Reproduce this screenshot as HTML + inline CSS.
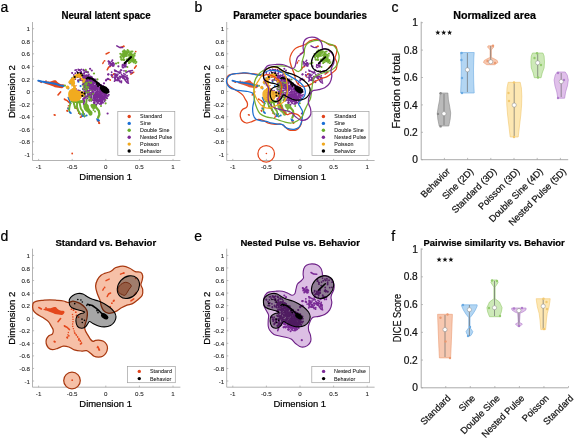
<!DOCTYPE html>
<html><head><meta charset="utf-8"><style>
html,body{margin:0;padding:0;background:#fff;}
body{width:575px;height:438px;overflow:hidden;font-family:"Liberation Sans", sans-serif;}
svg{display:block;will-change:transform;}
</style></head><body>
<svg width="575" height="438" viewBox="0 0 575 438" font-family='"Liberation Sans", sans-serif'>
<rect width="575" height="438" fill="#fff"/>
<text x="0.6" y="11.9" font-size="14" text-anchor="start" fill="#000" stroke="#000" stroke-width="0.22">a</text>
<text x="194.4" y="11.7" font-size="14" text-anchor="start" fill="#000" stroke="#000" stroke-width="0.22">b</text>
<text x="391.4" y="11.6" font-size="14" text-anchor="start" fill="#000" stroke="#000" stroke-width="0.22">c</text>
<text x="0.6" y="241.3" font-size="14" text-anchor="start" fill="#000" stroke="#000" stroke-width="0.22">d</text>
<text x="194.2" y="241.4" font-size="14" text-anchor="start" fill="#000" stroke="#000" stroke-width="0.22">e</text>
<text x="391.3" y="241.3" font-size="14" text-anchor="start" fill="#000" stroke="#000" stroke-width="0.22">f</text>
<path d="M32.5 22V160.5H180.4" fill="none" stroke="#a0a0a0" stroke-width="0.8"/>
<path d="M32.5 154.30h1.6" stroke="#a0a0a0" stroke-width="0.7"/>
<text x="30.0" y="156.9" font-size="6.2" text-anchor="end" fill="#1a1a1a" stroke="#1a1a1a" stroke-width="0.08">-1</text>
<path d="M32.5 141.74h1.6" stroke="#a0a0a0" stroke-width="0.7"/>
<text x="30.0" y="144.34" font-size="6.2" text-anchor="end" fill="#1a1a1a" stroke="#1a1a1a" stroke-width="0.08">-0.8</text>
<path d="M32.5 129.18h1.6" stroke="#a0a0a0" stroke-width="0.7"/>
<text x="30.0" y="131.78" font-size="6.2" text-anchor="end" fill="#1a1a1a" stroke="#1a1a1a" stroke-width="0.08">-0.6</text>
<path d="M32.5 116.62h1.6" stroke="#a0a0a0" stroke-width="0.7"/>
<text x="30.0" y="119.22" font-size="6.2" text-anchor="end" fill="#1a1a1a" stroke="#1a1a1a" stroke-width="0.08">-0.4</text>
<path d="M32.5 104.06h1.6" stroke="#a0a0a0" stroke-width="0.7"/>
<text x="30.0" y="106.66" font-size="6.2" text-anchor="end" fill="#1a1a1a" stroke="#1a1a1a" stroke-width="0.08">-0.2</text>
<path d="M32.5 91.50h1.6" stroke="#a0a0a0" stroke-width="0.7"/>
<text x="30.0" y="94.1" font-size="6.2" text-anchor="end" fill="#1a1a1a" stroke="#1a1a1a" stroke-width="0.08">0</text>
<path d="M32.5 78.94h1.6" stroke="#a0a0a0" stroke-width="0.7"/>
<text x="30.0" y="81.53999999999999" font-size="6.2" text-anchor="end" fill="#1a1a1a" stroke="#1a1a1a" stroke-width="0.08">0.2</text>
<path d="M32.5 66.38h1.6" stroke="#a0a0a0" stroke-width="0.7"/>
<text x="30.0" y="68.97999999999999" font-size="6.2" text-anchor="end" fill="#1a1a1a" stroke="#1a1a1a" stroke-width="0.08">0.4</text>
<path d="M32.5 53.82h1.6" stroke="#a0a0a0" stroke-width="0.7"/>
<text x="30.0" y="56.419999999999995" font-size="6.2" text-anchor="end" fill="#1a1a1a" stroke="#1a1a1a" stroke-width="0.08">0.6</text>
<path d="M32.5 41.26h1.6" stroke="#a0a0a0" stroke-width="0.7"/>
<text x="30.0" y="43.86" font-size="6.2" text-anchor="end" fill="#1a1a1a" stroke="#1a1a1a" stroke-width="0.08">0.8</text>
<path d="M32.5 28.70h1.6" stroke="#a0a0a0" stroke-width="0.7"/>
<text x="30.0" y="31.300000000000004" font-size="6.2" text-anchor="end" fill="#1a1a1a" stroke="#1a1a1a" stroke-width="0.08">1</text>
<path d="M38.60 160.5v-1.6" stroke="#a0a0a0" stroke-width="0.7"/>
<text x="38.599999999999994" y="169.1" font-size="6.2" text-anchor="middle" fill="#1a1a1a" stroke="#1a1a1a" stroke-width="0.08">-1</text>
<path d="M72.20 160.5v-1.6" stroke="#a0a0a0" stroke-width="0.7"/>
<text x="72.19999999999999" y="169.1" font-size="6.2" text-anchor="middle" fill="#1a1a1a" stroke="#1a1a1a" stroke-width="0.08">-0.5</text>
<path d="M105.80 160.5v-1.6" stroke="#a0a0a0" stroke-width="0.7"/>
<text x="105.8" y="169.1" font-size="6.2" text-anchor="middle" fill="#1a1a1a" stroke="#1a1a1a" stroke-width="0.08">0</text>
<path d="M139.40 160.5v-1.6" stroke="#a0a0a0" stroke-width="0.7"/>
<text x="139.4" y="169.1" font-size="6.2" text-anchor="middle" fill="#1a1a1a" stroke="#1a1a1a" stroke-width="0.08">0.5</text>
<path d="M173.00 160.5v-1.6" stroke="#a0a0a0" stroke-width="0.7"/>
<text x="173.0" y="169.1" font-size="6.2" text-anchor="middle" fill="#1a1a1a" stroke="#1a1a1a" stroke-width="0.08">1</text>
<text x="79.3" y="180.2" font-size="9.9" text-anchor="start" fill="#000" stroke="#000" stroke-width="0.22" textLength="52.6" lengthAdjust="spacingAndGlyphs">Dimension 1</text>
<text x="15.4" y="118.0" font-size="9.9" text-anchor="start" fill="#000" stroke="#000" stroke-width="0.22" transform="rotate(-90 15.4 118.0)" textLength="52.9" lengthAdjust="spacingAndGlyphs">Dimension 2</text>
<text x="61.4" y="19.2" font-size="10.0" text-anchor="start" font-weight="bold" fill="#000" stroke="#000" stroke-width="0.22" textLength="89.3" lengthAdjust="spacingAndGlyphs">Neural latent space</text>
<path d="M43.80 82.20 C44.35 81.92 45.98 81.70 47.10 81.60 C48.22 81.50 49.47 81.78 50.50 81.60 C51.53 81.42 52.47 80.72 53.30 80.50 C54.13 80.28 54.77 80.02 55.50 80.30 C56.23 80.58 56.87 81.60 57.70 82.20 C58.53 82.80 59.48 83.53 60.50 83.90 C61.52 84.27 63.15 84.03 63.80 84.40 C64.45 84.77 64.67 85.45 64.40 86.10 C64.13 86.75 63.22 88.02 62.20 88.30 C61.18 88.58 59.52 87.98 58.30 87.80 C57.08 87.62 55.93 87.48 54.90 87.20 C53.87 86.92 53.02 86.47 52.10 86.10 C51.18 85.73 50.42 85.37 49.40 85.00 C48.38 84.63 46.93 84.18 46.00 83.90 C45.07 83.62 44.17 83.58 43.80 83.30 C43.43 83.02 43.25 82.48 43.80 82.20Z" fill="#e4471c" fill-opacity="1.0"/>
<path d="M38.80 80.80 L41.40 82.30" fill="none" stroke="#e4471c" stroke-width="1.60" stroke-linecap="round" stroke-linejoin="round"/>
<path d="M72.40 87.20 L73.00 91.00 L73.00 94.90 L72.40 98.70 L73.60 102.50 L74.90 106.40 L77.50 110.20 L80.00 114.10 L82.00 117.30" fill="none" stroke="#e4471c" stroke-width="1.30" stroke-dasharray="1.3 1.1"/>
<path d="M68.50 105.10 L67.20 111.50" fill="none" stroke="#e4471c" stroke-width="1.20" stroke-dasharray="1.3 1.1"/>
<path d="M74.20 105.60 L78.00 110.50 L81.80 115.90" fill="none" stroke="#e4471c" stroke-width="1.20" stroke-dasharray="1.3 1.1"/>
<path d="M64.70 99.50 L67.00 100.50 L69.50 102.90" fill="none" stroke="#e4471c" stroke-width="1.50" stroke-linecap="round" stroke-linejoin="round"/>
<path d="M97.80 119.80 L99.60 123.40" fill="none" stroke="#e4471c" stroke-width="1.40" stroke-linecap="round" stroke-linejoin="round"/>
<circle cx="71.50" cy="82.50" r="0.90" fill="#e4471c"/>
<circle cx="73.50" cy="83.50" r="0.90" fill="#e4471c"/>
<circle cx="75.80" cy="85.50" r="0.90" fill="#e4471c"/>
<circle cx="76.50" cy="88.80" r="0.90" fill="#e4471c"/>
<circle cx="78.50" cy="90.50" r="0.90" fill="#e4471c"/>
<circle cx="54.30" cy="114.80" r="0.90" fill="#e4471c"/>
<circle cx="97.50" cy="120.70" r="0.90" fill="#e4471c"/>
<circle cx="67.40" cy="111.10" r="0.90" fill="#e4471c"/>
<circle cx="68.80" cy="109.10" r="0.90" fill="#e4471c"/>
<circle cx="46.00" cy="81.20" r="0.90" fill="#e4471c"/>
<circle cx="64.50" cy="99.10" r="0.90" fill="#e4471c"/>
<circle cx="55.00" cy="115.10" r="0.90" fill="#e4471c"/>
<circle cx="80.60" cy="117.20" r="0.90" fill="#e4471c"/>
<circle cx="98.90" cy="123.00" r="0.90" fill="#e4471c"/>
<circle cx="78.80" cy="113.20" r="0.90" fill="#e4471c"/>
<circle cx="67.10" cy="110.60" r="0.90" fill="#e4471c"/>
<circle cx="72.20" cy="153.50" r="0.90" fill="#e4471c"/>
<circle cx="123.70" cy="46.40" r="0.90" fill="#e4471c"/>
<circle cx="135.70" cy="51.60" r="0.90" fill="#e4471c"/>
<circle cx="113.40" cy="74.40" r="0.90" fill="#e4471c"/>
<circle cx="114.00" cy="73.80" r="0.90" fill="#e4471c"/>
<circle cx="111.90" cy="76.50" r="0.90" fill="#e4471c"/>
<circle cx="110.20" cy="80.00" r="0.90" fill="#e4471c"/>
<circle cx="104.60" cy="60.80" r="0.90" fill="#e4471c"/>
<path d="M58.00 95.00 L60.60 91.90" fill="none" stroke="#e4471c" stroke-width="1.60" stroke-linecap="round" stroke-linejoin="round"/>
<path d="M102.80 63.50 L103.50 62.00" fill="none" stroke="#e4471c" stroke-width="1.40" stroke-linecap="round" stroke-linejoin="round"/>
<path d="M106.00 54.00 L109.20 52.40" fill="none" stroke="#e4471c" stroke-width="1.40" stroke-linecap="round" stroke-linejoin="round"/>
<path d="M107.20 69.80 L108.50 67.30 L110.60 66.30" fill="none" stroke="#e4471c" stroke-width="1.50" stroke-linecap="round" stroke-linejoin="round"/>
<path d="M134.50 68.20 L136.30 65.80" fill="none" stroke="#e4471c" stroke-width="1.50" stroke-linecap="round" stroke-linejoin="round"/>
<path d="M130.90 74.20 L133.80 72.20" fill="none" stroke="#e4471c" stroke-width="1.50" stroke-linecap="round" stroke-linejoin="round"/>
<path d="M120.50 47.50 L124.00 46.20" fill="none" stroke="#e4471c" stroke-width="1.40" stroke-linecap="round" stroke-linejoin="round"/>
<path d="M38.20 80.70 L41.60 81.50 L46.00 82.30 L49.90 82.90 L53.80 83.50 L57.10 84.30 L59.90 85.40 L63.30 86.00" fill="none" stroke="#1b70d2" stroke-width="1.90" stroke-linecap="round" stroke-linejoin="round"/>
<circle cx="72.00" cy="78.30" r="1.10" fill="#1b70d2"/>
<circle cx="70.30" cy="83.40" r="1.10" fill="#1b70d2"/>
<circle cx="78.40" cy="81.70" r="1.10" fill="#1b70d2"/>
<circle cx="80.60" cy="86.10" r="1.10" fill="#1b70d2"/>
<circle cx="68.30" cy="88.40" r="1.10" fill="#1b70d2"/>
<circle cx="83.40" cy="89.50" r="1.10" fill="#1b70d2"/>
<circle cx="68.30" cy="108.60" r="1.10" fill="#1b70d2"/>
<circle cx="82.60" cy="116.00" r="1.10" fill="#1b70d2"/>
<circle cx="98.00" cy="120.50" r="1.10" fill="#1b70d2"/>
<circle cx="86.50" cy="115.50" r="1.10" fill="#1b70d2"/>
<circle cx="70.20" cy="112.50" r="1.10" fill="#1b70d2"/>
<circle cx="69.50" cy="99.00" r="1.10" fill="#1b70d2"/>
<circle cx="84.00" cy="114.00" r="1.10" fill="#1b70d2"/>
<path d="M68.20 97.50 L69.50 100.50 L70.80 103.60" fill="none" stroke="#1b70d2" stroke-width="1.50" stroke-linecap="round" stroke-linejoin="round"/>
<path d="M96.80 119.00 L99.20 120.50" fill="none" stroke="#1b70d2" stroke-width="1.50" stroke-linecap="round" stroke-linejoin="round"/>
<path d="M69.20 111.50 L71.00 113.20" fill="none" stroke="#1b70d2" stroke-width="1.50" stroke-linecap="round" stroke-linejoin="round"/>
<path d="M81.80 114.00 L84.50 116.80" fill="none" stroke="#1b70d2" stroke-width="1.50" stroke-linecap="round" stroke-linejoin="round"/>
<path d="M123.50 51.50 C124.25 50.50 125.67 50.33 126.50 50.50 C127.33 50.67 128.42 51.67 128.50 52.50 C128.58 53.33 127.67 54.67 127.00 55.50 C126.33 56.33 125.33 57.33 124.50 57.50 C123.67 57.67 122.17 57.50 122.00 56.50 C121.83 55.50 122.75 52.50 123.50 51.50Z" fill="#70ad2e" fill-opacity="1.0"/>
<path d="M131.00 54.00 C131.58 53.58 132.92 54.25 133.50 55.00 C134.08 55.75 134.58 57.42 134.50 58.50 C134.42 59.58 133.67 61.08 133.00 61.50 C132.33 61.92 131.00 61.67 130.50 61.00 C130.00 60.33 129.92 58.67 130.00 57.50 C130.08 56.33 130.42 54.42 131.00 54.00Z" fill="#70ad2e" fill-opacity="1.0"/>
<circle cx="126.23" cy="52.44" r="1.00" fill="#70ad2e"/>
<circle cx="129.82" cy="59.88" r="1.00" fill="#70ad2e"/>
<circle cx="129.37" cy="54.91" r="1.00" fill="#70ad2e"/>
<circle cx="132.62" cy="58.04" r="1.00" fill="#70ad2e"/>
<circle cx="133.52" cy="59.42" r="1.00" fill="#70ad2e"/>
<circle cx="134.58" cy="55.82" r="1.00" fill="#70ad2e"/>
<circle cx="132.46" cy="51.41" r="1.00" fill="#70ad2e"/>
<circle cx="131.21" cy="58.76" r="1.00" fill="#70ad2e"/>
<circle cx="132.52" cy="60.56" r="1.00" fill="#70ad2e"/>
<circle cx="121.58" cy="59.55" r="1.00" fill="#70ad2e"/>
<circle cx="120.27" cy="53.85" r="1.00" fill="#70ad2e"/>
<circle cx="130.58" cy="58.55" r="1.00" fill="#70ad2e"/>
<circle cx="134.71" cy="53.58" r="1.00" fill="#70ad2e"/>
<circle cx="121.96" cy="59.52" r="1.00" fill="#70ad2e"/>
<circle cx="126.71" cy="59.45" r="1.00" fill="#70ad2e"/>
<circle cx="128.28" cy="55.10" r="1.00" fill="#70ad2e"/>
<circle cx="127.64" cy="60.50" r="1.00" fill="#70ad2e"/>
<circle cx="127.05" cy="60.76" r="1.00" fill="#70ad2e"/>
<circle cx="129.12" cy="62.96" r="1.00" fill="#70ad2e"/>
<circle cx="131.22" cy="53.91" r="1.00" fill="#70ad2e"/>
<circle cx="135.22" cy="60.87" r="1.00" fill="#70ad2e"/>
<circle cx="121.29" cy="59.40" r="1.00" fill="#70ad2e"/>
<circle cx="131.23" cy="60.84" r="1.00" fill="#70ad2e"/>
<circle cx="130.38" cy="55.48" r="1.00" fill="#70ad2e"/>
<circle cx="123.70" cy="55.79" r="1.00" fill="#70ad2e"/>
<circle cx="132.65" cy="59.72" r="1.00" fill="#70ad2e"/>
<circle cx="126.77" cy="55.99" r="1.00" fill="#70ad2e"/>
<circle cx="123.15" cy="59.82" r="1.00" fill="#70ad2e"/>
<circle cx="132.97" cy="60.56" r="1.00" fill="#70ad2e"/>
<circle cx="123.20" cy="51.36" r="1.00" fill="#70ad2e"/>
<circle cx="123.62" cy="57.89" r="1.00" fill="#70ad2e"/>
<circle cx="122.12" cy="54.03" r="1.00" fill="#70ad2e"/>
<circle cx="123.46" cy="59.65" r="1.00" fill="#70ad2e"/>
<circle cx="130.20" cy="60.25" r="1.00" fill="#70ad2e"/>
<circle cx="129.36" cy="56.76" r="1.00" fill="#70ad2e"/>
<circle cx="130.92" cy="57.01" r="1.00" fill="#70ad2e"/>
<circle cx="131.12" cy="51.57" r="1.00" fill="#70ad2e"/>
<circle cx="132.54" cy="61.40" r="1.00" fill="#70ad2e"/>
<circle cx="120.61" cy="56.96" r="1.00" fill="#70ad2e"/>
<circle cx="130.13" cy="54.40" r="1.00" fill="#70ad2e"/>
<circle cx="130.44" cy="62.14" r="1.00" fill="#70ad2e"/>
<circle cx="129.99" cy="53.61" r="1.00" fill="#70ad2e"/>
<circle cx="133.81" cy="59.90" r="1.00" fill="#70ad2e"/>
<circle cx="123.65" cy="56.80" r="1.00" fill="#70ad2e"/>
<circle cx="130.11" cy="52.48" r="1.00" fill="#70ad2e"/>
<circle cx="122.62" cy="56.38" r="1.00" fill="#70ad2e"/>
<circle cx="120.61" cy="56.72" r="1.00" fill="#70ad2e"/>
<circle cx="136.41" cy="62.08" r="1.00" fill="#70ad2e"/>
<circle cx="132.34" cy="60.17" r="1.00" fill="#70ad2e"/>
<circle cx="125.17" cy="54.64" r="1.00" fill="#70ad2e"/>
<circle cx="128.65" cy="51.11" r="1.00" fill="#70ad2e"/>
<circle cx="131.22" cy="57.30" r="1.00" fill="#70ad2e"/>
<circle cx="133.25" cy="60.48" r="1.00" fill="#70ad2e"/>
<circle cx="126.32" cy="51.72" r="1.00" fill="#70ad2e"/>
<circle cx="128.89" cy="58.20" r="1.00" fill="#70ad2e"/>
<circle cx="131.85" cy="56.63" r="1.00" fill="#70ad2e"/>
<circle cx="129.63" cy="60.38" r="1.00" fill="#70ad2e"/>
<circle cx="122.75" cy="51.63" r="1.00" fill="#70ad2e"/>
<circle cx="128.12" cy="60.92" r="1.00" fill="#70ad2e"/>
<circle cx="133.91" cy="62.52" r="1.00" fill="#70ad2e"/>
<circle cx="127.29" cy="60.26" r="1.00" fill="#70ad2e"/>
<circle cx="121.23" cy="55.00" r="1.00" fill="#70ad2e"/>
<circle cx="132.99" cy="54.73" r="1.00" fill="#70ad2e"/>
<circle cx="126.05" cy="54.38" r="1.00" fill="#70ad2e"/>
<circle cx="134.64" cy="53.81" r="1.00" fill="#70ad2e"/>
<circle cx="135.29" cy="59.91" r="1.00" fill="#70ad2e"/>
<circle cx="134.77" cy="61.33" r="1.00" fill="#70ad2e"/>
<circle cx="125.59" cy="51.42" r="1.00" fill="#70ad2e"/>
<circle cx="128.95" cy="63.06" r="1.00" fill="#70ad2e"/>
<circle cx="128.11" cy="52.79" r="1.00" fill="#70ad2e"/>
<circle cx="131.78" cy="57.32" r="1.00" fill="#70ad2e"/>
<circle cx="124.26" cy="59.91" r="1.00" fill="#70ad2e"/>
<circle cx="134.09" cy="60.91" r="1.00" fill="#70ad2e"/>
<circle cx="128.81" cy="51.83" r="1.00" fill="#70ad2e"/>
<circle cx="131.40" cy="53.26" r="1.00" fill="#70ad2e"/>
<circle cx="124.22" cy="50.20" r="1.00" fill="#70ad2e"/>
<circle cx="124.86" cy="55.26" r="1.00" fill="#70ad2e"/>
<circle cx="129.21" cy="60.90" r="1.00" fill="#70ad2e"/>
<circle cx="127.49" cy="59.31" r="1.00" fill="#70ad2e"/>
<circle cx="124.69" cy="54.68" r="1.00" fill="#70ad2e"/>
<circle cx="122.45" cy="55.52" r="1.00" fill="#70ad2e"/>
<circle cx="120.90" cy="57.87" r="1.00" fill="#70ad2e"/>
<circle cx="132.56" cy="58.97" r="1.00" fill="#70ad2e"/>
<circle cx="127.62" cy="50.03" r="1.00" fill="#70ad2e"/>
<circle cx="135.56" cy="63.22" r="1.00" fill="#70ad2e"/>
<circle cx="85.70" cy="69.90" r="1.10" fill="#70ad2e"/>
<circle cx="87.90" cy="72.10" r="1.10" fill="#70ad2e"/>
<circle cx="94.00" cy="73.50" r="1.10" fill="#70ad2e"/>
<circle cx="97.40" cy="79.40" r="1.10" fill="#70ad2e"/>
<circle cx="92.30" cy="85.50" r="1.10" fill="#70ad2e"/>
<circle cx="116.00" cy="63.50" r="1.10" fill="#70ad2e"/>
<circle cx="118.20" cy="62.80" r="1.10" fill="#70ad2e"/>
<circle cx="125.90" cy="71.10" r="1.10" fill="#70ad2e"/>
<circle cx="127.30" cy="67.00" r="1.10" fill="#70ad2e"/>
<circle cx="64.90" cy="85.70" r="1.10" fill="#70ad2e"/>
<circle cx="102.00" cy="99.00" r="1.10" fill="#70ad2e"/>
<circle cx="105.40" cy="100.00" r="1.10" fill="#70ad2e"/>
<circle cx="105.60" cy="103.30" r="1.10" fill="#70ad2e"/>
<circle cx="78.00" cy="77.00" r="1.10" fill="#70ad2e"/>
<circle cx="79.50" cy="80.00" r="1.10" fill="#70ad2e"/>
<path d="M72.00 101.00 L78.00 101.80 L83.00 101.50" fill="none" stroke="#70ad2e" stroke-width="3.00" stroke-linecap="round" stroke-linejoin="round"/>
<path d="M70.40 103.30 L69.60 106.50 L69.30 108.40 L69.20 110.60" fill="none" stroke="#70ad2e" stroke-width="1.80" stroke-linecap="round" stroke-linejoin="round"/>
<path d="M73.80 103.00 L74.50 105.50 L75.10 108.10" fill="none" stroke="#70ad2e" stroke-width="1.90" stroke-linecap="round" stroke-linejoin="round"/>
<path d="M77.00 103.00 L77.00 106.90 L78.30 110.70 L80.20 113.90" fill="none" stroke="#70ad2e" stroke-width="1.90" stroke-linecap="round" stroke-linejoin="round"/>
<path d="M79.60 103.00 L80.90 108.80 L82.80 111.30 L83.40 114.50" fill="none" stroke="#70ad2e" stroke-width="1.90" stroke-linecap="round" stroke-linejoin="round"/>
<path d="M83.40 104.00 C83.80 103.22 85.15 103.13 86.00 103.30 C86.85 103.47 87.97 104.22 88.50 105.00 C89.03 105.78 88.87 107.17 89.20 108.00 C89.53 108.83 89.97 109.33 90.50 110.00 C91.03 110.67 92.15 111.17 92.40 112.00 C92.65 112.83 92.48 114.42 92.00 115.00 C91.52 115.58 90.17 115.83 89.50 115.50 C88.83 115.17 88.67 113.75 88.00 113.00 C87.33 112.25 86.23 111.83 85.50 111.00 C84.77 110.17 83.95 109.17 83.60 108.00 C83.25 106.83 83.00 104.78 83.40 104.00Z" fill="#70ad2e" fill-opacity="1.0"/>
<path d="M86.60 99.80 L86.00 104.30" fill="none" stroke="#70ad2e" stroke-width="2.00" stroke-linecap="round" stroke-linejoin="round"/>
<path d="M90.40 105.00 C90.57 104.22 92.07 103.92 93.00 103.80 C93.93 103.68 95.33 103.85 96.00 104.30 C96.67 104.75 97.17 105.75 97.00 106.50 C96.83 107.25 95.83 108.47 95.00 108.80 C94.17 109.13 92.77 109.13 92.00 108.50 C91.23 107.87 90.23 105.78 90.40 105.00Z" fill="#70ad2e" fill-opacity="1.0"/>
<path d="M96.20 107.50 L98.80 110.70 L99.40 114.50 L98.10 117.70" fill="none" stroke="#70ad2e" stroke-width="2.30" stroke-linecap="round" stroke-linejoin="round"/>
<circle cx="93.50" cy="110.00" r="1.00" fill="#70ad2e"/>
<circle cx="95.00" cy="111.50" r="1.00" fill="#70ad2e"/>
<circle cx="85.00" cy="116.00" r="1.00" fill="#70ad2e"/>
<circle cx="101.00" cy="106.00" r="1.00" fill="#70ad2e"/>
<path d="M84.00 81.50 C84.67 80.75 87.00 81.08 88.00 81.50 C89.00 81.92 89.75 82.92 90.00 84.00 C90.25 85.08 90.17 87.25 89.50 88.00 C88.83 88.75 86.92 88.83 86.00 88.50 C85.08 88.17 84.33 87.17 84.00 86.00 C83.67 84.83 83.33 82.25 84.00 81.50Z" fill="#70ad2e" fill-opacity="1.0"/>
<circle cx="90.22" cy="80.70" r="1.05" fill="#7a2b95"/>
<circle cx="96.99" cy="94.41" r="1.05" fill="#7a2b95"/>
<circle cx="92.47" cy="80.70" r="1.05" fill="#7a2b95"/>
<circle cx="94.13" cy="96.18" r="1.05" fill="#7a2b95"/>
<circle cx="99.53" cy="88.75" r="1.05" fill="#7a2b95"/>
<circle cx="93.53" cy="85.93" r="1.05" fill="#7a2b95"/>
<circle cx="96.50" cy="100.92" r="1.05" fill="#7a2b95"/>
<circle cx="93.74" cy="83.21" r="1.05" fill="#7a2b95"/>
<circle cx="100.41" cy="91.14" r="1.05" fill="#7a2b95"/>
<circle cx="96.33" cy="82.89" r="1.05" fill="#7a2b95"/>
<circle cx="105.46" cy="93.63" r="1.05" fill="#7a2b95"/>
<circle cx="93.89" cy="97.12" r="1.05" fill="#7a2b95"/>
<circle cx="95.95" cy="87.51" r="1.05" fill="#7a2b95"/>
<circle cx="101.51" cy="98.07" r="1.05" fill="#7a2b95"/>
<circle cx="95.45" cy="82.23" r="1.05" fill="#7a2b95"/>
<circle cx="101.10" cy="91.10" r="1.05" fill="#7a2b95"/>
<circle cx="100.70" cy="94.69" r="1.05" fill="#7a2b95"/>
<circle cx="91.70" cy="87.58" r="1.05" fill="#7a2b95"/>
<circle cx="106.20" cy="93.58" r="1.05" fill="#7a2b95"/>
<circle cx="98.10" cy="97.21" r="1.05" fill="#7a2b95"/>
<circle cx="97.92" cy="96.93" r="1.05" fill="#7a2b95"/>
<circle cx="92.12" cy="82.66" r="1.05" fill="#7a2b95"/>
<circle cx="95.97" cy="95.12" r="1.05" fill="#7a2b95"/>
<circle cx="98.87" cy="96.92" r="1.05" fill="#7a2b95"/>
<circle cx="94.95" cy="86.94" r="1.05" fill="#7a2b95"/>
<circle cx="100.91" cy="93.27" r="1.05" fill="#7a2b95"/>
<circle cx="90.68" cy="80.69" r="1.05" fill="#7a2b95"/>
<circle cx="96.68" cy="84.78" r="1.05" fill="#7a2b95"/>
<circle cx="93.68" cy="82.64" r="1.05" fill="#7a2b95"/>
<circle cx="93.27" cy="88.92" r="1.05" fill="#7a2b95"/>
<circle cx="102.37" cy="90.59" r="1.05" fill="#7a2b95"/>
<circle cx="99.33" cy="95.21" r="1.05" fill="#7a2b95"/>
<circle cx="98.22" cy="95.21" r="1.05" fill="#7a2b95"/>
<circle cx="102.28" cy="91.91" r="1.05" fill="#7a2b95"/>
<circle cx="92.11" cy="88.20" r="1.05" fill="#7a2b95"/>
<circle cx="92.50" cy="87.14" r="1.05" fill="#7a2b95"/>
<circle cx="95.47" cy="88.21" r="1.05" fill="#7a2b95"/>
<circle cx="102.66" cy="91.00" r="1.05" fill="#7a2b95"/>
<circle cx="94.32" cy="96.69" r="1.05" fill="#7a2b95"/>
<circle cx="103.08" cy="97.85" r="1.05" fill="#7a2b95"/>
<circle cx="93.60" cy="97.53" r="1.05" fill="#7a2b95"/>
<circle cx="96.48" cy="87.63" r="1.05" fill="#7a2b95"/>
<circle cx="93.53" cy="83.15" r="1.05" fill="#7a2b95"/>
<circle cx="96.15" cy="94.75" r="1.05" fill="#7a2b95"/>
<circle cx="96.55" cy="96.51" r="1.05" fill="#7a2b95"/>
<circle cx="91.17" cy="83.98" r="1.05" fill="#7a2b95"/>
<circle cx="101.12" cy="89.51" r="1.05" fill="#7a2b95"/>
<circle cx="98.90" cy="100.45" r="1.05" fill="#7a2b95"/>
<circle cx="94.94" cy="82.36" r="1.05" fill="#7a2b95"/>
<circle cx="95.29" cy="89.37" r="1.05" fill="#7a2b95"/>
<circle cx="96.76" cy="96.18" r="1.05" fill="#7a2b95"/>
<circle cx="95.35" cy="99.90" r="1.05" fill="#7a2b95"/>
<circle cx="100.31" cy="87.68" r="1.05" fill="#7a2b95"/>
<circle cx="100.77" cy="98.32" r="1.05" fill="#7a2b95"/>
<circle cx="93.34" cy="86.96" r="1.05" fill="#7a2b95"/>
<circle cx="99.66" cy="100.59" r="1.05" fill="#7a2b95"/>
<circle cx="101.99" cy="90.46" r="1.05" fill="#7a2b95"/>
<circle cx="96.90" cy="94.25" r="1.05" fill="#7a2b95"/>
<circle cx="97.31" cy="97.76" r="1.05" fill="#7a2b95"/>
<circle cx="94.31" cy="94.94" r="1.05" fill="#7a2b95"/>
<circle cx="91.10" cy="83.96" r="1.05" fill="#7a2b95"/>
<circle cx="92.50" cy="79.14" r="1.05" fill="#7a2b95"/>
<circle cx="97.28" cy="90.92" r="1.05" fill="#7a2b95"/>
<circle cx="97.83" cy="89.52" r="1.05" fill="#7a2b95"/>
<circle cx="98.51" cy="94.46" r="1.05" fill="#7a2b95"/>
<circle cx="106.03" cy="97.85" r="1.05" fill="#7a2b95"/>
<circle cx="93.00" cy="80.15" r="1.05" fill="#7a2b95"/>
<circle cx="100.13" cy="99.83" r="1.05" fill="#7a2b95"/>
<circle cx="95.74" cy="87.34" r="1.05" fill="#7a2b95"/>
<circle cx="97.44" cy="100.67" r="1.05" fill="#7a2b95"/>
<circle cx="102.18" cy="98.13" r="1.05" fill="#7a2b95"/>
<circle cx="98.03" cy="87.64" r="1.05" fill="#7a2b95"/>
<circle cx="104.54" cy="95.65" r="1.05" fill="#7a2b95"/>
<circle cx="106.21" cy="95.72" r="1.05" fill="#7a2b95"/>
<circle cx="99.90" cy="96.83" r="1.05" fill="#7a2b95"/>
<circle cx="100.42" cy="98.91" r="1.05" fill="#7a2b95"/>
<circle cx="96.78" cy="83.49" r="1.05" fill="#7a2b95"/>
<circle cx="97.50" cy="85.52" r="1.05" fill="#7a2b95"/>
<circle cx="94.85" cy="88.57" r="1.05" fill="#7a2b95"/>
<circle cx="93.32" cy="83.43" r="1.05" fill="#7a2b95"/>
<circle cx="94.73" cy="96.71" r="1.05" fill="#7a2b95"/>
<circle cx="99.65" cy="89.66" r="1.05" fill="#7a2b95"/>
<circle cx="96.27" cy="94.59" r="1.05" fill="#7a2b95"/>
<circle cx="105.07" cy="91.18" r="1.05" fill="#7a2b95"/>
<circle cx="102.59" cy="92.65" r="1.05" fill="#7a2b95"/>
<circle cx="99.82" cy="92.21" r="1.05" fill="#7a2b95"/>
<circle cx="99.70" cy="96.88" r="1.05" fill="#7a2b95"/>
<circle cx="100.58" cy="91.02" r="1.05" fill="#7a2b95"/>
<circle cx="99.51" cy="97.62" r="1.05" fill="#7a2b95"/>
<circle cx="96.93" cy="99.54" r="1.05" fill="#7a2b95"/>
<circle cx="98.90" cy="93.92" r="1.05" fill="#7a2b95"/>
<circle cx="93.34" cy="81.27" r="1.05" fill="#7a2b95"/>
<circle cx="102.60" cy="95.71" r="1.05" fill="#7a2b95"/>
<circle cx="105.27" cy="96.88" r="1.05" fill="#7a2b95"/>
<circle cx="93.00" cy="80.35" r="1.05" fill="#7a2b95"/>
<circle cx="104.44" cy="98.35" r="1.05" fill="#7a2b95"/>
<circle cx="96.19" cy="82.32" r="1.05" fill="#7a2b95"/>
<circle cx="95.30" cy="97.71" r="1.05" fill="#7a2b95"/>
<circle cx="90.65" cy="79.78" r="1.05" fill="#7a2b95"/>
<circle cx="105.34" cy="94.92" r="1.05" fill="#7a2b95"/>
<circle cx="94.44" cy="98.88" r="1.05" fill="#7a2b95"/>
<circle cx="100.79" cy="100.16" r="1.05" fill="#7a2b95"/>
<circle cx="96.39" cy="87.91" r="1.05" fill="#7a2b95"/>
<circle cx="102.78" cy="99.18" r="1.05" fill="#7a2b95"/>
<circle cx="92.95" cy="84.32" r="1.05" fill="#7a2b95"/>
<circle cx="106.44" cy="91.63" r="1.05" fill="#7a2b95"/>
<circle cx="106.27" cy="93.84" r="1.05" fill="#7a2b95"/>
<circle cx="98.73" cy="86.26" r="1.05" fill="#7a2b95"/>
<circle cx="92.86" cy="89.23" r="1.05" fill="#7a2b95"/>
<circle cx="96.51" cy="83.59" r="1.05" fill="#7a2b95"/>
<circle cx="101.51" cy="93.88" r="1.05" fill="#7a2b95"/>
<circle cx="98.29" cy="95.19" r="1.05" fill="#7a2b95"/>
<circle cx="96.68" cy="88.40" r="1.05" fill="#7a2b95"/>
<circle cx="100.09" cy="101.55" r="1.05" fill="#7a2b95"/>
<circle cx="95.99" cy="97.32" r="1.05" fill="#7a2b95"/>
<circle cx="100.46" cy="94.34" r="1.05" fill="#7a2b95"/>
<circle cx="99.78" cy="96.42" r="1.05" fill="#7a2b95"/>
<circle cx="100.73" cy="87.40" r="1.05" fill="#7a2b95"/>
<circle cx="102.19" cy="100.97" r="1.05" fill="#7a2b95"/>
<circle cx="102.37" cy="93.00" r="1.05" fill="#7a2b95"/>
<circle cx="97.10" cy="89.16" r="1.05" fill="#7a2b95"/>
<circle cx="99.90" cy="88.70" r="1.05" fill="#7a2b95"/>
<circle cx="102.06" cy="96.55" r="1.05" fill="#7a2b95"/>
<circle cx="96.05" cy="100.80" r="1.05" fill="#7a2b95"/>
<circle cx="101.94" cy="89.68" r="1.05" fill="#7a2b95"/>
<circle cx="95.42" cy="88.55" r="1.05" fill="#7a2b95"/>
<circle cx="94.51" cy="95.02" r="1.05" fill="#7a2b95"/>
<circle cx="91.55" cy="79.78" r="1.05" fill="#7a2b95"/>
<circle cx="92.39" cy="87.04" r="1.05" fill="#7a2b95"/>
<circle cx="90.87" cy="81.96" r="1.05" fill="#7a2b95"/>
<circle cx="99.61" cy="99.21" r="1.05" fill="#7a2b95"/>
<circle cx="93.99" cy="89.30" r="1.05" fill="#7a2b95"/>
<circle cx="99.30" cy="97.80" r="1.05" fill="#7a2b95"/>
<circle cx="104.52" cy="94.72" r="1.05" fill="#7a2b95"/>
<circle cx="106.35" cy="91.71" r="1.05" fill="#7a2b95"/>
<circle cx="100.73" cy="98.95" r="1.05" fill="#7a2b95"/>
<circle cx="94.51" cy="86.24" r="1.05" fill="#7a2b95"/>
<circle cx="104.14" cy="93.87" r="1.05" fill="#7a2b95"/>
<circle cx="100.75" cy="87.48" r="1.05" fill="#7a2b95"/>
<circle cx="96.26" cy="87.23" r="1.05" fill="#7a2b95"/>
<circle cx="106.19" cy="97.56" r="1.05" fill="#7a2b95"/>
<circle cx="94.43" cy="89.97" r="1.05" fill="#7a2b95"/>
<circle cx="96.34" cy="92.08" r="1.05" fill="#7a2b95"/>
<circle cx="95.13" cy="98.84" r="1.05" fill="#7a2b95"/>
<circle cx="101.19" cy="88.17" r="1.05" fill="#7a2b95"/>
<circle cx="95.66" cy="94.89" r="1.05" fill="#7a2b95"/>
<circle cx="94.52" cy="81.40" r="1.05" fill="#7a2b95"/>
<circle cx="104.17" cy="99.28" r="1.05" fill="#7a2b95"/>
<circle cx="104.37" cy="91.41" r="1.05" fill="#7a2b95"/>
<circle cx="102.77" cy="98.71" r="1.05" fill="#7a2b95"/>
<circle cx="96.33" cy="95.60" r="1.05" fill="#7a2b95"/>
<circle cx="95.98" cy="96.33" r="1.05" fill="#7a2b95"/>
<circle cx="97.75" cy="92.17" r="1.05" fill="#7a2b95"/>
<circle cx="101.19" cy="97.72" r="1.05" fill="#7a2b95"/>
<circle cx="97.84" cy="91.50" r="1.05" fill="#7a2b95"/>
<circle cx="95.47" cy="100.09" r="1.05" fill="#7a2b95"/>
<circle cx="96.62" cy="100.83" r="1.05" fill="#7a2b95"/>
<circle cx="95.48" cy="87.76" r="1.05" fill="#7a2b95"/>
<circle cx="102.55" cy="89.36" r="1.05" fill="#7a2b95"/>
<circle cx="100.90" cy="95.81" r="1.05" fill="#7a2b95"/>
<circle cx="104.75" cy="95.84" r="1.05" fill="#7a2b95"/>
<circle cx="94.04" cy="80.02" r="1.05" fill="#7a2b95"/>
<circle cx="93.44" cy="80.15" r="1.05" fill="#7a2b95"/>
<circle cx="94.52" cy="82.48" r="1.05" fill="#7a2b95"/>
<circle cx="95.83" cy="95.48" r="1.05" fill="#7a2b95"/>
<circle cx="99.09" cy="95.32" r="1.05" fill="#7a2b95"/>
<circle cx="93.53" cy="84.84" r="1.05" fill="#7a2b95"/>
<circle cx="101.41" cy="96.57" r="1.05" fill="#7a2b95"/>
<circle cx="97.82" cy="95.56" r="1.05" fill="#7a2b95"/>
<circle cx="99.95" cy="98.45" r="1.05" fill="#7a2b95"/>
<circle cx="89.02" cy="90.88" r="1.00" fill="#7a2b95"/>
<circle cx="92.64" cy="92.68" r="1.00" fill="#7a2b95"/>
<circle cx="89.61" cy="81.55" r="1.00" fill="#7a2b95"/>
<circle cx="105.42" cy="88.84" r="1.00" fill="#7a2b95"/>
<circle cx="99.90" cy="100.63" r="1.00" fill="#7a2b95"/>
<circle cx="96.84" cy="96.81" r="1.00" fill="#7a2b95"/>
<circle cx="103.28" cy="92.29" r="1.00" fill="#7a2b95"/>
<circle cx="106.22" cy="88.73" r="1.00" fill="#7a2b95"/>
<circle cx="102.20" cy="100.95" r="1.00" fill="#7a2b95"/>
<circle cx="102.07" cy="102.23" r="1.00" fill="#7a2b95"/>
<circle cx="93.32" cy="98.61" r="1.00" fill="#7a2b95"/>
<circle cx="94.68" cy="102.66" r="1.00" fill="#7a2b95"/>
<circle cx="86.23" cy="81.03" r="1.00" fill="#7a2b95"/>
<circle cx="96.40" cy="86.11" r="1.00" fill="#7a2b95"/>
<circle cx="92.11" cy="92.11" r="1.00" fill="#7a2b95"/>
<circle cx="98.51" cy="101.72" r="1.00" fill="#7a2b95"/>
<circle cx="101.19" cy="102.46" r="1.00" fill="#7a2b95"/>
<circle cx="107.29" cy="91.63" r="1.00" fill="#7a2b95"/>
<circle cx="105.29" cy="91.76" r="1.00" fill="#7a2b95"/>
<circle cx="90.31" cy="76.41" r="1.00" fill="#7a2b95"/>
<circle cx="93.75" cy="79.04" r="1.00" fill="#7a2b95"/>
<circle cx="90.55" cy="97.64" r="1.00" fill="#7a2b95"/>
<circle cx="96.35" cy="104.56" r="1.00" fill="#7a2b95"/>
<circle cx="90.98" cy="76.82" r="1.00" fill="#7a2b95"/>
<circle cx="87.91" cy="86.78" r="1.00" fill="#7a2b95"/>
<circle cx="95.12" cy="90.15" r="1.00" fill="#7a2b95"/>
<circle cx="100.14" cy="92.43" r="1.00" fill="#7a2b95"/>
<circle cx="97.82" cy="93.17" r="1.00" fill="#7a2b95"/>
<circle cx="108.27" cy="89.76" r="1.00" fill="#7a2b95"/>
<circle cx="94.31" cy="96.18" r="1.00" fill="#7a2b95"/>
<circle cx="89.01" cy="83.56" r="1.00" fill="#7a2b95"/>
<circle cx="93.88" cy="91.96" r="1.00" fill="#7a2b95"/>
<circle cx="99.69" cy="88.53" r="1.00" fill="#7a2b95"/>
<circle cx="101.11" cy="85.11" r="1.00" fill="#7a2b95"/>
<circle cx="101.87" cy="96.71" r="1.00" fill="#7a2b95"/>
<circle cx="83.11" cy="76.32" r="1.00" fill="#7a2b95"/>
<circle cx="101.02" cy="103.50" r="1.00" fill="#7a2b95"/>
<circle cx="89.38" cy="88.23" r="1.00" fill="#7a2b95"/>
<circle cx="98.74" cy="84.13" r="1.00" fill="#7a2b95"/>
<circle cx="92.47" cy="83.91" r="1.00" fill="#7a2b95"/>
<circle cx="92.61" cy="92.43" r="1.00" fill="#7a2b95"/>
<circle cx="90.73" cy="85.85" r="1.00" fill="#7a2b95"/>
<circle cx="98.10" cy="96.63" r="1.00" fill="#7a2b95"/>
<circle cx="90.99" cy="81.20" r="1.00" fill="#7a2b95"/>
<circle cx="87.63" cy="87.60" r="1.00" fill="#7a2b95"/>
<circle cx="91.32" cy="84.55" r="1.00" fill="#7a2b95"/>
<circle cx="105.34" cy="87.70" r="1.00" fill="#7a2b95"/>
<circle cx="91.73" cy="94.07" r="1.00" fill="#7a2b95"/>
<circle cx="88.67" cy="78.14" r="1.00" fill="#7a2b95"/>
<circle cx="104.61" cy="99.74" r="1.00" fill="#7a2b95"/>
<circle cx="87.53" cy="82.89" r="1.00" fill="#7a2b95"/>
<circle cx="104.62" cy="93.82" r="1.00" fill="#7a2b95"/>
<circle cx="86.05" cy="83.29" r="1.00" fill="#7a2b95"/>
<circle cx="91.99" cy="87.05" r="1.00" fill="#7a2b95"/>
<circle cx="94.00" cy="86.83" r="1.00" fill="#7a2b95"/>
<circle cx="94.40" cy="103.10" r="1.00" fill="#7a2b95"/>
<circle cx="102.93" cy="99.68" r="1.00" fill="#7a2b95"/>
<circle cx="100.67" cy="90.12" r="1.00" fill="#7a2b95"/>
<circle cx="90.42" cy="84.77" r="1.00" fill="#7a2b95"/>
<circle cx="88.73" cy="76.55" r="1.00" fill="#7a2b95"/>
<circle cx="98.63" cy="83.14" r="1.00" fill="#7a2b95"/>
<circle cx="107.26" cy="95.38" r="1.00" fill="#7a2b95"/>
<circle cx="107.15" cy="91.87" r="1.00" fill="#7a2b95"/>
<circle cx="87.21" cy="83.53" r="1.00" fill="#7a2b95"/>
<circle cx="100.66" cy="90.30" r="1.00" fill="#7a2b95"/>
<circle cx="93.84" cy="102.77" r="1.00" fill="#7a2b95"/>
<circle cx="99.27" cy="84.77" r="1.00" fill="#7a2b95"/>
<circle cx="89.42" cy="100.44" r="1.00" fill="#7a2b95"/>
<circle cx="95.58" cy="98.05" r="1.00" fill="#7a2b95"/>
<circle cx="92.14" cy="80.44" r="1.00" fill="#7a2b95"/>
<circle cx="97.15" cy="99.09" r="1.00" fill="#7a2b95"/>
<circle cx="87.19" cy="98.33" r="1.00" fill="#7a2b95"/>
<circle cx="99.72" cy="100.46" r="1.00" fill="#7a2b95"/>
<circle cx="83.87" cy="82.67" r="1.00" fill="#7a2b95"/>
<circle cx="89.86" cy="90.37" r="1.00" fill="#7a2b95"/>
<circle cx="94.09" cy="88.73" r="1.00" fill="#7a2b95"/>
<circle cx="84.00" cy="78.32" r="1.00" fill="#7a2b95"/>
<circle cx="85.91" cy="76.56" r="1.00" fill="#7a2b95"/>
<circle cx="84.86" cy="89.61" r="1.00" fill="#7a2b95"/>
<circle cx="91.16" cy="83.97" r="1.00" fill="#7a2b95"/>
<circle cx="92.13" cy="93.97" r="1.00" fill="#7a2b95"/>
<circle cx="98.57" cy="85.36" r="1.00" fill="#7a2b95"/>
<circle cx="87.74" cy="84.40" r="1.00" fill="#7a2b95"/>
<circle cx="85.89" cy="91.22" r="1.00" fill="#7a2b95"/>
<circle cx="102.12" cy="85.95" r="1.00" fill="#7a2b95"/>
<circle cx="84.69" cy="79.87" r="1.00" fill="#7a2b95"/>
<circle cx="92.73" cy="92.69" r="1.00" fill="#7a2b95"/>
<circle cx="104.45" cy="93.25" r="1.00" fill="#7a2b95"/>
<circle cx="94.33" cy="85.71" r="1.00" fill="#7a2b95"/>
<circle cx="96.09" cy="95.66" r="1.00" fill="#7a2b95"/>
<circle cx="94.02" cy="95.39" r="1.00" fill="#7a2b95"/>
<circle cx="95.13" cy="81.88" r="1.00" fill="#7a2b95"/>
<circle cx="97.18" cy="95.42" r="1.00" fill="#7a2b95"/>
<circle cx="84.46" cy="87.29" r="1.00" fill="#7a2b95"/>
<circle cx="94.17" cy="100.98" r="1.00" fill="#7a2b95"/>
<circle cx="107.10" cy="98.31" r="1.00" fill="#7a2b95"/>
<circle cx="89.68" cy="88.47" r="1.00" fill="#7a2b95"/>
<circle cx="100.65" cy="101.21" r="1.00" fill="#7a2b95"/>
<circle cx="104.21" cy="94.59" r="1.00" fill="#7a2b95"/>
<circle cx="102.60" cy="91.47" r="1.00" fill="#7a2b95"/>
<circle cx="85.33" cy="92.19" r="1.00" fill="#7a2b95"/>
<circle cx="82.63" cy="78.82" r="1.00" fill="#7a2b95"/>
<circle cx="85.02" cy="77.49" r="1.00" fill="#7a2b95"/>
<circle cx="100.95" cy="99.67" r="1.00" fill="#7a2b95"/>
<circle cx="108.60" cy="91.93" r="1.00" fill="#7a2b95"/>
<circle cx="103.53" cy="89.89" r="1.00" fill="#7a2b95"/>
<circle cx="103.02" cy="102.63" r="1.00" fill="#7a2b95"/>
<circle cx="84.18" cy="84.26" r="1.00" fill="#7a2b95"/>
<circle cx="97.95" cy="99.42" r="1.00" fill="#7a2b95"/>
<circle cx="89.13" cy="79.91" r="1.00" fill="#7a2b95"/>
<circle cx="89.35" cy="93.04" r="1.00" fill="#7a2b95"/>
<circle cx="103.15" cy="86.35" r="1.00" fill="#7a2b95"/>
<circle cx="92.57" cy="86.44" r="1.00" fill="#7a2b95"/>
<circle cx="92.10" cy="87.09" r="1.00" fill="#7a2b95"/>
<circle cx="84.78" cy="89.56" r="1.00" fill="#7a2b95"/>
<circle cx="101.43" cy="97.26" r="1.00" fill="#7a2b95"/>
<circle cx="100.96" cy="90.06" r="1.00" fill="#7a2b95"/>
<circle cx="95.75" cy="93.85" r="1.00" fill="#7a2b95"/>
<circle cx="85.13" cy="97.02" r="1.00" fill="#7a2b95"/>
<circle cx="107.62" cy="90.07" r="1.00" fill="#7a2b95"/>
<circle cx="94.64" cy="96.14" r="1.00" fill="#7a2b95"/>
<circle cx="87.60" cy="82.55" r="1.00" fill="#7a2b95"/>
<circle cx="87.96" cy="92.13" r="1.00" fill="#7a2b95"/>
<circle cx="91.13" cy="81.49" r="1.00" fill="#7a2b95"/>
<circle cx="101.44" cy="103.20" r="1.00" fill="#7a2b95"/>
<circle cx="90.61" cy="95.73" r="1.00" fill="#7a2b95"/>
<circle cx="93.82" cy="100.19" r="1.00" fill="#7a2b95"/>
<circle cx="88.46" cy="75.20" r="1.00" fill="#7a2b95"/>
<circle cx="95.64" cy="86.02" r="1.00" fill="#7a2b95"/>
<circle cx="87.22" cy="85.35" r="1.00" fill="#7a2b95"/>
<circle cx="91.32" cy="97.80" r="1.00" fill="#7a2b95"/>
<circle cx="95.64" cy="92.53" r="1.00" fill="#7a2b95"/>
<circle cx="95.32" cy="99.62" r="1.00" fill="#7a2b95"/>
<circle cx="105.01" cy="91.27" r="1.00" fill="#7a2b95"/>
<circle cx="95.69" cy="96.19" r="1.00" fill="#7a2b95"/>
<circle cx="95.31" cy="81.41" r="1.00" fill="#7a2b95"/>
<circle cx="88.93" cy="96.10" r="1.00" fill="#7a2b95"/>
<circle cx="101.00" cy="103.36" r="1.00" fill="#7a2b95"/>
<circle cx="87.70" cy="82.28" r="1.00" fill="#7a2b95"/>
<circle cx="87.63" cy="95.71" r="1.00" fill="#7a2b95"/>
<circle cx="89.49" cy="100.54" r="1.00" fill="#7a2b95"/>
<circle cx="91.09" cy="87.24" r="1.00" fill="#7a2b95"/>
<circle cx="90.49" cy="85.24" r="1.00" fill="#7a2b95"/>
<circle cx="98.40" cy="94.83" r="1.00" fill="#7a2b95"/>
<circle cx="82.69" cy="84.58" r="1.00" fill="#7a2b95"/>
<circle cx="94.45" cy="89.13" r="1.00" fill="#7a2b95"/>
<circle cx="88.26" cy="92.11" r="1.00" fill="#7a2b95"/>
<circle cx="90.03" cy="94.53" r="1.00" fill="#7a2b95"/>
<circle cx="103.66" cy="97.30" r="1.00" fill="#7a2b95"/>
<circle cx="90.60" cy="94.84" r="1.00" fill="#7a2b95"/>
<circle cx="100.42" cy="98.76" r="1.00" fill="#7a2b95"/>
<circle cx="89.78" cy="97.20" r="1.00" fill="#7a2b95"/>
<circle cx="108.84" cy="94.75" r="1.00" fill="#7a2b95"/>
<circle cx="96.03" cy="85.10" r="1.00" fill="#7a2b95"/>
<circle cx="102.18" cy="94.92" r="1.00" fill="#7a2b95"/>
<circle cx="100.19" cy="93.49" r="1.00" fill="#7a2b95"/>
<circle cx="91.58" cy="96.19" r="1.00" fill="#7a2b95"/>
<circle cx="98.87" cy="91.20" r="1.00" fill="#7a2b95"/>
<circle cx="100.24" cy="88.28" r="1.00" fill="#7a2b95"/>
<circle cx="91.06" cy="79.81" r="1.00" fill="#7a2b95"/>
<circle cx="103.17" cy="90.85" r="1.00" fill="#7a2b95"/>
<circle cx="89.78" cy="86.04" r="1.00" fill="#7a2b95"/>
<circle cx="96.33" cy="81.94" r="1.00" fill="#7a2b95"/>
<circle cx="91.62" cy="86.64" r="1.00" fill="#7a2b95"/>
<circle cx="97.34" cy="97.73" r="1.00" fill="#7a2b95"/>
<circle cx="92.17" cy="99.99" r="1.00" fill="#7a2b95"/>
<circle cx="85.57" cy="82.64" r="1.00" fill="#7a2b95"/>
<circle cx="85.23" cy="77.89" r="1.00" fill="#7a2b95"/>
<circle cx="103.84" cy="96.39" r="1.00" fill="#7a2b95"/>
<circle cx="87.56" cy="80.19" r="1.00" fill="#7a2b95"/>
<circle cx="93.92" cy="96.87" r="1.00" fill="#7a2b95"/>
<circle cx="104.85" cy="97.04" r="1.00" fill="#7a2b95"/>
<circle cx="93.42" cy="80.33" r="1.00" fill="#7a2b95"/>
<circle cx="96.96" cy="91.61" r="1.00" fill="#7a2b95"/>
<circle cx="88.04" cy="82.03" r="1.00" fill="#7a2b95"/>
<circle cx="104.51" cy="101.33" r="1.00" fill="#7a2b95"/>
<circle cx="97.64" cy="92.05" r="1.00" fill="#7a2b95"/>
<circle cx="99.86" cy="103.91" r="1.00" fill="#7a2b95"/>
<circle cx="106.06" cy="89.07" r="1.00" fill="#7a2b95"/>
<circle cx="98.98" cy="96.38" r="1.00" fill="#7a2b95"/>
<circle cx="100.64" cy="89.31" r="1.00" fill="#7a2b95"/>
<circle cx="96.85" cy="88.36" r="1.00" fill="#7a2b95"/>
<circle cx="87.80" cy="90.44" r="1.00" fill="#7a2b95"/>
<circle cx="83.52" cy="89.56" r="1.00" fill="#7a2b95"/>
<circle cx="100.20" cy="87.87" r="1.00" fill="#7a2b95"/>
<circle cx="98.01" cy="103.37" r="1.00" fill="#7a2b95"/>
<circle cx="104.21" cy="93.26" r="1.00" fill="#7a2b95"/>
<circle cx="83.89" cy="85.33" r="1.00" fill="#7a2b95"/>
<circle cx="88.90" cy="76.84" r="1.00" fill="#7a2b95"/>
<circle cx="97.27" cy="102.49" r="1.00" fill="#7a2b95"/>
<circle cx="91.35" cy="100.70" r="1.00" fill="#7a2b95"/>
<circle cx="106.02" cy="92.59" r="1.00" fill="#7a2b95"/>
<circle cx="107.90" cy="96.05" r="1.00" fill="#7a2b95"/>
<circle cx="106.10" cy="87.65" r="1.00" fill="#7a2b95"/>
<circle cx="103.24" cy="89.10" r="1.00" fill="#7a2b95"/>
<circle cx="85.49" cy="75.79" r="1.00" fill="#7a2b95"/>
<circle cx="84.64" cy="80.53" r="1.00" fill="#7a2b95"/>
<circle cx="86.91" cy="89.46" r="1.00" fill="#7a2b95"/>
<circle cx="101.66" cy="90.68" r="1.00" fill="#7a2b95"/>
<circle cx="94.07" cy="94.04" r="1.00" fill="#7a2b95"/>
<circle cx="90.85" cy="88.48" r="1.00" fill="#7a2b95"/>
<circle cx="103.24" cy="86.58" r="1.00" fill="#7a2b95"/>
<circle cx="92.66" cy="90.43" r="1.00" fill="#7a2b95"/>
<circle cx="82.57" cy="80.79" r="1.00" fill="#7a2b95"/>
<circle cx="95.10" cy="80.38" r="1.00" fill="#7a2b95"/>
<circle cx="88.23" cy="79.64" r="1.00" fill="#7a2b95"/>
<circle cx="93.56" cy="79.57" r="1.00" fill="#7a2b95"/>
<circle cx="83.25" cy="77.81" r="1.00" fill="#7a2b95"/>
<circle cx="87.11" cy="89.26" r="1.00" fill="#7a2b95"/>
<circle cx="84.14" cy="75.18" r="1.00" fill="#7a2b95"/>
<circle cx="94.78" cy="86.77" r="1.00" fill="#7a2b95"/>
<circle cx="93.55" cy="86.44" r="1.00" fill="#7a2b95"/>
<circle cx="88.50" cy="77.34" r="1.00" fill="#7a2b95"/>
<circle cx="95.50" cy="79.46" r="1.00" fill="#7a2b95"/>
<circle cx="99.56" cy="84.93" r="1.00" fill="#7a2b95"/>
<circle cx="85.90" cy="76.06" r="1.00" fill="#7a2b95"/>
<circle cx="104.09" cy="88.51" r="1.00" fill="#7a2b95"/>
<circle cx="89.35" cy="82.50" r="1.00" fill="#7a2b95"/>
<circle cx="104.82" cy="93.44" r="1.00" fill="#7a2b95"/>
<circle cx="91.95" cy="77.32" r="1.00" fill="#7a2b95"/>
<circle cx="101.20" cy="103.67" r="1.00" fill="#7a2b95"/>
<circle cx="83.33" cy="77.23" r="1.00" fill="#7a2b95"/>
<circle cx="87.17" cy="75.60" r="1.00" fill="#7a2b95"/>
<circle cx="90.85" cy="92.77" r="1.00" fill="#7a2b95"/>
<circle cx="90.54" cy="100.08" r="1.00" fill="#7a2b95"/>
<circle cx="85.64" cy="86.23" r="1.00" fill="#7a2b95"/>
<circle cx="91.66" cy="94.97" r="1.00" fill="#7a2b95"/>
<circle cx="102.77" cy="96.59" r="1.00" fill="#7a2b95"/>
<circle cx="105.40" cy="91.16" r="1.00" fill="#7a2b95"/>
<circle cx="93.86" cy="81.41" r="1.00" fill="#7a2b95"/>
<circle cx="81.38" cy="75.46" r="0.90" fill="#7a2b95"/>
<circle cx="88.00" cy="72.51" r="0.90" fill="#7a2b95"/>
<circle cx="77.74" cy="77.16" r="0.90" fill="#7a2b95"/>
<circle cx="81.21" cy="72.99" r="0.90" fill="#7a2b95"/>
<circle cx="79.52" cy="72.62" r="0.90" fill="#7a2b95"/>
<circle cx="74.52" cy="76.40" r="0.90" fill="#7a2b95"/>
<circle cx="89.77" cy="77.11" r="0.90" fill="#7a2b95"/>
<circle cx="84.33" cy="72.72" r="0.90" fill="#7a2b95"/>
<circle cx="80.10" cy="70.30" r="0.90" fill="#7a2b95"/>
<circle cx="86.30" cy="72.21" r="0.90" fill="#7a2b95"/>
<circle cx="78.15" cy="80.73" r="0.90" fill="#7a2b95"/>
<circle cx="83.98" cy="78.01" r="0.90" fill="#7a2b95"/>
<circle cx="84.19" cy="70.73" r="0.90" fill="#7a2b95"/>
<circle cx="85.97" cy="71.73" r="0.90" fill="#7a2b95"/>
<circle cx="79.56" cy="70.13" r="0.90" fill="#7a2b95"/>
<circle cx="72.23" cy="73.09" r="0.90" fill="#7a2b95"/>
<circle cx="79.88" cy="69.85" r="0.90" fill="#7a2b95"/>
<circle cx="78.27" cy="69.30" r="0.90" fill="#7a2b95"/>
<circle cx="75.57" cy="76.27" r="0.90" fill="#7a2b95"/>
<circle cx="81.24" cy="73.78" r="0.90" fill="#7a2b95"/>
<circle cx="79.36" cy="70.19" r="0.90" fill="#7a2b95"/>
<circle cx="79.26" cy="69.78" r="0.90" fill="#7a2b95"/>
<circle cx="85.41" cy="76.62" r="0.90" fill="#7a2b95"/>
<circle cx="84.20" cy="73.59" r="0.90" fill="#7a2b95"/>
<circle cx="75.28" cy="73.17" r="0.90" fill="#7a2b95"/>
<circle cx="87.04" cy="80.23" r="0.90" fill="#7a2b95"/>
<circle cx="88.89" cy="74.32" r="0.90" fill="#7a2b95"/>
<circle cx="80.45" cy="79.39" r="0.90" fill="#7a2b95"/>
<circle cx="85.92" cy="78.59" r="0.90" fill="#7a2b95"/>
<circle cx="74.74" cy="76.10" r="0.90" fill="#7a2b95"/>
<circle cx="86.50" cy="71.48" r="0.90" fill="#7a2b95"/>
<circle cx="75.35" cy="79.02" r="0.90" fill="#7a2b95"/>
<circle cx="82.93" cy="73.62" r="0.90" fill="#7a2b95"/>
<circle cx="81.20" cy="71.72" r="0.90" fill="#7a2b95"/>
<circle cx="76.21" cy="69.83" r="0.90" fill="#7a2b95"/>
<circle cx="79.44" cy="70.33" r="0.90" fill="#7a2b95"/>
<circle cx="83.42" cy="69.63" r="0.90" fill="#7a2b95"/>
<circle cx="83.57" cy="70.44" r="0.90" fill="#7a2b95"/>
<circle cx="78.80" cy="70.10" r="0.90" fill="#7a2b95"/>
<circle cx="81.45" cy="69.44" r="0.90" fill="#7a2b95"/>
<circle cx="76.88" cy="71.42" r="0.90" fill="#7a2b95"/>
<circle cx="80.79" cy="80.13" r="0.90" fill="#7a2b95"/>
<circle cx="83.15" cy="78.28" r="0.90" fill="#7a2b95"/>
<circle cx="86.23" cy="75.14" r="0.90" fill="#7a2b95"/>
<circle cx="73.82" cy="74.95" r="0.90" fill="#7a2b95"/>
<circle cx="78.13" cy="80.13" r="0.90" fill="#7a2b95"/>
<circle cx="75.19" cy="70.14" r="0.90" fill="#7a2b95"/>
<circle cx="84.46" cy="76.08" r="0.90" fill="#7a2b95"/>
<circle cx="72.11" cy="72.80" r="0.90" fill="#7a2b95"/>
<circle cx="80.33" cy="78.78" r="0.90" fill="#7a2b95"/>
<circle cx="87.36" cy="79.42" r="0.90" fill="#7a2b95"/>
<circle cx="82.25" cy="80.22" r="0.90" fill="#7a2b95"/>
<circle cx="80.88" cy="72.11" r="0.90" fill="#7a2b95"/>
<circle cx="73.94" cy="78.90" r="0.90" fill="#7a2b95"/>
<circle cx="84.66" cy="76.21" r="0.90" fill="#7a2b95"/>
<circle cx="83.58" cy="98.77" r="0.90" fill="#7a2b95"/>
<circle cx="82.27" cy="94.10" r="0.90" fill="#7a2b95"/>
<circle cx="79.47" cy="93.67" r="0.90" fill="#7a2b95"/>
<circle cx="84.22" cy="97.30" r="0.90" fill="#7a2b95"/>
<circle cx="82.11" cy="95.08" r="0.90" fill="#7a2b95"/>
<circle cx="79.92" cy="90.55" r="0.90" fill="#7a2b95"/>
<circle cx="78.95" cy="94.55" r="0.90" fill="#7a2b95"/>
<circle cx="84.75" cy="95.40" r="0.90" fill="#7a2b95"/>
<circle cx="82.11" cy="93.56" r="0.90" fill="#7a2b95"/>
<circle cx="81.49" cy="93.12" r="0.90" fill="#7a2b95"/>
<circle cx="86.28" cy="91.36" r="0.90" fill="#7a2b95"/>
<circle cx="80.08" cy="96.78" r="0.90" fill="#7a2b95"/>
<circle cx="84.90" cy="94.95" r="0.90" fill="#7a2b95"/>
<circle cx="78.16" cy="90.99" r="0.90" fill="#7a2b95"/>
<circle cx="79.22" cy="92.38" r="0.90" fill="#7a2b95"/>
<circle cx="88.16" cy="92.43" r="0.90" fill="#7a2b95"/>
<circle cx="84.79" cy="98.76" r="0.90" fill="#7a2b95"/>
<circle cx="82.12" cy="92.79" r="0.90" fill="#7a2b95"/>
<circle cx="86.57" cy="92.11" r="0.90" fill="#7a2b95"/>
<circle cx="83.69" cy="92.35" r="0.90" fill="#7a2b95"/>
<circle cx="87.88" cy="94.22" r="0.90" fill="#7a2b95"/>
<circle cx="85.71" cy="89.40" r="0.90" fill="#7a2b95"/>
<circle cx="86.03" cy="90.67" r="0.90" fill="#7a2b95"/>
<circle cx="84.37" cy="92.12" r="0.90" fill="#7a2b95"/>
<circle cx="85.86" cy="89.59" r="0.90" fill="#7a2b95"/>
<circle cx="82.91" cy="95.88" r="0.90" fill="#7a2b95"/>
<circle cx="84.85" cy="98.05" r="0.90" fill="#7a2b95"/>
<circle cx="82.87" cy="88.79" r="0.90" fill="#7a2b95"/>
<circle cx="81.09" cy="92.50" r="0.90" fill="#7a2b95"/>
<circle cx="80.81" cy="96.56" r="0.90" fill="#7a2b95"/>
<circle cx="80.03" cy="97.76" r="0.90" fill="#7a2b95"/>
<circle cx="78.45" cy="92.84" r="0.90" fill="#7a2b95"/>
<circle cx="87.39" cy="93.83" r="0.90" fill="#7a2b95"/>
<circle cx="86.17" cy="88.91" r="0.90" fill="#7a2b95"/>
<circle cx="81.38" cy="95.23" r="0.90" fill="#7a2b95"/>
<circle cx="89.35" cy="95.82" r="0.95" fill="#70ad2e"/>
<circle cx="91.25" cy="100.23" r="0.95" fill="#70ad2e"/>
<circle cx="90.64" cy="99.79" r="0.95" fill="#70ad2e"/>
<circle cx="92.88" cy="93.78" r="0.95" fill="#70ad2e"/>
<circle cx="87.66" cy="84.92" r="0.95" fill="#70ad2e"/>
<circle cx="88.48" cy="92.13" r="0.95" fill="#70ad2e"/>
<circle cx="90.92" cy="83.01" r="0.95" fill="#70ad2e"/>
<circle cx="91.27" cy="82.55" r="0.95" fill="#70ad2e"/>
<circle cx="89.29" cy="82.29" r="0.95" fill="#70ad2e"/>
<circle cx="84.80" cy="84.24" r="0.95" fill="#70ad2e"/>
<circle cx="88.43" cy="94.41" r="0.95" fill="#70ad2e"/>
<circle cx="86.47" cy="83.15" r="0.95" fill="#70ad2e"/>
<circle cx="84.10" cy="80.93" r="0.95" fill="#70ad2e"/>
<circle cx="85.81" cy="92.77" r="0.95" fill="#70ad2e"/>
<circle cx="86.22" cy="86.32" r="0.95" fill="#70ad2e"/>
<circle cx="91.50" cy="90.08" r="0.95" fill="#70ad2e"/>
<circle cx="85.97" cy="90.09" r="0.95" fill="#70ad2e"/>
<circle cx="90.75" cy="98.09" r="0.95" fill="#70ad2e"/>
<circle cx="86.53" cy="92.23" r="0.95" fill="#70ad2e"/>
<circle cx="84.66" cy="96.13" r="0.95" fill="#70ad2e"/>
<circle cx="86.29" cy="87.31" r="0.95" fill="#70ad2e"/>
<circle cx="88.27" cy="96.56" r="0.95" fill="#70ad2e"/>
<circle cx="91.27" cy="98.41" r="0.95" fill="#70ad2e"/>
<circle cx="83.50" cy="87.00" r="0.95" fill="#70ad2e"/>
<circle cx="89.22" cy="99.70" r="0.95" fill="#70ad2e"/>
<circle cx="88.50" cy="86.37" r="0.95" fill="#70ad2e"/>
<circle cx="85.98" cy="83.40" r="0.95" fill="#70ad2e"/>
<circle cx="83.36" cy="82.78" r="0.95" fill="#70ad2e"/>
<circle cx="84.28" cy="80.57" r="0.95" fill="#70ad2e"/>
<circle cx="86.96" cy="84.72" r="0.95" fill="#70ad2e"/>
<circle cx="89.03" cy="97.68" r="0.95" fill="#70ad2e"/>
<circle cx="87.51" cy="88.78" r="0.95" fill="#70ad2e"/>
<circle cx="90.55" cy="100.40" r="0.95" fill="#70ad2e"/>
<circle cx="89.43" cy="96.84" r="0.95" fill="#70ad2e"/>
<circle cx="83.67" cy="89.06" r="0.95" fill="#70ad2e"/>
<circle cx="85.74" cy="89.47" r="0.95" fill="#70ad2e"/>
<circle cx="87.87" cy="95.55" r="0.95" fill="#70ad2e"/>
<circle cx="87.77" cy="85.90" r="0.95" fill="#70ad2e"/>
<circle cx="86.94" cy="82.72" r="0.95" fill="#70ad2e"/>
<circle cx="93.06" cy="93.29" r="0.95" fill="#70ad2e"/>
<circle cx="87.99" cy="86.95" r="0.95" fill="#70ad2e"/>
<circle cx="83.48" cy="85.49" r="0.95" fill="#70ad2e"/>
<circle cx="91.10" cy="98.58" r="0.95" fill="#70ad2e"/>
<circle cx="86.47" cy="96.79" r="0.95" fill="#70ad2e"/>
<circle cx="91.02" cy="94.78" r="0.95" fill="#70ad2e"/>
<circle cx="91.23" cy="97.58" r="0.90" fill="#7a2b95"/>
<circle cx="87.84" cy="85.26" r="0.90" fill="#7a2b95"/>
<circle cx="87.67" cy="96.21" r="0.90" fill="#7a2b95"/>
<circle cx="86.60" cy="96.44" r="0.90" fill="#7a2b95"/>
<circle cx="85.50" cy="97.14" r="0.90" fill="#7a2b95"/>
<circle cx="90.53" cy="88.61" r="0.90" fill="#7a2b95"/>
<circle cx="88.42" cy="94.51" r="0.90" fill="#7a2b95"/>
<circle cx="84.62" cy="91.68" r="0.90" fill="#7a2b95"/>
<circle cx="91.36" cy="85.34" r="0.90" fill="#7a2b95"/>
<circle cx="91.34" cy="94.59" r="0.90" fill="#7a2b95"/>
<circle cx="91.79" cy="86.88" r="0.90" fill="#7a2b95"/>
<circle cx="91.35" cy="89.29" r="0.90" fill="#7a2b95"/>
<circle cx="83.53" cy="83.84" r="0.90" fill="#7a2b95"/>
<circle cx="89.48" cy="85.91" r="0.90" fill="#7a2b95"/>
<circle cx="92.97" cy="92.45" r="0.90" fill="#7a2b95"/>
<circle cx="84.71" cy="93.92" r="0.90" fill="#7a2b95"/>
<circle cx="92.50" cy="90.82" r="0.90" fill="#7a2b95"/>
<circle cx="89.59" cy="94.85" r="0.90" fill="#7a2b95"/>
<circle cx="90.10" cy="68.80" r="1.10" fill="#7a2b95"/>
<circle cx="91.80" cy="70.50" r="1.10" fill="#7a2b95"/>
<circle cx="108.50" cy="74.30" r="1.10" fill="#7a2b95"/>
<circle cx="107.90" cy="78.80" r="1.10" fill="#7a2b95"/>
<circle cx="106.00" cy="80.50" r="1.10" fill="#7a2b95"/>
<circle cx="104.00" cy="83.30" r="1.10" fill="#7a2b95"/>
<circle cx="115.20" cy="71.00" r="1.10" fill="#7a2b95"/>
<circle cx="115.20" cy="75.00" r="1.10" fill="#7a2b95"/>
<circle cx="118.40" cy="66.30" r="1.10" fill="#7a2b95"/>
<circle cx="108.10" cy="74.50" r="1.10" fill="#7a2b95"/>
<circle cx="107.60" cy="113.50" r="1.10" fill="#7a2b95"/>
<circle cx="77.50" cy="90.20" r="1.10" fill="#7a2b95"/>
<circle cx="111.50" cy="64.00" r="1.10" fill="#7a2b95"/>
<path d="M109.80 62.50 L111.50 64.20 L113.80 65.80" fill="none" stroke="#7a2b95" stroke-width="1.80" stroke-linecap="round" stroke-linejoin="round"/>
<path d="M110.00 65.80 L113.00 62.80" fill="none" stroke="#7a2b95" stroke-width="1.80" stroke-linecap="round" stroke-linejoin="round"/>
<path d="M116.80 45.80 L119.50 47.40 L122.60 47.60" fill="none" stroke="#7a2b95" stroke-width="1.50" stroke-linecap="round" stroke-linejoin="round"/>
<circle cx="124.74" cy="66.62" r="0.90" fill="#7a2b95"/>
<circle cx="125.93" cy="63.78" r="0.90" fill="#7a2b95"/>
<circle cx="123.50" cy="67.46" r="0.90" fill="#7a2b95"/>
<circle cx="126.08" cy="66.31" r="0.90" fill="#7a2b95"/>
<circle cx="125.26" cy="66.64" r="0.90" fill="#7a2b95"/>
<circle cx="122.70" cy="65.42" r="0.90" fill="#7a2b95"/>
<circle cx="122.26" cy="66.78" r="0.90" fill="#7a2b95"/>
<circle cx="123.89" cy="65.23" r="0.90" fill="#7a2b95"/>
<circle cx="124.96" cy="63.50" r="0.90" fill="#7a2b95"/>
<circle cx="122.50" cy="65.33" r="0.90" fill="#7a2b95"/>
<circle cx="122.64" cy="64.72" r="0.90" fill="#7a2b95"/>
<circle cx="125.65" cy="63.90" r="0.90" fill="#7a2b95"/>
<circle cx="122.86" cy="67.49" r="0.90" fill="#7a2b95"/>
<circle cx="124.28" cy="65.30" r="0.90" fill="#7a2b95"/>
<circle cx="125.50" cy="65.62" r="0.90" fill="#7a2b95"/>
<circle cx="124.01" cy="65.00" r="0.90" fill="#7a2b95"/>
<path d="M114.50 70.00 L117.00 71.50 L119.50 72.50 L121.00 73.00" fill="none" stroke="#7a2b95" stroke-width="1.50" stroke-linecap="round" stroke-linejoin="round"/>
<circle cx="117.44" cy="77.66" r="0.85" fill="#7a2b95"/>
<circle cx="120.51" cy="77.01" r="0.85" fill="#7a2b95"/>
<circle cx="117.80" cy="77.85" r="0.85" fill="#7a2b95"/>
<circle cx="115.70" cy="77.33" r="0.85" fill="#7a2b95"/>
<circle cx="118.59" cy="79.27" r="0.85" fill="#7a2b95"/>
<circle cx="115.11" cy="75.89" r="0.85" fill="#7a2b95"/>
<circle cx="115.09" cy="79.39" r="0.85" fill="#7a2b95"/>
<circle cx="118.75" cy="78.05" r="0.85" fill="#7a2b95"/>
<circle cx="117.93" cy="74.21" r="0.85" fill="#7a2b95"/>
<circle cx="115.74" cy="75.47" r="0.85" fill="#7a2b95"/>
<circle cx="117.36" cy="79.61" r="0.85" fill="#7a2b95"/>
<circle cx="117.87" cy="78.22" r="0.85" fill="#7a2b95"/>
<circle cx="117.75" cy="78.37" r="0.85" fill="#7a2b95"/>
<circle cx="117.47" cy="75.72" r="0.85" fill="#7a2b95"/>
<circle cx="119.96" cy="78.68" r="0.85" fill="#7a2b95"/>
<circle cx="116.55" cy="75.38" r="0.85" fill="#7a2b95"/>
<circle cx="116.38" cy="74.28" r="0.85" fill="#7a2b95"/>
<circle cx="119.48" cy="76.56" r="0.85" fill="#7a2b95"/>
<circle cx="120.00" cy="76.47" r="0.85" fill="#7a2b95"/>
<circle cx="120.42" cy="77.04" r="0.85" fill="#7a2b95"/>
<circle cx="120.87" cy="76.54" r="0.85" fill="#7a2b95"/>
<circle cx="114.97" cy="78.14" r="0.85" fill="#7a2b95"/>
<path d="M121.50 74.50 L123.50 77.00 L125.00 80.00 L127.00 82.50 L128.50 83.20" fill="none" stroke="#7a2b95" stroke-width="1.50" stroke-linecap="round" stroke-linejoin="round"/>
<path d="M125.90 72.80 L128.50 71.20 L132.50 70.60" fill="none" stroke="#7a2b95" stroke-width="1.50" stroke-linecap="round" stroke-linejoin="round"/>
<path d="M106.00 79.50 L109.30 79.30" fill="none" stroke="#7a2b95" stroke-width="1.40" stroke-linecap="round" stroke-linejoin="round"/>
<path d="M82.80 99.00 L84.50 101.00 L83.50 104.00" fill="none" stroke="#7a2b95" stroke-width="1.50" stroke-linecap="round" stroke-linejoin="round"/>
<path d="M114.40 77.00 L116.00 80.00 L119.00 80.50" fill="none" stroke="#7a2b95" stroke-width="1.50" stroke-linecap="round" stroke-linejoin="round"/>
<path d="M121.60 77.00 L124.00 76.00 L127.50 78.00 L128.00 82.00" fill="none" stroke="#7a2b95" stroke-width="1.60" stroke-linecap="round" stroke-linejoin="round"/>
<circle cx="116.36" cy="76.04" r="0.90" fill="#7a2b95"/>
<circle cx="114.56" cy="81.14" r="0.90" fill="#7a2b95"/>
<circle cx="116.09" cy="76.84" r="0.90" fill="#7a2b95"/>
<circle cx="123.06" cy="78.06" r="0.90" fill="#7a2b95"/>
<circle cx="123.89" cy="73.76" r="0.90" fill="#7a2b95"/>
<circle cx="111.62" cy="72.13" r="0.90" fill="#7a2b95"/>
<circle cx="121.51" cy="81.03" r="0.90" fill="#7a2b95"/>
<circle cx="114.91" cy="77.85" r="0.90" fill="#7a2b95"/>
<circle cx="119.08" cy="80.57" r="0.90" fill="#7a2b95"/>
<circle cx="115.25" cy="80.16" r="0.90" fill="#7a2b95"/>
<circle cx="120.64" cy="81.40" r="0.90" fill="#7a2b95"/>
<circle cx="121.34" cy="82.51" r="0.90" fill="#7a2b95"/>
<circle cx="124.03" cy="70.80" r="0.90" fill="#7a2b95"/>
<circle cx="111.36" cy="74.95" r="0.90" fill="#7a2b95"/>
<circle cx="120.13" cy="71.21" r="0.90" fill="#7a2b95"/>
<circle cx="114.93" cy="73.73" r="0.90" fill="#7a2b95"/>
<circle cx="120.91" cy="69.88" r="0.90" fill="#7a2b95"/>
<circle cx="127.79" cy="78.43" r="0.90" fill="#7a2b95"/>
<circle cx="122.86" cy="76.38" r="0.90" fill="#7a2b95"/>
<circle cx="111.60" cy="74.73" r="0.90" fill="#7a2b95"/>
<circle cx="112.92" cy="77.36" r="0.90" fill="#7a2b95"/>
<circle cx="123.76" cy="76.97" r="0.90" fill="#7a2b95"/>
<circle cx="129.88" cy="71.60" r="0.90" fill="#7a2b95"/>
<circle cx="127.03" cy="77.38" r="0.90" fill="#7a2b95"/>
<circle cx="112.18" cy="75.44" r="0.90" fill="#7a2b95"/>
<circle cx="122.78" cy="77.53" r="0.90" fill="#7a2b95"/>
<circle cx="130.51" cy="72.71" r="0.90" fill="#7a2b95"/>
<circle cx="121.59" cy="70.35" r="0.90" fill="#7a2b95"/>
<circle cx="125.07" cy="74.76" r="0.90" fill="#7a2b95"/>
<circle cx="125.90" cy="79.61" r="0.90" fill="#7a2b95"/>
<circle cx="123.26" cy="76.01" r="0.90" fill="#7a2b95"/>
<circle cx="132.11" cy="72.53" r="0.90" fill="#7a2b95"/>
<circle cx="126.48" cy="78.70" r="0.90" fill="#7a2b95"/>
<circle cx="127.02" cy="75.65" r="0.90" fill="#7a2b95"/>
<circle cx="117.14" cy="80.52" r="0.90" fill="#7a2b95"/>
<circle cx="119.86" cy="81.71" r="0.90" fill="#7a2b95"/>
<circle cx="119.49" cy="73.12" r="0.90" fill="#7a2b95"/>
<circle cx="123.56" cy="78.45" r="0.90" fill="#7a2b95"/>
<circle cx="113.08" cy="63.63" r="0.95" fill="#7a2b95"/>
<circle cx="109.28" cy="62.60" r="0.95" fill="#7a2b95"/>
<circle cx="112.42" cy="60.26" r="0.95" fill="#7a2b95"/>
<circle cx="108.49" cy="61.28" r="0.95" fill="#7a2b95"/>
<circle cx="109.61" cy="62.06" r="0.95" fill="#7a2b95"/>
<circle cx="113.45" cy="63.12" r="0.95" fill="#7a2b95"/>
<circle cx="112.03" cy="65.03" r="0.95" fill="#7a2b95"/>
<circle cx="114.17" cy="64.08" r="0.95" fill="#7a2b95"/>
<circle cx="109.00" cy="63.90" r="0.95" fill="#7a2b95"/>
<circle cx="111.71" cy="61.35" r="0.95" fill="#7a2b95"/>
<circle cx="108.65" cy="61.38" r="0.95" fill="#7a2b95"/>
<circle cx="112.88" cy="66.09" r="0.95" fill="#7a2b95"/>
<circle cx="112.60" cy="63.20" r="0.95" fill="#7a2b95"/>
<circle cx="112.58" cy="63.97" r="0.95" fill="#7a2b95"/>
<path d="M68.20 93.50 C68.35 92.28 68.78 90.95 69.50 90.20 C70.22 89.45 71.42 89.10 72.50 89.00 C73.58 88.90 74.92 89.27 76.00 89.60 C77.08 89.93 78.00 90.72 79.00 91.00 C80.00 91.28 81.03 90.97 82.00 91.30 C82.97 91.63 84.42 92.22 84.80 93.00 C85.18 93.78 84.88 95.23 84.30 96.00 C83.72 96.77 82.02 96.93 81.30 97.60 C80.58 98.27 80.72 99.37 80.00 100.00 C79.28 100.63 78.17 101.17 77.00 101.40 C75.83 101.63 74.17 101.60 73.00 101.40 C71.83 101.20 70.73 100.85 70.00 100.20 C69.27 99.55 68.90 98.62 68.60 97.50 C68.30 96.38 68.05 94.72 68.20 93.50Z" fill="#f1ab1f" fill-opacity="1.0"/>
<path d="M72.60 80.50 L73.30 85.00 L74.20 90.00" fill="none" stroke="#f1ab1f" stroke-width="4.20" stroke-linecap="round" stroke-linejoin="round"/>
<path d="M70.00 82.30 L72.50 79.20 L75.50 76.50 L78.00 75.00" fill="none" stroke="#f1ab1f" stroke-width="3.40" stroke-linecap="round" stroke-linejoin="round"/>
<path d="M76.80 74.20 C77.05 73.43 78.63 73.00 79.50 72.90 C80.37 72.80 81.53 73.00 82.00 73.60 C82.47 74.20 82.55 75.77 82.30 76.50 C82.05 77.23 81.22 77.83 80.50 78.00 C79.78 78.17 78.62 78.13 78.00 77.50 C77.38 76.87 76.55 74.97 76.80 74.20Z" fill="#f1ab1f" fill-opacity="1.0"/>
<circle cx="67.60" cy="87.40" r="1.80" fill="#f1ab1f"/>
<circle cx="82.00" cy="79.00" r="1.30" fill="#f1ab1f"/>
<circle cx="84.20" cy="79.80" r="1.30" fill="#f1ab1f"/>
<circle cx="83.50" cy="81.50" r="1.30" fill="#f1ab1f"/>
<circle cx="72.20" cy="87.20" r="1.00" fill="#ffffff"/>
<circle cx="77.60" cy="88.70" r="1.00" fill="#ffffff"/>
<circle cx="75.80" cy="84.50" r="1.00" fill="#ffffff"/>
<path d="M87.50 77.60 L92.30 78.80 L96.00 81.50 L99.00 84.00 L101.50 86.50 L104.50 89.00 L107.50 91.00" fill="none" stroke="#000000" stroke-width="2.10" stroke-linecap="round" stroke-linejoin="round"/>
<ellipse cx="104.60" cy="89.60" rx="5.40" ry="3.30" transform="rotate(36 104.60 89.60)" fill="#000000"/>
<circle cx="86.80" cy="78.60" r="1.10" fill="#000000"/>
<circle cx="89.50" cy="78.60" r="1.10" fill="#000000"/>
<circle cx="74.70" cy="77.00" r="1.10" fill="#000000"/>
<circle cx="77.80" cy="72.80" r="1.10" fill="#000000"/>
<circle cx="80.90" cy="73.30" r="1.10" fill="#000000"/>
<circle cx="82.30" cy="75.30" r="1.10" fill="#000000"/>
<circle cx="82.00" cy="92.50" r="1.10" fill="#000000"/>
<circle cx="84.50" cy="93.60" r="1.10" fill="#000000"/>
<circle cx="82.30" cy="95.80" r="1.10" fill="#000000"/>
<circle cx="97.00" cy="84.00" r="1.10" fill="#000000"/>
<circle cx="98.00" cy="86.00" r="1.10" fill="#000000"/>
<path d="M124.50 63.30 L127.80 60.20 L131.10 57.10" fill="none" stroke="#000000" stroke-width="2.00" stroke-linecap="round" stroke-linejoin="round"/>
<rect x="117.8" y="111.6" width="57.000000000000014" height="43.900000000000006" fill="#fff" stroke="#a0a0a0" stroke-width="0.7"/>
<circle cx="129.2" cy="116.5" r="1.7" fill="#e2431c"/>
<text x="140.1" y="118.4" font-size="5.4" text-anchor="start" fill="#111" stroke="#111" stroke-width="0.04">Standard</text>
<circle cx="129.2" cy="123.4" r="1.7" fill="#1a6fd6"/>
<text x="140.1" y="125.30000000000001" font-size="5.4" text-anchor="start" fill="#111" stroke="#111" stroke-width="0.04">Sine</text>
<circle cx="129.2" cy="130.3" r="1.7" fill="#6aab2b"/>
<text x="140.1" y="132.20000000000002" font-size="5.4" text-anchor="start" fill="#111" stroke="#111" stroke-width="0.04">Double Sine</text>
<circle cx="129.2" cy="137.2" r="1.7" fill="#7b2a96"/>
<text x="140.1" y="139.1" font-size="5.4" text-anchor="start" fill="#111" stroke="#111" stroke-width="0.04">Nested Pulse</text>
<circle cx="129.2" cy="144.1" r="1.7" fill="#f0a81e"/>
<text x="140.1" y="146.0" font-size="5.4" text-anchor="start" fill="#111" stroke="#111" stroke-width="0.04">Poisson</text>
<circle cx="129.2" cy="151.0" r="1.7" fill="#000"/>
<text x="140.1" y="152.9" font-size="5.4" text-anchor="start" fill="#111" stroke="#111" stroke-width="0.04">Behavior</text>
<path d="M226.7 22V160.5H374.6" fill="none" stroke="#a0a0a0" stroke-width="0.8"/>
<path d="M226.7 154.30h1.6" stroke="#a0a0a0" stroke-width="0.7"/>
<text x="224.2" y="156.9" font-size="6.2" text-anchor="end" fill="#1a1a1a" stroke="#1a1a1a" stroke-width="0.08">-1</text>
<path d="M226.7 141.74h1.6" stroke="#a0a0a0" stroke-width="0.7"/>
<text x="224.2" y="144.34" font-size="6.2" text-anchor="end" fill="#1a1a1a" stroke="#1a1a1a" stroke-width="0.08">-0.8</text>
<path d="M226.7 129.18h1.6" stroke="#a0a0a0" stroke-width="0.7"/>
<text x="224.2" y="131.78" font-size="6.2" text-anchor="end" fill="#1a1a1a" stroke="#1a1a1a" stroke-width="0.08">-0.6</text>
<path d="M226.7 116.62h1.6" stroke="#a0a0a0" stroke-width="0.7"/>
<text x="224.2" y="119.22" font-size="6.2" text-anchor="end" fill="#1a1a1a" stroke="#1a1a1a" stroke-width="0.08">-0.4</text>
<path d="M226.7 104.06h1.6" stroke="#a0a0a0" stroke-width="0.7"/>
<text x="224.2" y="106.66" font-size="6.2" text-anchor="end" fill="#1a1a1a" stroke="#1a1a1a" stroke-width="0.08">-0.2</text>
<path d="M226.7 91.50h1.6" stroke="#a0a0a0" stroke-width="0.7"/>
<text x="224.2" y="94.1" font-size="6.2" text-anchor="end" fill="#1a1a1a" stroke="#1a1a1a" stroke-width="0.08">0</text>
<path d="M226.7 78.94h1.6" stroke="#a0a0a0" stroke-width="0.7"/>
<text x="224.2" y="81.53999999999999" font-size="6.2" text-anchor="end" fill="#1a1a1a" stroke="#1a1a1a" stroke-width="0.08">0.2</text>
<path d="M226.7 66.38h1.6" stroke="#a0a0a0" stroke-width="0.7"/>
<text x="224.2" y="68.97999999999999" font-size="6.2" text-anchor="end" fill="#1a1a1a" stroke="#1a1a1a" stroke-width="0.08">0.4</text>
<path d="M226.7 53.82h1.6" stroke="#a0a0a0" stroke-width="0.7"/>
<text x="224.2" y="56.419999999999995" font-size="6.2" text-anchor="end" fill="#1a1a1a" stroke="#1a1a1a" stroke-width="0.08">0.6</text>
<path d="M226.7 41.26h1.6" stroke="#a0a0a0" stroke-width="0.7"/>
<text x="224.2" y="43.86" font-size="6.2" text-anchor="end" fill="#1a1a1a" stroke="#1a1a1a" stroke-width="0.08">0.8</text>
<path d="M226.7 28.70h1.6" stroke="#a0a0a0" stroke-width="0.7"/>
<text x="224.2" y="31.300000000000004" font-size="6.2" text-anchor="end" fill="#1a1a1a" stroke="#1a1a1a" stroke-width="0.08">1</text>
<path d="M232.80 160.5v-1.6" stroke="#a0a0a0" stroke-width="0.7"/>
<text x="232.8" y="169.1" font-size="6.2" text-anchor="middle" fill="#1a1a1a" stroke="#1a1a1a" stroke-width="0.08">-1</text>
<path d="M266.40 160.5v-1.6" stroke="#a0a0a0" stroke-width="0.7"/>
<text x="266.4" y="169.1" font-size="6.2" text-anchor="middle" fill="#1a1a1a" stroke="#1a1a1a" stroke-width="0.08">-0.5</text>
<path d="M300.00 160.5v-1.6" stroke="#a0a0a0" stroke-width="0.7"/>
<text x="300.0" y="169.1" font-size="6.2" text-anchor="middle" fill="#1a1a1a" stroke="#1a1a1a" stroke-width="0.08">0</text>
<path d="M333.60 160.5v-1.6" stroke="#a0a0a0" stroke-width="0.7"/>
<text x="333.6" y="169.1" font-size="6.2" text-anchor="middle" fill="#1a1a1a" stroke="#1a1a1a" stroke-width="0.08">0.5</text>
<path d="M367.20 160.5v-1.6" stroke="#a0a0a0" stroke-width="0.7"/>
<text x="367.2" y="169.1" font-size="6.2" text-anchor="middle" fill="#1a1a1a" stroke="#1a1a1a" stroke-width="0.08">1</text>
<text x="273.5" y="180.2" font-size="9.9" text-anchor="start" fill="#000" stroke="#000" stroke-width="0.22" textLength="52.6" lengthAdjust="spacingAndGlyphs">Dimension 1</text>
<text x="209.6" y="118.0" font-size="9.9" text-anchor="start" fill="#000" stroke="#000" stroke-width="0.22" transform="rotate(-90 209.6 118.0)" textLength="52.9" lengthAdjust="spacingAndGlyphs">Dimension 2</text>
<text x="233.3" y="19.1" font-size="10.0" text-anchor="start" font-weight="bold" fill="#000" stroke="#000" stroke-width="0.22" textLength="133.6" lengthAdjust="spacingAndGlyphs">Parameter space boundaries</text>
<path d="M238.00 82.20 C238.55 81.92 240.18 81.70 241.30 81.60 C242.42 81.50 243.67 81.78 244.70 81.60 C245.73 81.42 246.67 80.72 247.50 80.50 C248.33 80.28 248.97 80.02 249.70 80.30 C250.43 80.58 251.07 81.60 251.90 82.20 C252.73 82.80 253.68 83.53 254.70 83.90 C255.72 84.27 257.35 84.03 258.00 84.40 C258.65 84.77 258.87 85.45 258.60 86.10 C258.33 86.75 257.42 88.02 256.40 88.30 C255.38 88.58 253.72 87.98 252.50 87.80 C251.28 87.62 250.13 87.48 249.10 87.20 C248.07 86.92 247.22 86.47 246.30 86.10 C245.38 85.73 244.62 85.37 243.60 85.00 C242.58 84.63 241.13 84.18 240.20 83.90 C239.27 83.62 238.37 83.58 238.00 83.30 C237.63 83.02 237.45 82.48 238.00 82.20Z" fill="#e4471c" fill-opacity="0.9"/>
<path d="M233.00 80.80 L235.60 82.30" fill="none" stroke="#e4471c" stroke-width="1.44" stroke-linecap="round" stroke-linejoin="round"/>
<path d="M266.60 87.20 L267.20 91.00 L267.20 94.90 L266.60 98.70 L267.80 102.50 L269.10 106.40 L271.70 110.20 L274.20 114.10 L276.20 117.30" fill="none" stroke="#e4471c" stroke-width="1.17" stroke-dasharray="1.3 1.1"/>
<path d="M262.70 105.10 L261.40 111.50" fill="none" stroke="#e4471c" stroke-width="1.08" stroke-dasharray="1.3 1.1"/>
<path d="M268.40 105.60 L272.20 110.50 L276.00 115.90" fill="none" stroke="#e4471c" stroke-width="1.08" stroke-dasharray="1.3 1.1"/>
<path d="M258.90 99.50 L261.20 100.50 L263.70 102.90" fill="none" stroke="#e4471c" stroke-width="1.35" stroke-linecap="round" stroke-linejoin="round"/>
<path d="M292.00 119.80 L293.80 123.40" fill="none" stroke="#e4471c" stroke-width="1.26" stroke-linecap="round" stroke-linejoin="round"/>
<circle cx="265.70" cy="82.50" r="0.81" fill="#e4471c"/>
<circle cx="267.70" cy="83.50" r="0.81" fill="#e4471c"/>
<circle cx="270.00" cy="85.50" r="0.81" fill="#e4471c"/>
<circle cx="270.70" cy="88.80" r="0.81" fill="#e4471c"/>
<circle cx="272.70" cy="90.50" r="0.81" fill="#e4471c"/>
<circle cx="248.50" cy="114.80" r="0.81" fill="#e4471c"/>
<circle cx="291.70" cy="120.70" r="0.81" fill="#e4471c"/>
<circle cx="261.60" cy="111.10" r="0.81" fill="#e4471c"/>
<circle cx="263.00" cy="109.10" r="0.81" fill="#e4471c"/>
<circle cx="240.20" cy="81.20" r="0.81" fill="#e4471c"/>
<circle cx="258.70" cy="99.10" r="0.81" fill="#e4471c"/>
<circle cx="249.20" cy="115.10" r="0.81" fill="#e4471c"/>
<circle cx="274.80" cy="117.20" r="0.81" fill="#e4471c"/>
<circle cx="293.10" cy="123.00" r="0.81" fill="#e4471c"/>
<circle cx="273.00" cy="113.20" r="0.81" fill="#e4471c"/>
<circle cx="261.30" cy="110.60" r="0.81" fill="#e4471c"/>
<circle cx="266.40" cy="153.50" r="0.81" fill="#e4471c"/>
<circle cx="317.90" cy="46.40" r="0.81" fill="#e4471c"/>
<circle cx="329.90" cy="51.60" r="0.81" fill="#e4471c"/>
<circle cx="307.60" cy="74.40" r="0.81" fill="#e4471c"/>
<circle cx="308.20" cy="73.80" r="0.81" fill="#e4471c"/>
<circle cx="306.10" cy="76.50" r="0.81" fill="#e4471c"/>
<circle cx="304.40" cy="80.00" r="0.81" fill="#e4471c"/>
<circle cx="298.80" cy="60.80" r="0.81" fill="#e4471c"/>
<path d="M252.20 95.00 L254.80 91.90" fill="none" stroke="#e4471c" stroke-width="1.44" stroke-linecap="round" stroke-linejoin="round"/>
<path d="M297.00 63.50 L297.70 62.00" fill="none" stroke="#e4471c" stroke-width="1.26" stroke-linecap="round" stroke-linejoin="round"/>
<path d="M300.20 54.00 L303.40 52.40" fill="none" stroke="#e4471c" stroke-width="1.26" stroke-linecap="round" stroke-linejoin="round"/>
<path d="M301.40 69.80 L302.70 67.30 L304.80 66.30" fill="none" stroke="#e4471c" stroke-width="1.35" stroke-linecap="round" stroke-linejoin="round"/>
<path d="M328.70 68.20 L330.50 65.80" fill="none" stroke="#e4471c" stroke-width="1.35" stroke-linecap="round" stroke-linejoin="round"/>
<path d="M325.10 74.20 L328.00 72.20" fill="none" stroke="#e4471c" stroke-width="1.35" stroke-linecap="round" stroke-linejoin="round"/>
<path d="M314.70 47.50 L318.20 46.20" fill="none" stroke="#e4471c" stroke-width="1.26" stroke-linecap="round" stroke-linejoin="round"/>
<path d="M232.40 80.70 L235.80 81.50 L240.20 82.30 L244.10 82.90 L248.00 83.50 L251.30 84.30 L254.10 85.40 L257.50 86.00" fill="none" stroke="#1b70d2" stroke-width="1.71" stroke-linecap="round" stroke-linejoin="round"/>
<circle cx="266.20" cy="78.30" r="0.99" fill="#1b70d2"/>
<circle cx="264.50" cy="83.40" r="0.99" fill="#1b70d2"/>
<circle cx="272.60" cy="81.70" r="0.99" fill="#1b70d2"/>
<circle cx="274.80" cy="86.10" r="0.99" fill="#1b70d2"/>
<circle cx="262.50" cy="88.40" r="0.99" fill="#1b70d2"/>
<circle cx="277.60" cy="89.50" r="0.99" fill="#1b70d2"/>
<circle cx="262.50" cy="108.60" r="0.99" fill="#1b70d2"/>
<circle cx="276.80" cy="116.00" r="0.99" fill="#1b70d2"/>
<circle cx="292.20" cy="120.50" r="0.99" fill="#1b70d2"/>
<circle cx="280.70" cy="115.50" r="0.99" fill="#1b70d2"/>
<circle cx="264.40" cy="112.50" r="0.99" fill="#1b70d2"/>
<circle cx="263.70" cy="99.00" r="0.99" fill="#1b70d2"/>
<circle cx="278.20" cy="114.00" r="0.99" fill="#1b70d2"/>
<path d="M262.40 97.50 L263.70 100.50 L265.00 103.60" fill="none" stroke="#1b70d2" stroke-width="1.35" stroke-linecap="round" stroke-linejoin="round"/>
<path d="M291.00 119.00 L293.40 120.50" fill="none" stroke="#1b70d2" stroke-width="1.35" stroke-linecap="round" stroke-linejoin="round"/>
<path d="M263.40 111.50 L265.20 113.20" fill="none" stroke="#1b70d2" stroke-width="1.35" stroke-linecap="round" stroke-linejoin="round"/>
<path d="M276.00 114.00 L278.70 116.80" fill="none" stroke="#1b70d2" stroke-width="1.35" stroke-linecap="round" stroke-linejoin="round"/>
<path d="M317.70 51.50 C318.45 50.50 319.87 50.33 320.70 50.50 C321.53 50.67 322.62 51.67 322.70 52.50 C322.78 53.33 321.87 54.67 321.20 55.50 C320.53 56.33 319.53 57.33 318.70 57.50 C317.87 57.67 316.37 57.50 316.20 56.50 C316.03 55.50 316.95 52.50 317.70 51.50Z" fill="#70ad2e" fill-opacity="0.9"/>
<path d="M325.20 54.00 C325.78 53.58 327.12 54.25 327.70 55.00 C328.28 55.75 328.78 57.42 328.70 58.50 C328.62 59.58 327.87 61.08 327.20 61.50 C326.53 61.92 325.20 61.67 324.70 61.00 C324.20 60.33 324.12 58.67 324.20 57.50 C324.28 56.33 324.62 54.42 325.20 54.00Z" fill="#70ad2e" fill-opacity="0.9"/>
<circle cx="320.43" cy="52.44" r="0.90" fill="#70ad2e"/>
<circle cx="324.02" cy="59.88" r="0.90" fill="#70ad2e"/>
<circle cx="323.57" cy="54.91" r="0.90" fill="#70ad2e"/>
<circle cx="326.82" cy="58.04" r="0.90" fill="#70ad2e"/>
<circle cx="327.72" cy="59.42" r="0.90" fill="#70ad2e"/>
<circle cx="328.78" cy="55.82" r="0.90" fill="#70ad2e"/>
<circle cx="326.66" cy="51.41" r="0.90" fill="#70ad2e"/>
<circle cx="325.41" cy="58.76" r="0.90" fill="#70ad2e"/>
<circle cx="326.72" cy="60.56" r="0.90" fill="#70ad2e"/>
<circle cx="315.78" cy="59.55" r="0.90" fill="#70ad2e"/>
<circle cx="314.47" cy="53.85" r="0.90" fill="#70ad2e"/>
<circle cx="324.78" cy="58.55" r="0.90" fill="#70ad2e"/>
<circle cx="328.91" cy="53.58" r="0.90" fill="#70ad2e"/>
<circle cx="316.16" cy="59.52" r="0.90" fill="#70ad2e"/>
<circle cx="320.91" cy="59.45" r="0.90" fill="#70ad2e"/>
<circle cx="322.48" cy="55.10" r="0.90" fill="#70ad2e"/>
<circle cx="321.84" cy="60.50" r="0.90" fill="#70ad2e"/>
<circle cx="321.25" cy="60.76" r="0.90" fill="#70ad2e"/>
<circle cx="323.32" cy="62.96" r="0.90" fill="#70ad2e"/>
<circle cx="325.42" cy="53.91" r="0.90" fill="#70ad2e"/>
<circle cx="329.42" cy="60.87" r="0.90" fill="#70ad2e"/>
<circle cx="315.49" cy="59.40" r="0.90" fill="#70ad2e"/>
<circle cx="325.43" cy="60.84" r="0.90" fill="#70ad2e"/>
<circle cx="324.58" cy="55.48" r="0.90" fill="#70ad2e"/>
<circle cx="317.90" cy="55.79" r="0.90" fill="#70ad2e"/>
<circle cx="326.85" cy="59.72" r="0.90" fill="#70ad2e"/>
<circle cx="320.97" cy="55.99" r="0.90" fill="#70ad2e"/>
<circle cx="317.35" cy="59.82" r="0.90" fill="#70ad2e"/>
<circle cx="327.17" cy="60.56" r="0.90" fill="#70ad2e"/>
<circle cx="317.40" cy="51.36" r="0.90" fill="#70ad2e"/>
<circle cx="317.82" cy="57.89" r="0.90" fill="#70ad2e"/>
<circle cx="316.32" cy="54.03" r="0.90" fill="#70ad2e"/>
<circle cx="317.66" cy="59.65" r="0.90" fill="#70ad2e"/>
<circle cx="324.40" cy="60.25" r="0.90" fill="#70ad2e"/>
<circle cx="323.56" cy="56.76" r="0.90" fill="#70ad2e"/>
<circle cx="325.12" cy="57.01" r="0.90" fill="#70ad2e"/>
<circle cx="325.32" cy="51.57" r="0.90" fill="#70ad2e"/>
<circle cx="326.74" cy="61.40" r="0.90" fill="#70ad2e"/>
<circle cx="314.81" cy="56.96" r="0.90" fill="#70ad2e"/>
<circle cx="324.33" cy="54.40" r="0.90" fill="#70ad2e"/>
<circle cx="324.64" cy="62.14" r="0.90" fill="#70ad2e"/>
<circle cx="324.19" cy="53.61" r="0.90" fill="#70ad2e"/>
<circle cx="328.01" cy="59.90" r="0.90" fill="#70ad2e"/>
<circle cx="317.85" cy="56.80" r="0.90" fill="#70ad2e"/>
<circle cx="324.31" cy="52.48" r="0.90" fill="#70ad2e"/>
<circle cx="316.82" cy="56.38" r="0.90" fill="#70ad2e"/>
<circle cx="314.81" cy="56.72" r="0.90" fill="#70ad2e"/>
<circle cx="330.61" cy="62.08" r="0.90" fill="#70ad2e"/>
<circle cx="326.54" cy="60.17" r="0.90" fill="#70ad2e"/>
<circle cx="319.37" cy="54.64" r="0.90" fill="#70ad2e"/>
<circle cx="322.85" cy="51.11" r="0.90" fill="#70ad2e"/>
<circle cx="325.42" cy="57.30" r="0.90" fill="#70ad2e"/>
<circle cx="327.45" cy="60.48" r="0.90" fill="#70ad2e"/>
<circle cx="320.52" cy="51.72" r="0.90" fill="#70ad2e"/>
<circle cx="323.09" cy="58.20" r="0.90" fill="#70ad2e"/>
<circle cx="326.05" cy="56.63" r="0.90" fill="#70ad2e"/>
<circle cx="323.83" cy="60.38" r="0.90" fill="#70ad2e"/>
<circle cx="316.95" cy="51.63" r="0.90" fill="#70ad2e"/>
<circle cx="322.32" cy="60.92" r="0.90" fill="#70ad2e"/>
<circle cx="328.11" cy="62.52" r="0.90" fill="#70ad2e"/>
<circle cx="321.49" cy="60.26" r="0.90" fill="#70ad2e"/>
<circle cx="315.43" cy="55.00" r="0.90" fill="#70ad2e"/>
<circle cx="327.19" cy="54.73" r="0.90" fill="#70ad2e"/>
<circle cx="320.25" cy="54.38" r="0.90" fill="#70ad2e"/>
<circle cx="328.84" cy="53.81" r="0.90" fill="#70ad2e"/>
<circle cx="329.49" cy="59.91" r="0.90" fill="#70ad2e"/>
<circle cx="328.97" cy="61.33" r="0.90" fill="#70ad2e"/>
<circle cx="319.79" cy="51.42" r="0.90" fill="#70ad2e"/>
<circle cx="323.15" cy="63.06" r="0.90" fill="#70ad2e"/>
<circle cx="322.31" cy="52.79" r="0.90" fill="#70ad2e"/>
<circle cx="325.98" cy="57.32" r="0.90" fill="#70ad2e"/>
<circle cx="318.46" cy="59.91" r="0.90" fill="#70ad2e"/>
<circle cx="328.29" cy="60.91" r="0.90" fill="#70ad2e"/>
<circle cx="323.01" cy="51.83" r="0.90" fill="#70ad2e"/>
<circle cx="325.60" cy="53.26" r="0.90" fill="#70ad2e"/>
<circle cx="318.42" cy="50.20" r="0.90" fill="#70ad2e"/>
<circle cx="319.06" cy="55.26" r="0.90" fill="#70ad2e"/>
<circle cx="323.41" cy="60.90" r="0.90" fill="#70ad2e"/>
<circle cx="321.69" cy="59.31" r="0.90" fill="#70ad2e"/>
<circle cx="318.89" cy="54.68" r="0.90" fill="#70ad2e"/>
<circle cx="316.65" cy="55.52" r="0.90" fill="#70ad2e"/>
<circle cx="315.10" cy="57.87" r="0.90" fill="#70ad2e"/>
<circle cx="326.76" cy="58.97" r="0.90" fill="#70ad2e"/>
<circle cx="321.82" cy="50.03" r="0.90" fill="#70ad2e"/>
<circle cx="329.76" cy="63.22" r="0.90" fill="#70ad2e"/>
<circle cx="279.90" cy="69.90" r="0.99" fill="#70ad2e"/>
<circle cx="282.10" cy="72.10" r="0.99" fill="#70ad2e"/>
<circle cx="288.20" cy="73.50" r="0.99" fill="#70ad2e"/>
<circle cx="291.60" cy="79.40" r="0.99" fill="#70ad2e"/>
<circle cx="286.50" cy="85.50" r="0.99" fill="#70ad2e"/>
<circle cx="310.20" cy="63.50" r="0.99" fill="#70ad2e"/>
<circle cx="312.40" cy="62.80" r="0.99" fill="#70ad2e"/>
<circle cx="320.10" cy="71.10" r="0.99" fill="#70ad2e"/>
<circle cx="321.50" cy="67.00" r="0.99" fill="#70ad2e"/>
<circle cx="259.10" cy="85.70" r="0.99" fill="#70ad2e"/>
<circle cx="296.20" cy="99.00" r="0.99" fill="#70ad2e"/>
<circle cx="299.60" cy="100.00" r="0.99" fill="#70ad2e"/>
<circle cx="299.80" cy="103.30" r="0.99" fill="#70ad2e"/>
<circle cx="272.20" cy="77.00" r="0.99" fill="#70ad2e"/>
<circle cx="273.70" cy="80.00" r="0.99" fill="#70ad2e"/>
<path d="M266.20 101.00 L272.20 101.80 L277.20 101.50" fill="none" stroke="#70ad2e" stroke-width="2.70" stroke-linecap="round" stroke-linejoin="round"/>
<path d="M264.60 103.30 L263.80 106.50 L263.50 108.40 L263.40 110.60" fill="none" stroke="#70ad2e" stroke-width="1.62" stroke-linecap="round" stroke-linejoin="round"/>
<path d="M268.00 103.00 L268.70 105.50 L269.30 108.10" fill="none" stroke="#70ad2e" stroke-width="1.71" stroke-linecap="round" stroke-linejoin="round"/>
<path d="M271.20 103.00 L271.20 106.90 L272.50 110.70 L274.40 113.90" fill="none" stroke="#70ad2e" stroke-width="1.71" stroke-linecap="round" stroke-linejoin="round"/>
<path d="M273.80 103.00 L275.10 108.80 L277.00 111.30 L277.60 114.50" fill="none" stroke="#70ad2e" stroke-width="1.71" stroke-linecap="round" stroke-linejoin="round"/>
<path d="M277.60 104.00 C278.00 103.22 279.35 103.13 280.20 103.30 C281.05 103.47 282.17 104.22 282.70 105.00 C283.23 105.78 283.07 107.17 283.40 108.00 C283.73 108.83 284.17 109.33 284.70 110.00 C285.23 110.67 286.35 111.17 286.60 112.00 C286.85 112.83 286.68 114.42 286.20 115.00 C285.72 115.58 284.37 115.83 283.70 115.50 C283.03 115.17 282.87 113.75 282.20 113.00 C281.53 112.25 280.43 111.83 279.70 111.00 C278.97 110.17 278.15 109.17 277.80 108.00 C277.45 106.83 277.20 104.78 277.60 104.00Z" fill="#70ad2e" fill-opacity="0.9"/>
<path d="M280.80 99.80 L280.20 104.30" fill="none" stroke="#70ad2e" stroke-width="1.80" stroke-linecap="round" stroke-linejoin="round"/>
<path d="M284.60 105.00 C284.77 104.22 286.27 103.92 287.20 103.80 C288.13 103.68 289.53 103.85 290.20 104.30 C290.87 104.75 291.37 105.75 291.20 106.50 C291.03 107.25 290.03 108.47 289.20 108.80 C288.37 109.13 286.97 109.13 286.20 108.50 C285.43 107.87 284.43 105.78 284.60 105.00Z" fill="#70ad2e" fill-opacity="0.9"/>
<path d="M290.40 107.50 L293.00 110.70 L293.60 114.50 L292.30 117.70" fill="none" stroke="#70ad2e" stroke-width="2.07" stroke-linecap="round" stroke-linejoin="round"/>
<circle cx="287.70" cy="110.00" r="0.90" fill="#70ad2e"/>
<circle cx="289.20" cy="111.50" r="0.90" fill="#70ad2e"/>
<circle cx="279.20" cy="116.00" r="0.90" fill="#70ad2e"/>
<circle cx="295.20" cy="106.00" r="0.90" fill="#70ad2e"/>
<path d="M278.20 81.50 C278.87 80.75 281.20 81.08 282.20 81.50 C283.20 81.92 283.95 82.92 284.20 84.00 C284.45 85.08 284.37 87.25 283.70 88.00 C283.03 88.75 281.12 88.83 280.20 88.50 C279.28 88.17 278.53 87.17 278.20 86.00 C277.87 84.83 277.53 82.25 278.20 81.50Z" fill="#70ad2e" fill-opacity="0.9"/>
<circle cx="284.42" cy="80.70" r="0.95" fill="#7a2b95"/>
<circle cx="291.19" cy="94.41" r="0.95" fill="#7a2b95"/>
<circle cx="286.67" cy="80.70" r="0.95" fill="#7a2b95"/>
<circle cx="288.33" cy="96.18" r="0.95" fill="#7a2b95"/>
<circle cx="293.73" cy="88.75" r="0.95" fill="#7a2b95"/>
<circle cx="287.73" cy="85.93" r="0.95" fill="#7a2b95"/>
<circle cx="290.70" cy="100.92" r="0.95" fill="#7a2b95"/>
<circle cx="287.94" cy="83.21" r="0.95" fill="#7a2b95"/>
<circle cx="294.61" cy="91.14" r="0.95" fill="#7a2b95"/>
<circle cx="290.53" cy="82.89" r="0.95" fill="#7a2b95"/>
<circle cx="299.66" cy="93.63" r="0.95" fill="#7a2b95"/>
<circle cx="288.09" cy="97.12" r="0.95" fill="#7a2b95"/>
<circle cx="290.15" cy="87.51" r="0.95" fill="#7a2b95"/>
<circle cx="295.71" cy="98.07" r="0.95" fill="#7a2b95"/>
<circle cx="289.65" cy="82.23" r="0.95" fill="#7a2b95"/>
<circle cx="295.30" cy="91.10" r="0.95" fill="#7a2b95"/>
<circle cx="294.90" cy="94.69" r="0.95" fill="#7a2b95"/>
<circle cx="285.90" cy="87.58" r="0.95" fill="#7a2b95"/>
<circle cx="300.40" cy="93.58" r="0.95" fill="#7a2b95"/>
<circle cx="292.30" cy="97.21" r="0.95" fill="#7a2b95"/>
<circle cx="292.12" cy="96.93" r="0.95" fill="#7a2b95"/>
<circle cx="286.32" cy="82.66" r="0.95" fill="#7a2b95"/>
<circle cx="290.17" cy="95.12" r="0.95" fill="#7a2b95"/>
<circle cx="293.07" cy="96.92" r="0.95" fill="#7a2b95"/>
<circle cx="289.15" cy="86.94" r="0.95" fill="#7a2b95"/>
<circle cx="295.11" cy="93.27" r="0.95" fill="#7a2b95"/>
<circle cx="284.88" cy="80.69" r="0.95" fill="#7a2b95"/>
<circle cx="290.88" cy="84.78" r="0.95" fill="#7a2b95"/>
<circle cx="287.88" cy="82.64" r="0.95" fill="#7a2b95"/>
<circle cx="287.47" cy="88.92" r="0.95" fill="#7a2b95"/>
<circle cx="296.57" cy="90.59" r="0.95" fill="#7a2b95"/>
<circle cx="293.53" cy="95.21" r="0.95" fill="#7a2b95"/>
<circle cx="292.42" cy="95.21" r="0.95" fill="#7a2b95"/>
<circle cx="296.48" cy="91.91" r="0.95" fill="#7a2b95"/>
<circle cx="286.31" cy="88.20" r="0.95" fill="#7a2b95"/>
<circle cx="286.70" cy="87.14" r="0.95" fill="#7a2b95"/>
<circle cx="289.67" cy="88.21" r="0.95" fill="#7a2b95"/>
<circle cx="296.86" cy="91.00" r="0.95" fill="#7a2b95"/>
<circle cx="288.52" cy="96.69" r="0.95" fill="#7a2b95"/>
<circle cx="297.28" cy="97.85" r="0.95" fill="#7a2b95"/>
<circle cx="287.80" cy="97.53" r="0.95" fill="#7a2b95"/>
<circle cx="290.68" cy="87.63" r="0.95" fill="#7a2b95"/>
<circle cx="287.73" cy="83.15" r="0.95" fill="#7a2b95"/>
<circle cx="290.35" cy="94.75" r="0.95" fill="#7a2b95"/>
<circle cx="290.75" cy="96.51" r="0.95" fill="#7a2b95"/>
<circle cx="285.37" cy="83.98" r="0.95" fill="#7a2b95"/>
<circle cx="295.32" cy="89.51" r="0.95" fill="#7a2b95"/>
<circle cx="293.10" cy="100.45" r="0.95" fill="#7a2b95"/>
<circle cx="289.14" cy="82.36" r="0.95" fill="#7a2b95"/>
<circle cx="289.49" cy="89.37" r="0.95" fill="#7a2b95"/>
<circle cx="290.96" cy="96.18" r="0.95" fill="#7a2b95"/>
<circle cx="289.55" cy="99.90" r="0.95" fill="#7a2b95"/>
<circle cx="294.51" cy="87.68" r="0.95" fill="#7a2b95"/>
<circle cx="294.97" cy="98.32" r="0.95" fill="#7a2b95"/>
<circle cx="287.54" cy="86.96" r="0.95" fill="#7a2b95"/>
<circle cx="293.86" cy="100.59" r="0.95" fill="#7a2b95"/>
<circle cx="296.19" cy="90.46" r="0.95" fill="#7a2b95"/>
<circle cx="291.10" cy="94.25" r="0.95" fill="#7a2b95"/>
<circle cx="291.51" cy="97.76" r="0.95" fill="#7a2b95"/>
<circle cx="288.51" cy="94.94" r="0.95" fill="#7a2b95"/>
<circle cx="285.30" cy="83.96" r="0.95" fill="#7a2b95"/>
<circle cx="286.70" cy="79.14" r="0.95" fill="#7a2b95"/>
<circle cx="291.48" cy="90.92" r="0.95" fill="#7a2b95"/>
<circle cx="292.03" cy="89.52" r="0.95" fill="#7a2b95"/>
<circle cx="292.71" cy="94.46" r="0.95" fill="#7a2b95"/>
<circle cx="300.23" cy="97.85" r="0.95" fill="#7a2b95"/>
<circle cx="287.20" cy="80.15" r="0.95" fill="#7a2b95"/>
<circle cx="294.33" cy="99.83" r="0.95" fill="#7a2b95"/>
<circle cx="289.94" cy="87.34" r="0.95" fill="#7a2b95"/>
<circle cx="291.64" cy="100.67" r="0.95" fill="#7a2b95"/>
<circle cx="296.38" cy="98.13" r="0.95" fill="#7a2b95"/>
<circle cx="292.23" cy="87.64" r="0.95" fill="#7a2b95"/>
<circle cx="298.74" cy="95.65" r="0.95" fill="#7a2b95"/>
<circle cx="300.41" cy="95.72" r="0.95" fill="#7a2b95"/>
<circle cx="294.10" cy="96.83" r="0.95" fill="#7a2b95"/>
<circle cx="294.62" cy="98.91" r="0.95" fill="#7a2b95"/>
<circle cx="290.98" cy="83.49" r="0.95" fill="#7a2b95"/>
<circle cx="291.70" cy="85.52" r="0.95" fill="#7a2b95"/>
<circle cx="289.05" cy="88.57" r="0.95" fill="#7a2b95"/>
<circle cx="287.52" cy="83.43" r="0.95" fill="#7a2b95"/>
<circle cx="288.93" cy="96.71" r="0.95" fill="#7a2b95"/>
<circle cx="293.85" cy="89.66" r="0.95" fill="#7a2b95"/>
<circle cx="290.47" cy="94.59" r="0.95" fill="#7a2b95"/>
<circle cx="299.27" cy="91.18" r="0.95" fill="#7a2b95"/>
<circle cx="296.79" cy="92.65" r="0.95" fill="#7a2b95"/>
<circle cx="294.02" cy="92.21" r="0.95" fill="#7a2b95"/>
<circle cx="293.90" cy="96.88" r="0.95" fill="#7a2b95"/>
<circle cx="294.78" cy="91.02" r="0.95" fill="#7a2b95"/>
<circle cx="293.71" cy="97.62" r="0.95" fill="#7a2b95"/>
<circle cx="291.13" cy="99.54" r="0.95" fill="#7a2b95"/>
<circle cx="293.10" cy="93.92" r="0.95" fill="#7a2b95"/>
<circle cx="287.54" cy="81.27" r="0.95" fill="#7a2b95"/>
<circle cx="296.80" cy="95.71" r="0.95" fill="#7a2b95"/>
<circle cx="299.47" cy="96.88" r="0.95" fill="#7a2b95"/>
<circle cx="287.20" cy="80.35" r="0.95" fill="#7a2b95"/>
<circle cx="298.64" cy="98.35" r="0.95" fill="#7a2b95"/>
<circle cx="290.39" cy="82.32" r="0.95" fill="#7a2b95"/>
<circle cx="289.50" cy="97.71" r="0.95" fill="#7a2b95"/>
<circle cx="284.85" cy="79.78" r="0.95" fill="#7a2b95"/>
<circle cx="299.54" cy="94.92" r="0.95" fill="#7a2b95"/>
<circle cx="288.64" cy="98.88" r="0.95" fill="#7a2b95"/>
<circle cx="294.99" cy="100.16" r="0.95" fill="#7a2b95"/>
<circle cx="290.59" cy="87.91" r="0.95" fill="#7a2b95"/>
<circle cx="296.98" cy="99.18" r="0.95" fill="#7a2b95"/>
<circle cx="287.15" cy="84.32" r="0.95" fill="#7a2b95"/>
<circle cx="300.64" cy="91.63" r="0.95" fill="#7a2b95"/>
<circle cx="300.47" cy="93.84" r="0.95" fill="#7a2b95"/>
<circle cx="292.93" cy="86.26" r="0.95" fill="#7a2b95"/>
<circle cx="287.06" cy="89.23" r="0.95" fill="#7a2b95"/>
<circle cx="290.71" cy="83.59" r="0.95" fill="#7a2b95"/>
<circle cx="295.71" cy="93.88" r="0.95" fill="#7a2b95"/>
<circle cx="292.49" cy="95.19" r="0.95" fill="#7a2b95"/>
<circle cx="290.88" cy="88.40" r="0.95" fill="#7a2b95"/>
<circle cx="294.29" cy="101.55" r="0.95" fill="#7a2b95"/>
<circle cx="290.19" cy="97.32" r="0.95" fill="#7a2b95"/>
<circle cx="294.66" cy="94.34" r="0.95" fill="#7a2b95"/>
<circle cx="293.98" cy="96.42" r="0.95" fill="#7a2b95"/>
<circle cx="294.93" cy="87.40" r="0.95" fill="#7a2b95"/>
<circle cx="296.39" cy="100.97" r="0.95" fill="#7a2b95"/>
<circle cx="296.57" cy="93.00" r="0.95" fill="#7a2b95"/>
<circle cx="291.30" cy="89.16" r="0.95" fill="#7a2b95"/>
<circle cx="294.10" cy="88.70" r="0.95" fill="#7a2b95"/>
<circle cx="296.26" cy="96.55" r="0.95" fill="#7a2b95"/>
<circle cx="290.25" cy="100.80" r="0.95" fill="#7a2b95"/>
<circle cx="296.14" cy="89.68" r="0.95" fill="#7a2b95"/>
<circle cx="289.62" cy="88.55" r="0.95" fill="#7a2b95"/>
<circle cx="288.71" cy="95.02" r="0.95" fill="#7a2b95"/>
<circle cx="285.75" cy="79.78" r="0.95" fill="#7a2b95"/>
<circle cx="286.59" cy="87.04" r="0.95" fill="#7a2b95"/>
<circle cx="285.07" cy="81.96" r="0.95" fill="#7a2b95"/>
<circle cx="293.81" cy="99.21" r="0.95" fill="#7a2b95"/>
<circle cx="288.19" cy="89.30" r="0.95" fill="#7a2b95"/>
<circle cx="293.50" cy="97.80" r="0.95" fill="#7a2b95"/>
<circle cx="298.72" cy="94.72" r="0.95" fill="#7a2b95"/>
<circle cx="300.55" cy="91.71" r="0.95" fill="#7a2b95"/>
<circle cx="294.93" cy="98.95" r="0.95" fill="#7a2b95"/>
<circle cx="288.71" cy="86.24" r="0.95" fill="#7a2b95"/>
<circle cx="298.34" cy="93.87" r="0.95" fill="#7a2b95"/>
<circle cx="294.95" cy="87.48" r="0.95" fill="#7a2b95"/>
<circle cx="290.46" cy="87.23" r="0.95" fill="#7a2b95"/>
<circle cx="300.39" cy="97.56" r="0.95" fill="#7a2b95"/>
<circle cx="288.63" cy="89.97" r="0.95" fill="#7a2b95"/>
<circle cx="290.54" cy="92.08" r="0.95" fill="#7a2b95"/>
<circle cx="289.33" cy="98.84" r="0.95" fill="#7a2b95"/>
<circle cx="295.39" cy="88.17" r="0.95" fill="#7a2b95"/>
<circle cx="289.86" cy="94.89" r="0.95" fill="#7a2b95"/>
<circle cx="288.72" cy="81.40" r="0.95" fill="#7a2b95"/>
<circle cx="298.37" cy="99.28" r="0.95" fill="#7a2b95"/>
<circle cx="298.57" cy="91.41" r="0.95" fill="#7a2b95"/>
<circle cx="296.97" cy="98.71" r="0.95" fill="#7a2b95"/>
<circle cx="290.53" cy="95.60" r="0.95" fill="#7a2b95"/>
<circle cx="290.18" cy="96.33" r="0.95" fill="#7a2b95"/>
<circle cx="291.95" cy="92.17" r="0.95" fill="#7a2b95"/>
<circle cx="295.39" cy="97.72" r="0.95" fill="#7a2b95"/>
<circle cx="292.04" cy="91.50" r="0.95" fill="#7a2b95"/>
<circle cx="289.67" cy="100.09" r="0.95" fill="#7a2b95"/>
<circle cx="290.82" cy="100.83" r="0.95" fill="#7a2b95"/>
<circle cx="289.68" cy="87.76" r="0.95" fill="#7a2b95"/>
<circle cx="296.75" cy="89.36" r="0.95" fill="#7a2b95"/>
<circle cx="295.10" cy="95.81" r="0.95" fill="#7a2b95"/>
<circle cx="298.95" cy="95.84" r="0.95" fill="#7a2b95"/>
<circle cx="288.24" cy="80.02" r="0.95" fill="#7a2b95"/>
<circle cx="287.64" cy="80.15" r="0.95" fill="#7a2b95"/>
<circle cx="288.72" cy="82.48" r="0.95" fill="#7a2b95"/>
<circle cx="290.03" cy="95.48" r="0.95" fill="#7a2b95"/>
<circle cx="293.29" cy="95.32" r="0.95" fill="#7a2b95"/>
<circle cx="287.73" cy="84.84" r="0.95" fill="#7a2b95"/>
<circle cx="295.61" cy="96.57" r="0.95" fill="#7a2b95"/>
<circle cx="292.02" cy="95.56" r="0.95" fill="#7a2b95"/>
<circle cx="294.15" cy="98.45" r="0.95" fill="#7a2b95"/>
<circle cx="283.22" cy="90.88" r="0.90" fill="#7a2b95"/>
<circle cx="286.84" cy="92.68" r="0.90" fill="#7a2b95"/>
<circle cx="283.81" cy="81.55" r="0.90" fill="#7a2b95"/>
<circle cx="299.62" cy="88.84" r="0.90" fill="#7a2b95"/>
<circle cx="294.10" cy="100.63" r="0.90" fill="#7a2b95"/>
<circle cx="291.04" cy="96.81" r="0.90" fill="#7a2b95"/>
<circle cx="297.48" cy="92.29" r="0.90" fill="#7a2b95"/>
<circle cx="300.42" cy="88.73" r="0.90" fill="#7a2b95"/>
<circle cx="296.40" cy="100.95" r="0.90" fill="#7a2b95"/>
<circle cx="296.27" cy="102.23" r="0.90" fill="#7a2b95"/>
<circle cx="287.52" cy="98.61" r="0.90" fill="#7a2b95"/>
<circle cx="288.88" cy="102.66" r="0.90" fill="#7a2b95"/>
<circle cx="280.43" cy="81.03" r="0.90" fill="#7a2b95"/>
<circle cx="290.60" cy="86.11" r="0.90" fill="#7a2b95"/>
<circle cx="286.31" cy="92.11" r="0.90" fill="#7a2b95"/>
<circle cx="292.71" cy="101.72" r="0.90" fill="#7a2b95"/>
<circle cx="295.39" cy="102.46" r="0.90" fill="#7a2b95"/>
<circle cx="301.49" cy="91.63" r="0.90" fill="#7a2b95"/>
<circle cx="299.49" cy="91.76" r="0.90" fill="#7a2b95"/>
<circle cx="284.51" cy="76.41" r="0.90" fill="#7a2b95"/>
<circle cx="287.95" cy="79.04" r="0.90" fill="#7a2b95"/>
<circle cx="284.75" cy="97.64" r="0.90" fill="#7a2b95"/>
<circle cx="290.55" cy="104.56" r="0.90" fill="#7a2b95"/>
<circle cx="285.18" cy="76.82" r="0.90" fill="#7a2b95"/>
<circle cx="282.11" cy="86.78" r="0.90" fill="#7a2b95"/>
<circle cx="289.32" cy="90.15" r="0.90" fill="#7a2b95"/>
<circle cx="294.34" cy="92.43" r="0.90" fill="#7a2b95"/>
<circle cx="292.02" cy="93.17" r="0.90" fill="#7a2b95"/>
<circle cx="302.47" cy="89.76" r="0.90" fill="#7a2b95"/>
<circle cx="288.51" cy="96.18" r="0.90" fill="#7a2b95"/>
<circle cx="283.21" cy="83.56" r="0.90" fill="#7a2b95"/>
<circle cx="288.08" cy="91.96" r="0.90" fill="#7a2b95"/>
<circle cx="293.89" cy="88.53" r="0.90" fill="#7a2b95"/>
<circle cx="295.31" cy="85.11" r="0.90" fill="#7a2b95"/>
<circle cx="296.07" cy="96.71" r="0.90" fill="#7a2b95"/>
<circle cx="277.31" cy="76.32" r="0.90" fill="#7a2b95"/>
<circle cx="295.22" cy="103.50" r="0.90" fill="#7a2b95"/>
<circle cx="283.58" cy="88.23" r="0.90" fill="#7a2b95"/>
<circle cx="292.94" cy="84.13" r="0.90" fill="#7a2b95"/>
<circle cx="286.67" cy="83.91" r="0.90" fill="#7a2b95"/>
<circle cx="286.81" cy="92.43" r="0.90" fill="#7a2b95"/>
<circle cx="284.93" cy="85.85" r="0.90" fill="#7a2b95"/>
<circle cx="292.30" cy="96.63" r="0.90" fill="#7a2b95"/>
<circle cx="285.19" cy="81.20" r="0.90" fill="#7a2b95"/>
<circle cx="281.83" cy="87.60" r="0.90" fill="#7a2b95"/>
<circle cx="285.52" cy="84.55" r="0.90" fill="#7a2b95"/>
<circle cx="299.54" cy="87.70" r="0.90" fill="#7a2b95"/>
<circle cx="285.93" cy="94.07" r="0.90" fill="#7a2b95"/>
<circle cx="282.87" cy="78.14" r="0.90" fill="#7a2b95"/>
<circle cx="298.81" cy="99.74" r="0.90" fill="#7a2b95"/>
<circle cx="281.73" cy="82.89" r="0.90" fill="#7a2b95"/>
<circle cx="298.82" cy="93.82" r="0.90" fill="#7a2b95"/>
<circle cx="280.25" cy="83.29" r="0.90" fill="#7a2b95"/>
<circle cx="286.19" cy="87.05" r="0.90" fill="#7a2b95"/>
<circle cx="288.20" cy="86.83" r="0.90" fill="#7a2b95"/>
<circle cx="288.60" cy="103.10" r="0.90" fill="#7a2b95"/>
<circle cx="297.13" cy="99.68" r="0.90" fill="#7a2b95"/>
<circle cx="294.87" cy="90.12" r="0.90" fill="#7a2b95"/>
<circle cx="284.62" cy="84.77" r="0.90" fill="#7a2b95"/>
<circle cx="282.93" cy="76.55" r="0.90" fill="#7a2b95"/>
<circle cx="292.83" cy="83.14" r="0.90" fill="#7a2b95"/>
<circle cx="301.46" cy="95.38" r="0.90" fill="#7a2b95"/>
<circle cx="301.35" cy="91.87" r="0.90" fill="#7a2b95"/>
<circle cx="281.41" cy="83.53" r="0.90" fill="#7a2b95"/>
<circle cx="294.86" cy="90.30" r="0.90" fill="#7a2b95"/>
<circle cx="288.04" cy="102.77" r="0.90" fill="#7a2b95"/>
<circle cx="293.47" cy="84.77" r="0.90" fill="#7a2b95"/>
<circle cx="283.62" cy="100.44" r="0.90" fill="#7a2b95"/>
<circle cx="289.78" cy="98.05" r="0.90" fill="#7a2b95"/>
<circle cx="286.34" cy="80.44" r="0.90" fill="#7a2b95"/>
<circle cx="291.35" cy="99.09" r="0.90" fill="#7a2b95"/>
<circle cx="281.39" cy="98.33" r="0.90" fill="#7a2b95"/>
<circle cx="293.92" cy="100.46" r="0.90" fill="#7a2b95"/>
<circle cx="278.07" cy="82.67" r="0.90" fill="#7a2b95"/>
<circle cx="284.06" cy="90.37" r="0.90" fill="#7a2b95"/>
<circle cx="288.29" cy="88.73" r="0.90" fill="#7a2b95"/>
<circle cx="278.20" cy="78.32" r="0.90" fill="#7a2b95"/>
<circle cx="280.11" cy="76.56" r="0.90" fill="#7a2b95"/>
<circle cx="279.06" cy="89.61" r="0.90" fill="#7a2b95"/>
<circle cx="285.36" cy="83.97" r="0.90" fill="#7a2b95"/>
<circle cx="286.33" cy="93.97" r="0.90" fill="#7a2b95"/>
<circle cx="292.77" cy="85.36" r="0.90" fill="#7a2b95"/>
<circle cx="281.94" cy="84.40" r="0.90" fill="#7a2b95"/>
<circle cx="280.09" cy="91.22" r="0.90" fill="#7a2b95"/>
<circle cx="296.32" cy="85.95" r="0.90" fill="#7a2b95"/>
<circle cx="278.89" cy="79.87" r="0.90" fill="#7a2b95"/>
<circle cx="286.93" cy="92.69" r="0.90" fill="#7a2b95"/>
<circle cx="298.65" cy="93.25" r="0.90" fill="#7a2b95"/>
<circle cx="288.53" cy="85.71" r="0.90" fill="#7a2b95"/>
<circle cx="290.29" cy="95.66" r="0.90" fill="#7a2b95"/>
<circle cx="288.22" cy="95.39" r="0.90" fill="#7a2b95"/>
<circle cx="289.33" cy="81.88" r="0.90" fill="#7a2b95"/>
<circle cx="291.38" cy="95.42" r="0.90" fill="#7a2b95"/>
<circle cx="278.66" cy="87.29" r="0.90" fill="#7a2b95"/>
<circle cx="288.37" cy="100.98" r="0.90" fill="#7a2b95"/>
<circle cx="301.30" cy="98.31" r="0.90" fill="#7a2b95"/>
<circle cx="283.88" cy="88.47" r="0.90" fill="#7a2b95"/>
<circle cx="294.85" cy="101.21" r="0.90" fill="#7a2b95"/>
<circle cx="298.41" cy="94.59" r="0.90" fill="#7a2b95"/>
<circle cx="296.80" cy="91.47" r="0.90" fill="#7a2b95"/>
<circle cx="279.53" cy="92.19" r="0.90" fill="#7a2b95"/>
<circle cx="276.83" cy="78.82" r="0.90" fill="#7a2b95"/>
<circle cx="279.22" cy="77.49" r="0.90" fill="#7a2b95"/>
<circle cx="295.15" cy="99.67" r="0.90" fill="#7a2b95"/>
<circle cx="302.80" cy="91.93" r="0.90" fill="#7a2b95"/>
<circle cx="297.73" cy="89.89" r="0.90" fill="#7a2b95"/>
<circle cx="297.22" cy="102.63" r="0.90" fill="#7a2b95"/>
<circle cx="278.38" cy="84.26" r="0.90" fill="#7a2b95"/>
<circle cx="292.15" cy="99.42" r="0.90" fill="#7a2b95"/>
<circle cx="283.33" cy="79.91" r="0.90" fill="#7a2b95"/>
<circle cx="283.55" cy="93.04" r="0.90" fill="#7a2b95"/>
<circle cx="297.35" cy="86.35" r="0.90" fill="#7a2b95"/>
<circle cx="286.77" cy="86.44" r="0.90" fill="#7a2b95"/>
<circle cx="286.30" cy="87.09" r="0.90" fill="#7a2b95"/>
<circle cx="278.98" cy="89.56" r="0.90" fill="#7a2b95"/>
<circle cx="295.63" cy="97.26" r="0.90" fill="#7a2b95"/>
<circle cx="295.16" cy="90.06" r="0.90" fill="#7a2b95"/>
<circle cx="289.95" cy="93.85" r="0.90" fill="#7a2b95"/>
<circle cx="279.33" cy="97.02" r="0.90" fill="#7a2b95"/>
<circle cx="301.82" cy="90.07" r="0.90" fill="#7a2b95"/>
<circle cx="288.84" cy="96.14" r="0.90" fill="#7a2b95"/>
<circle cx="281.80" cy="82.55" r="0.90" fill="#7a2b95"/>
<circle cx="282.16" cy="92.13" r="0.90" fill="#7a2b95"/>
<circle cx="285.33" cy="81.49" r="0.90" fill="#7a2b95"/>
<circle cx="295.64" cy="103.20" r="0.90" fill="#7a2b95"/>
<circle cx="284.81" cy="95.73" r="0.90" fill="#7a2b95"/>
<circle cx="288.02" cy="100.19" r="0.90" fill="#7a2b95"/>
<circle cx="282.66" cy="75.20" r="0.90" fill="#7a2b95"/>
<circle cx="289.84" cy="86.02" r="0.90" fill="#7a2b95"/>
<circle cx="281.42" cy="85.35" r="0.90" fill="#7a2b95"/>
<circle cx="285.52" cy="97.80" r="0.90" fill="#7a2b95"/>
<circle cx="289.84" cy="92.53" r="0.90" fill="#7a2b95"/>
<circle cx="289.52" cy="99.62" r="0.90" fill="#7a2b95"/>
<circle cx="299.21" cy="91.27" r="0.90" fill="#7a2b95"/>
<circle cx="289.89" cy="96.19" r="0.90" fill="#7a2b95"/>
<circle cx="289.51" cy="81.41" r="0.90" fill="#7a2b95"/>
<circle cx="283.13" cy="96.10" r="0.90" fill="#7a2b95"/>
<circle cx="295.20" cy="103.36" r="0.90" fill="#7a2b95"/>
<circle cx="281.90" cy="82.28" r="0.90" fill="#7a2b95"/>
<circle cx="281.83" cy="95.71" r="0.90" fill="#7a2b95"/>
<circle cx="283.69" cy="100.54" r="0.90" fill="#7a2b95"/>
<circle cx="285.29" cy="87.24" r="0.90" fill="#7a2b95"/>
<circle cx="284.69" cy="85.24" r="0.90" fill="#7a2b95"/>
<circle cx="292.60" cy="94.83" r="0.90" fill="#7a2b95"/>
<circle cx="276.89" cy="84.58" r="0.90" fill="#7a2b95"/>
<circle cx="288.65" cy="89.13" r="0.90" fill="#7a2b95"/>
<circle cx="282.46" cy="92.11" r="0.90" fill="#7a2b95"/>
<circle cx="284.23" cy="94.53" r="0.90" fill="#7a2b95"/>
<circle cx="297.86" cy="97.30" r="0.90" fill="#7a2b95"/>
<circle cx="284.80" cy="94.84" r="0.90" fill="#7a2b95"/>
<circle cx="294.62" cy="98.76" r="0.90" fill="#7a2b95"/>
<circle cx="283.98" cy="97.20" r="0.90" fill="#7a2b95"/>
<circle cx="303.04" cy="94.75" r="0.90" fill="#7a2b95"/>
<circle cx="290.23" cy="85.10" r="0.90" fill="#7a2b95"/>
<circle cx="296.38" cy="94.92" r="0.90" fill="#7a2b95"/>
<circle cx="294.39" cy="93.49" r="0.90" fill="#7a2b95"/>
<circle cx="285.78" cy="96.19" r="0.90" fill="#7a2b95"/>
<circle cx="293.07" cy="91.20" r="0.90" fill="#7a2b95"/>
<circle cx="294.44" cy="88.28" r="0.90" fill="#7a2b95"/>
<circle cx="285.26" cy="79.81" r="0.90" fill="#7a2b95"/>
<circle cx="297.37" cy="90.85" r="0.90" fill="#7a2b95"/>
<circle cx="283.98" cy="86.04" r="0.90" fill="#7a2b95"/>
<circle cx="290.53" cy="81.94" r="0.90" fill="#7a2b95"/>
<circle cx="285.82" cy="86.64" r="0.90" fill="#7a2b95"/>
<circle cx="291.54" cy="97.73" r="0.90" fill="#7a2b95"/>
<circle cx="286.37" cy="99.99" r="0.90" fill="#7a2b95"/>
<circle cx="279.77" cy="82.64" r="0.90" fill="#7a2b95"/>
<circle cx="279.43" cy="77.89" r="0.90" fill="#7a2b95"/>
<circle cx="298.04" cy="96.39" r="0.90" fill="#7a2b95"/>
<circle cx="281.76" cy="80.19" r="0.90" fill="#7a2b95"/>
<circle cx="288.12" cy="96.87" r="0.90" fill="#7a2b95"/>
<circle cx="299.05" cy="97.04" r="0.90" fill="#7a2b95"/>
<circle cx="287.62" cy="80.33" r="0.90" fill="#7a2b95"/>
<circle cx="291.16" cy="91.61" r="0.90" fill="#7a2b95"/>
<circle cx="282.24" cy="82.03" r="0.90" fill="#7a2b95"/>
<circle cx="298.71" cy="101.33" r="0.90" fill="#7a2b95"/>
<circle cx="291.84" cy="92.05" r="0.90" fill="#7a2b95"/>
<circle cx="294.06" cy="103.91" r="0.90" fill="#7a2b95"/>
<circle cx="300.26" cy="89.07" r="0.90" fill="#7a2b95"/>
<circle cx="293.18" cy="96.38" r="0.90" fill="#7a2b95"/>
<circle cx="294.84" cy="89.31" r="0.90" fill="#7a2b95"/>
<circle cx="291.05" cy="88.36" r="0.90" fill="#7a2b95"/>
<circle cx="282.00" cy="90.44" r="0.90" fill="#7a2b95"/>
<circle cx="277.72" cy="89.56" r="0.90" fill="#7a2b95"/>
<circle cx="294.40" cy="87.87" r="0.90" fill="#7a2b95"/>
<circle cx="292.21" cy="103.37" r="0.90" fill="#7a2b95"/>
<circle cx="298.41" cy="93.26" r="0.90" fill="#7a2b95"/>
<circle cx="278.09" cy="85.33" r="0.90" fill="#7a2b95"/>
<circle cx="283.10" cy="76.84" r="0.90" fill="#7a2b95"/>
<circle cx="291.47" cy="102.49" r="0.90" fill="#7a2b95"/>
<circle cx="285.55" cy="100.70" r="0.90" fill="#7a2b95"/>
<circle cx="300.22" cy="92.59" r="0.90" fill="#7a2b95"/>
<circle cx="302.10" cy="96.05" r="0.90" fill="#7a2b95"/>
<circle cx="300.30" cy="87.65" r="0.90" fill="#7a2b95"/>
<circle cx="297.44" cy="89.10" r="0.90" fill="#7a2b95"/>
<circle cx="279.69" cy="75.79" r="0.90" fill="#7a2b95"/>
<circle cx="278.84" cy="80.53" r="0.90" fill="#7a2b95"/>
<circle cx="281.11" cy="89.46" r="0.90" fill="#7a2b95"/>
<circle cx="295.86" cy="90.68" r="0.90" fill="#7a2b95"/>
<circle cx="288.27" cy="94.04" r="0.90" fill="#7a2b95"/>
<circle cx="285.05" cy="88.48" r="0.90" fill="#7a2b95"/>
<circle cx="297.44" cy="86.58" r="0.90" fill="#7a2b95"/>
<circle cx="286.86" cy="90.43" r="0.90" fill="#7a2b95"/>
<circle cx="276.77" cy="80.79" r="0.90" fill="#7a2b95"/>
<circle cx="289.30" cy="80.38" r="0.90" fill="#7a2b95"/>
<circle cx="282.43" cy="79.64" r="0.90" fill="#7a2b95"/>
<circle cx="287.76" cy="79.57" r="0.90" fill="#7a2b95"/>
<circle cx="277.45" cy="77.81" r="0.90" fill="#7a2b95"/>
<circle cx="281.31" cy="89.26" r="0.90" fill="#7a2b95"/>
<circle cx="278.34" cy="75.18" r="0.90" fill="#7a2b95"/>
<circle cx="288.98" cy="86.77" r="0.90" fill="#7a2b95"/>
<circle cx="287.75" cy="86.44" r="0.90" fill="#7a2b95"/>
<circle cx="282.70" cy="77.34" r="0.90" fill="#7a2b95"/>
<circle cx="289.70" cy="79.46" r="0.90" fill="#7a2b95"/>
<circle cx="293.76" cy="84.93" r="0.90" fill="#7a2b95"/>
<circle cx="280.10" cy="76.06" r="0.90" fill="#7a2b95"/>
<circle cx="298.29" cy="88.51" r="0.90" fill="#7a2b95"/>
<circle cx="283.55" cy="82.50" r="0.90" fill="#7a2b95"/>
<circle cx="299.02" cy="93.44" r="0.90" fill="#7a2b95"/>
<circle cx="286.15" cy="77.32" r="0.90" fill="#7a2b95"/>
<circle cx="295.40" cy="103.67" r="0.90" fill="#7a2b95"/>
<circle cx="277.53" cy="77.23" r="0.90" fill="#7a2b95"/>
<circle cx="281.37" cy="75.60" r="0.90" fill="#7a2b95"/>
<circle cx="285.05" cy="92.77" r="0.90" fill="#7a2b95"/>
<circle cx="284.74" cy="100.08" r="0.90" fill="#7a2b95"/>
<circle cx="279.84" cy="86.23" r="0.90" fill="#7a2b95"/>
<circle cx="285.86" cy="94.97" r="0.90" fill="#7a2b95"/>
<circle cx="296.97" cy="96.59" r="0.90" fill="#7a2b95"/>
<circle cx="299.60" cy="91.16" r="0.90" fill="#7a2b95"/>
<circle cx="288.06" cy="81.41" r="0.90" fill="#7a2b95"/>
<circle cx="275.58" cy="75.46" r="0.81" fill="#7a2b95"/>
<circle cx="282.20" cy="72.51" r="0.81" fill="#7a2b95"/>
<circle cx="271.94" cy="77.16" r="0.81" fill="#7a2b95"/>
<circle cx="275.41" cy="72.99" r="0.81" fill="#7a2b95"/>
<circle cx="273.72" cy="72.62" r="0.81" fill="#7a2b95"/>
<circle cx="268.72" cy="76.40" r="0.81" fill="#7a2b95"/>
<circle cx="283.97" cy="77.11" r="0.81" fill="#7a2b95"/>
<circle cx="278.53" cy="72.72" r="0.81" fill="#7a2b95"/>
<circle cx="274.30" cy="70.30" r="0.81" fill="#7a2b95"/>
<circle cx="280.50" cy="72.21" r="0.81" fill="#7a2b95"/>
<circle cx="272.35" cy="80.73" r="0.81" fill="#7a2b95"/>
<circle cx="278.18" cy="78.01" r="0.81" fill="#7a2b95"/>
<circle cx="278.39" cy="70.73" r="0.81" fill="#7a2b95"/>
<circle cx="280.17" cy="71.73" r="0.81" fill="#7a2b95"/>
<circle cx="273.76" cy="70.13" r="0.81" fill="#7a2b95"/>
<circle cx="266.43" cy="73.09" r="0.81" fill="#7a2b95"/>
<circle cx="274.08" cy="69.85" r="0.81" fill="#7a2b95"/>
<circle cx="272.47" cy="69.30" r="0.81" fill="#7a2b95"/>
<circle cx="269.77" cy="76.27" r="0.81" fill="#7a2b95"/>
<circle cx="275.44" cy="73.78" r="0.81" fill="#7a2b95"/>
<circle cx="273.56" cy="70.19" r="0.81" fill="#7a2b95"/>
<circle cx="273.46" cy="69.78" r="0.81" fill="#7a2b95"/>
<circle cx="279.61" cy="76.62" r="0.81" fill="#7a2b95"/>
<circle cx="278.40" cy="73.59" r="0.81" fill="#7a2b95"/>
<circle cx="269.48" cy="73.17" r="0.81" fill="#7a2b95"/>
<circle cx="281.24" cy="80.23" r="0.81" fill="#7a2b95"/>
<circle cx="283.09" cy="74.32" r="0.81" fill="#7a2b95"/>
<circle cx="274.65" cy="79.39" r="0.81" fill="#7a2b95"/>
<circle cx="280.12" cy="78.59" r="0.81" fill="#7a2b95"/>
<circle cx="268.94" cy="76.10" r="0.81" fill="#7a2b95"/>
<circle cx="280.70" cy="71.48" r="0.81" fill="#7a2b95"/>
<circle cx="269.55" cy="79.02" r="0.81" fill="#7a2b95"/>
<circle cx="277.13" cy="73.62" r="0.81" fill="#7a2b95"/>
<circle cx="275.40" cy="71.72" r="0.81" fill="#7a2b95"/>
<circle cx="270.41" cy="69.83" r="0.81" fill="#7a2b95"/>
<circle cx="273.64" cy="70.33" r="0.81" fill="#7a2b95"/>
<circle cx="277.62" cy="69.63" r="0.81" fill="#7a2b95"/>
<circle cx="277.77" cy="70.44" r="0.81" fill="#7a2b95"/>
<circle cx="273.00" cy="70.10" r="0.81" fill="#7a2b95"/>
<circle cx="275.65" cy="69.44" r="0.81" fill="#7a2b95"/>
<circle cx="271.08" cy="71.42" r="0.81" fill="#7a2b95"/>
<circle cx="274.99" cy="80.13" r="0.81" fill="#7a2b95"/>
<circle cx="277.35" cy="78.28" r="0.81" fill="#7a2b95"/>
<circle cx="280.43" cy="75.14" r="0.81" fill="#7a2b95"/>
<circle cx="268.02" cy="74.95" r="0.81" fill="#7a2b95"/>
<circle cx="272.33" cy="80.13" r="0.81" fill="#7a2b95"/>
<circle cx="269.39" cy="70.14" r="0.81" fill="#7a2b95"/>
<circle cx="278.66" cy="76.08" r="0.81" fill="#7a2b95"/>
<circle cx="266.31" cy="72.80" r="0.81" fill="#7a2b95"/>
<circle cx="274.53" cy="78.78" r="0.81" fill="#7a2b95"/>
<circle cx="281.56" cy="79.42" r="0.81" fill="#7a2b95"/>
<circle cx="276.45" cy="80.22" r="0.81" fill="#7a2b95"/>
<circle cx="275.08" cy="72.11" r="0.81" fill="#7a2b95"/>
<circle cx="268.14" cy="78.90" r="0.81" fill="#7a2b95"/>
<circle cx="278.86" cy="76.21" r="0.81" fill="#7a2b95"/>
<circle cx="277.78" cy="98.77" r="0.81" fill="#7a2b95"/>
<circle cx="276.47" cy="94.10" r="0.81" fill="#7a2b95"/>
<circle cx="273.67" cy="93.67" r="0.81" fill="#7a2b95"/>
<circle cx="278.42" cy="97.30" r="0.81" fill="#7a2b95"/>
<circle cx="276.31" cy="95.08" r="0.81" fill="#7a2b95"/>
<circle cx="274.12" cy="90.55" r="0.81" fill="#7a2b95"/>
<circle cx="273.15" cy="94.55" r="0.81" fill="#7a2b95"/>
<circle cx="278.95" cy="95.40" r="0.81" fill="#7a2b95"/>
<circle cx="276.31" cy="93.56" r="0.81" fill="#7a2b95"/>
<circle cx="275.69" cy="93.12" r="0.81" fill="#7a2b95"/>
<circle cx="280.48" cy="91.36" r="0.81" fill="#7a2b95"/>
<circle cx="274.28" cy="96.78" r="0.81" fill="#7a2b95"/>
<circle cx="279.10" cy="94.95" r="0.81" fill="#7a2b95"/>
<circle cx="272.36" cy="90.99" r="0.81" fill="#7a2b95"/>
<circle cx="273.42" cy="92.38" r="0.81" fill="#7a2b95"/>
<circle cx="282.36" cy="92.43" r="0.81" fill="#7a2b95"/>
<circle cx="278.99" cy="98.76" r="0.81" fill="#7a2b95"/>
<circle cx="276.32" cy="92.79" r="0.81" fill="#7a2b95"/>
<circle cx="280.77" cy="92.11" r="0.81" fill="#7a2b95"/>
<circle cx="277.89" cy="92.35" r="0.81" fill="#7a2b95"/>
<circle cx="282.08" cy="94.22" r="0.81" fill="#7a2b95"/>
<circle cx="279.91" cy="89.40" r="0.81" fill="#7a2b95"/>
<circle cx="280.23" cy="90.67" r="0.81" fill="#7a2b95"/>
<circle cx="278.57" cy="92.12" r="0.81" fill="#7a2b95"/>
<circle cx="280.06" cy="89.59" r="0.81" fill="#7a2b95"/>
<circle cx="277.11" cy="95.88" r="0.81" fill="#7a2b95"/>
<circle cx="279.05" cy="98.05" r="0.81" fill="#7a2b95"/>
<circle cx="277.07" cy="88.79" r="0.81" fill="#7a2b95"/>
<circle cx="275.29" cy="92.50" r="0.81" fill="#7a2b95"/>
<circle cx="275.01" cy="96.56" r="0.81" fill="#7a2b95"/>
<circle cx="274.23" cy="97.76" r="0.81" fill="#7a2b95"/>
<circle cx="272.65" cy="92.84" r="0.81" fill="#7a2b95"/>
<circle cx="281.59" cy="93.83" r="0.81" fill="#7a2b95"/>
<circle cx="280.37" cy="88.91" r="0.81" fill="#7a2b95"/>
<circle cx="275.58" cy="95.23" r="0.81" fill="#7a2b95"/>
<circle cx="283.55" cy="95.82" r="0.85" fill="#70ad2e"/>
<circle cx="285.45" cy="100.23" r="0.85" fill="#70ad2e"/>
<circle cx="284.84" cy="99.79" r="0.85" fill="#70ad2e"/>
<circle cx="287.08" cy="93.78" r="0.85" fill="#70ad2e"/>
<circle cx="281.86" cy="84.92" r="0.85" fill="#70ad2e"/>
<circle cx="282.68" cy="92.13" r="0.85" fill="#70ad2e"/>
<circle cx="285.12" cy="83.01" r="0.85" fill="#70ad2e"/>
<circle cx="285.47" cy="82.55" r="0.85" fill="#70ad2e"/>
<circle cx="283.49" cy="82.29" r="0.85" fill="#70ad2e"/>
<circle cx="279.00" cy="84.24" r="0.85" fill="#70ad2e"/>
<circle cx="282.63" cy="94.41" r="0.85" fill="#70ad2e"/>
<circle cx="280.67" cy="83.15" r="0.85" fill="#70ad2e"/>
<circle cx="278.30" cy="80.93" r="0.85" fill="#70ad2e"/>
<circle cx="280.01" cy="92.77" r="0.85" fill="#70ad2e"/>
<circle cx="280.42" cy="86.32" r="0.85" fill="#70ad2e"/>
<circle cx="285.70" cy="90.08" r="0.85" fill="#70ad2e"/>
<circle cx="280.17" cy="90.09" r="0.85" fill="#70ad2e"/>
<circle cx="284.95" cy="98.09" r="0.85" fill="#70ad2e"/>
<circle cx="280.73" cy="92.23" r="0.85" fill="#70ad2e"/>
<circle cx="278.86" cy="96.13" r="0.85" fill="#70ad2e"/>
<circle cx="280.49" cy="87.31" r="0.85" fill="#70ad2e"/>
<circle cx="282.47" cy="96.56" r="0.85" fill="#70ad2e"/>
<circle cx="285.47" cy="98.41" r="0.85" fill="#70ad2e"/>
<circle cx="277.70" cy="87.00" r="0.85" fill="#70ad2e"/>
<circle cx="283.42" cy="99.70" r="0.85" fill="#70ad2e"/>
<circle cx="282.70" cy="86.37" r="0.85" fill="#70ad2e"/>
<circle cx="280.18" cy="83.40" r="0.85" fill="#70ad2e"/>
<circle cx="277.56" cy="82.78" r="0.85" fill="#70ad2e"/>
<circle cx="278.48" cy="80.57" r="0.85" fill="#70ad2e"/>
<circle cx="281.16" cy="84.72" r="0.85" fill="#70ad2e"/>
<circle cx="283.23" cy="97.68" r="0.85" fill="#70ad2e"/>
<circle cx="281.71" cy="88.78" r="0.85" fill="#70ad2e"/>
<circle cx="284.75" cy="100.40" r="0.85" fill="#70ad2e"/>
<circle cx="283.63" cy="96.84" r="0.85" fill="#70ad2e"/>
<circle cx="277.87" cy="89.06" r="0.85" fill="#70ad2e"/>
<circle cx="279.94" cy="89.47" r="0.85" fill="#70ad2e"/>
<circle cx="282.07" cy="95.55" r="0.85" fill="#70ad2e"/>
<circle cx="281.97" cy="85.90" r="0.85" fill="#70ad2e"/>
<circle cx="281.14" cy="82.72" r="0.85" fill="#70ad2e"/>
<circle cx="287.26" cy="93.29" r="0.85" fill="#70ad2e"/>
<circle cx="282.19" cy="86.95" r="0.85" fill="#70ad2e"/>
<circle cx="277.68" cy="85.49" r="0.85" fill="#70ad2e"/>
<circle cx="285.30" cy="98.58" r="0.85" fill="#70ad2e"/>
<circle cx="280.67" cy="96.79" r="0.85" fill="#70ad2e"/>
<circle cx="285.22" cy="94.78" r="0.85" fill="#70ad2e"/>
<circle cx="285.43" cy="97.58" r="0.81" fill="#7a2b95"/>
<circle cx="282.04" cy="85.26" r="0.81" fill="#7a2b95"/>
<circle cx="281.87" cy="96.21" r="0.81" fill="#7a2b95"/>
<circle cx="280.80" cy="96.44" r="0.81" fill="#7a2b95"/>
<circle cx="279.70" cy="97.14" r="0.81" fill="#7a2b95"/>
<circle cx="284.73" cy="88.61" r="0.81" fill="#7a2b95"/>
<circle cx="282.62" cy="94.51" r="0.81" fill="#7a2b95"/>
<circle cx="278.82" cy="91.68" r="0.81" fill="#7a2b95"/>
<circle cx="285.56" cy="85.34" r="0.81" fill="#7a2b95"/>
<circle cx="285.54" cy="94.59" r="0.81" fill="#7a2b95"/>
<circle cx="285.99" cy="86.88" r="0.81" fill="#7a2b95"/>
<circle cx="285.55" cy="89.29" r="0.81" fill="#7a2b95"/>
<circle cx="277.73" cy="83.84" r="0.81" fill="#7a2b95"/>
<circle cx="283.68" cy="85.91" r="0.81" fill="#7a2b95"/>
<circle cx="287.17" cy="92.45" r="0.81" fill="#7a2b95"/>
<circle cx="278.91" cy="93.92" r="0.81" fill="#7a2b95"/>
<circle cx="286.70" cy="90.82" r="0.81" fill="#7a2b95"/>
<circle cx="283.79" cy="94.85" r="0.81" fill="#7a2b95"/>
<circle cx="284.30" cy="68.80" r="0.99" fill="#7a2b95"/>
<circle cx="286.00" cy="70.50" r="0.99" fill="#7a2b95"/>
<circle cx="302.70" cy="74.30" r="0.99" fill="#7a2b95"/>
<circle cx="302.10" cy="78.80" r="0.99" fill="#7a2b95"/>
<circle cx="300.20" cy="80.50" r="0.99" fill="#7a2b95"/>
<circle cx="298.20" cy="83.30" r="0.99" fill="#7a2b95"/>
<circle cx="309.40" cy="71.00" r="0.99" fill="#7a2b95"/>
<circle cx="309.40" cy="75.00" r="0.99" fill="#7a2b95"/>
<circle cx="312.60" cy="66.30" r="0.99" fill="#7a2b95"/>
<circle cx="302.30" cy="74.50" r="0.99" fill="#7a2b95"/>
<circle cx="301.80" cy="113.50" r="0.99" fill="#7a2b95"/>
<circle cx="271.70" cy="90.20" r="0.99" fill="#7a2b95"/>
<circle cx="305.70" cy="64.00" r="0.99" fill="#7a2b95"/>
<path d="M304.00 62.50 L305.70 64.20 L308.00 65.80" fill="none" stroke="#7a2b95" stroke-width="1.62" stroke-linecap="round" stroke-linejoin="round"/>
<path d="M304.20 65.80 L307.20 62.80" fill="none" stroke="#7a2b95" stroke-width="1.62" stroke-linecap="round" stroke-linejoin="round"/>
<path d="M311.00 45.80 L313.70 47.40 L316.80 47.60" fill="none" stroke="#7a2b95" stroke-width="1.35" stroke-linecap="round" stroke-linejoin="round"/>
<circle cx="318.94" cy="66.62" r="0.81" fill="#7a2b95"/>
<circle cx="320.13" cy="63.78" r="0.81" fill="#7a2b95"/>
<circle cx="317.70" cy="67.46" r="0.81" fill="#7a2b95"/>
<circle cx="320.28" cy="66.31" r="0.81" fill="#7a2b95"/>
<circle cx="319.46" cy="66.64" r="0.81" fill="#7a2b95"/>
<circle cx="316.90" cy="65.42" r="0.81" fill="#7a2b95"/>
<circle cx="316.46" cy="66.78" r="0.81" fill="#7a2b95"/>
<circle cx="318.09" cy="65.23" r="0.81" fill="#7a2b95"/>
<circle cx="319.16" cy="63.50" r="0.81" fill="#7a2b95"/>
<circle cx="316.70" cy="65.33" r="0.81" fill="#7a2b95"/>
<circle cx="316.84" cy="64.72" r="0.81" fill="#7a2b95"/>
<circle cx="319.85" cy="63.90" r="0.81" fill="#7a2b95"/>
<circle cx="317.06" cy="67.49" r="0.81" fill="#7a2b95"/>
<circle cx="318.48" cy="65.30" r="0.81" fill="#7a2b95"/>
<circle cx="319.70" cy="65.62" r="0.81" fill="#7a2b95"/>
<circle cx="318.21" cy="65.00" r="0.81" fill="#7a2b95"/>
<path d="M308.70 70.00 L311.20 71.50 L313.70 72.50 L315.20 73.00" fill="none" stroke="#7a2b95" stroke-width="1.35" stroke-linecap="round" stroke-linejoin="round"/>
<circle cx="311.64" cy="77.66" r="0.77" fill="#7a2b95"/>
<circle cx="314.71" cy="77.01" r="0.77" fill="#7a2b95"/>
<circle cx="312.00" cy="77.85" r="0.77" fill="#7a2b95"/>
<circle cx="309.90" cy="77.33" r="0.77" fill="#7a2b95"/>
<circle cx="312.79" cy="79.27" r="0.77" fill="#7a2b95"/>
<circle cx="309.31" cy="75.89" r="0.77" fill="#7a2b95"/>
<circle cx="309.29" cy="79.39" r="0.77" fill="#7a2b95"/>
<circle cx="312.95" cy="78.05" r="0.77" fill="#7a2b95"/>
<circle cx="312.13" cy="74.21" r="0.77" fill="#7a2b95"/>
<circle cx="309.94" cy="75.47" r="0.77" fill="#7a2b95"/>
<circle cx="311.56" cy="79.61" r="0.77" fill="#7a2b95"/>
<circle cx="312.07" cy="78.22" r="0.77" fill="#7a2b95"/>
<circle cx="311.95" cy="78.37" r="0.77" fill="#7a2b95"/>
<circle cx="311.67" cy="75.72" r="0.77" fill="#7a2b95"/>
<circle cx="314.16" cy="78.68" r="0.77" fill="#7a2b95"/>
<circle cx="310.75" cy="75.38" r="0.77" fill="#7a2b95"/>
<circle cx="310.58" cy="74.28" r="0.77" fill="#7a2b95"/>
<circle cx="313.68" cy="76.56" r="0.77" fill="#7a2b95"/>
<circle cx="314.20" cy="76.47" r="0.77" fill="#7a2b95"/>
<circle cx="314.62" cy="77.04" r="0.77" fill="#7a2b95"/>
<circle cx="315.07" cy="76.54" r="0.77" fill="#7a2b95"/>
<circle cx="309.17" cy="78.14" r="0.77" fill="#7a2b95"/>
<path d="M315.70 74.50 L317.70 77.00 L319.20 80.00 L321.20 82.50 L322.70 83.20" fill="none" stroke="#7a2b95" stroke-width="1.35" stroke-linecap="round" stroke-linejoin="round"/>
<path d="M320.10 72.80 L322.70 71.20 L326.70 70.60" fill="none" stroke="#7a2b95" stroke-width="1.35" stroke-linecap="round" stroke-linejoin="round"/>
<path d="M300.20 79.50 L303.50 79.30" fill="none" stroke="#7a2b95" stroke-width="1.26" stroke-linecap="round" stroke-linejoin="round"/>
<path d="M277.00 99.00 L278.70 101.00 L277.70 104.00" fill="none" stroke="#7a2b95" stroke-width="1.35" stroke-linecap="round" stroke-linejoin="round"/>
<path d="M308.60 77.00 L310.20 80.00 L313.20 80.50" fill="none" stroke="#7a2b95" stroke-width="1.35" stroke-linecap="round" stroke-linejoin="round"/>
<path d="M315.80 77.00 L318.20 76.00 L321.70 78.00 L322.20 82.00" fill="none" stroke="#7a2b95" stroke-width="1.44" stroke-linecap="round" stroke-linejoin="round"/>
<circle cx="310.56" cy="76.04" r="0.81" fill="#7a2b95"/>
<circle cx="308.76" cy="81.14" r="0.81" fill="#7a2b95"/>
<circle cx="310.29" cy="76.84" r="0.81" fill="#7a2b95"/>
<circle cx="317.26" cy="78.06" r="0.81" fill="#7a2b95"/>
<circle cx="318.09" cy="73.76" r="0.81" fill="#7a2b95"/>
<circle cx="305.82" cy="72.13" r="0.81" fill="#7a2b95"/>
<circle cx="315.71" cy="81.03" r="0.81" fill="#7a2b95"/>
<circle cx="309.11" cy="77.85" r="0.81" fill="#7a2b95"/>
<circle cx="313.28" cy="80.57" r="0.81" fill="#7a2b95"/>
<circle cx="309.45" cy="80.16" r="0.81" fill="#7a2b95"/>
<circle cx="314.84" cy="81.40" r="0.81" fill="#7a2b95"/>
<circle cx="315.54" cy="82.51" r="0.81" fill="#7a2b95"/>
<circle cx="318.23" cy="70.80" r="0.81" fill="#7a2b95"/>
<circle cx="305.56" cy="74.95" r="0.81" fill="#7a2b95"/>
<circle cx="314.33" cy="71.21" r="0.81" fill="#7a2b95"/>
<circle cx="309.13" cy="73.73" r="0.81" fill="#7a2b95"/>
<circle cx="315.11" cy="69.88" r="0.81" fill="#7a2b95"/>
<circle cx="321.99" cy="78.43" r="0.81" fill="#7a2b95"/>
<circle cx="317.06" cy="76.38" r="0.81" fill="#7a2b95"/>
<circle cx="305.80" cy="74.73" r="0.81" fill="#7a2b95"/>
<circle cx="307.12" cy="77.36" r="0.81" fill="#7a2b95"/>
<circle cx="317.96" cy="76.97" r="0.81" fill="#7a2b95"/>
<circle cx="324.08" cy="71.60" r="0.81" fill="#7a2b95"/>
<circle cx="321.23" cy="77.38" r="0.81" fill="#7a2b95"/>
<circle cx="306.38" cy="75.44" r="0.81" fill="#7a2b95"/>
<circle cx="316.98" cy="77.53" r="0.81" fill="#7a2b95"/>
<circle cx="324.71" cy="72.71" r="0.81" fill="#7a2b95"/>
<circle cx="315.79" cy="70.35" r="0.81" fill="#7a2b95"/>
<circle cx="319.27" cy="74.76" r="0.81" fill="#7a2b95"/>
<circle cx="320.10" cy="79.61" r="0.81" fill="#7a2b95"/>
<circle cx="317.46" cy="76.01" r="0.81" fill="#7a2b95"/>
<circle cx="326.31" cy="72.53" r="0.81" fill="#7a2b95"/>
<circle cx="320.68" cy="78.70" r="0.81" fill="#7a2b95"/>
<circle cx="321.22" cy="75.65" r="0.81" fill="#7a2b95"/>
<circle cx="311.34" cy="80.52" r="0.81" fill="#7a2b95"/>
<circle cx="314.06" cy="81.71" r="0.81" fill="#7a2b95"/>
<circle cx="313.69" cy="73.12" r="0.81" fill="#7a2b95"/>
<circle cx="317.76" cy="78.45" r="0.81" fill="#7a2b95"/>
<circle cx="307.28" cy="63.63" r="0.85" fill="#7a2b95"/>
<circle cx="303.48" cy="62.60" r="0.85" fill="#7a2b95"/>
<circle cx="306.62" cy="60.26" r="0.85" fill="#7a2b95"/>
<circle cx="302.69" cy="61.28" r="0.85" fill="#7a2b95"/>
<circle cx="303.81" cy="62.06" r="0.85" fill="#7a2b95"/>
<circle cx="307.65" cy="63.12" r="0.85" fill="#7a2b95"/>
<circle cx="306.23" cy="65.03" r="0.85" fill="#7a2b95"/>
<circle cx="308.37" cy="64.08" r="0.85" fill="#7a2b95"/>
<circle cx="303.20" cy="63.90" r="0.85" fill="#7a2b95"/>
<circle cx="305.91" cy="61.35" r="0.85" fill="#7a2b95"/>
<circle cx="302.85" cy="61.38" r="0.85" fill="#7a2b95"/>
<circle cx="307.08" cy="66.09" r="0.85" fill="#7a2b95"/>
<circle cx="306.80" cy="63.20" r="0.85" fill="#7a2b95"/>
<circle cx="306.78" cy="63.97" r="0.85" fill="#7a2b95"/>
<path d="M262.40 93.50 C262.55 92.28 262.98 90.95 263.70 90.20 C264.42 89.45 265.62 89.10 266.70 89.00 C267.78 88.90 269.12 89.27 270.20 89.60 C271.28 89.93 272.20 90.72 273.20 91.00 C274.20 91.28 275.23 90.97 276.20 91.30 C277.17 91.63 278.62 92.22 279.00 93.00 C279.38 93.78 279.08 95.23 278.50 96.00 C277.92 96.77 276.22 96.93 275.50 97.60 C274.78 98.27 274.92 99.37 274.20 100.00 C273.48 100.63 272.37 101.17 271.20 101.40 C270.03 101.63 268.37 101.60 267.20 101.40 C266.03 101.20 264.93 100.85 264.20 100.20 C263.47 99.55 263.10 98.62 262.80 97.50 C262.50 96.38 262.25 94.72 262.40 93.50Z" fill="#f1ab1f" fill-opacity="0.9"/>
<path d="M266.80 80.50 L267.50 85.00 L268.40 90.00" fill="none" stroke="#f1ab1f" stroke-width="3.78" stroke-linecap="round" stroke-linejoin="round"/>
<path d="M264.20 82.30 L266.70 79.20 L269.70 76.50 L272.20 75.00" fill="none" stroke="#f1ab1f" stroke-width="3.06" stroke-linecap="round" stroke-linejoin="round"/>
<path d="M271.00 74.20 C271.25 73.43 272.83 73.00 273.70 72.90 C274.57 72.80 275.73 73.00 276.20 73.60 C276.67 74.20 276.75 75.77 276.50 76.50 C276.25 77.23 275.42 77.83 274.70 78.00 C273.98 78.17 272.82 78.13 272.20 77.50 C271.58 76.87 270.75 74.97 271.00 74.20Z" fill="#f1ab1f" fill-opacity="0.9"/>
<circle cx="261.80" cy="87.40" r="1.62" fill="#f1ab1f"/>
<circle cx="276.20" cy="79.00" r="1.17" fill="#f1ab1f"/>
<circle cx="278.40" cy="79.80" r="1.17" fill="#f1ab1f"/>
<circle cx="277.70" cy="81.50" r="1.17" fill="#f1ab1f"/>
<circle cx="266.40" cy="87.20" r="0.90" fill="#ffffff"/>
<circle cx="271.80" cy="88.70" r="0.90" fill="#ffffff"/>
<circle cx="270.00" cy="84.50" r="0.90" fill="#ffffff"/>
<path d="M281.70 77.60 L286.50 78.80 L290.20 81.50 L293.20 84.00 L295.70 86.50 L298.70 89.00 L301.70 91.00" fill="none" stroke="#000000" stroke-width="1.89" stroke-linecap="round" stroke-linejoin="round"/>
<ellipse cx="298.80" cy="89.60" rx="4.86" ry="2.97" transform="rotate(36 298.80 89.60)" fill="#000000"/>
<circle cx="281.00" cy="78.60" r="0.99" fill="#000000"/>
<circle cx="283.70" cy="78.60" r="0.99" fill="#000000"/>
<circle cx="268.90" cy="77.00" r="0.99" fill="#000000"/>
<circle cx="272.00" cy="72.80" r="0.99" fill="#000000"/>
<circle cx="275.10" cy="73.30" r="0.99" fill="#000000"/>
<circle cx="276.50" cy="75.30" r="0.99" fill="#000000"/>
<circle cx="276.20" cy="92.50" r="0.99" fill="#000000"/>
<circle cx="278.70" cy="93.60" r="0.99" fill="#000000"/>
<circle cx="276.50" cy="95.80" r="0.99" fill="#000000"/>
<circle cx="291.20" cy="84.00" r="0.99" fill="#000000"/>
<circle cx="292.20" cy="86.00" r="0.99" fill="#000000"/>
<path d="M318.70 63.30 L322.00 60.20 L325.30 57.10" fill="none" stroke="#000000" stroke-width="1.80" stroke-linecap="round" stroke-linejoin="round"/>
<path d="M227.10 77.30 C227.35 76.00 227.85 75.83 228.70 75.30 C229.55 74.77 230.78 74.38 232.20 74.10 C233.62 73.82 235.23 73.75 237.20 73.60 C239.17 73.45 241.72 73.20 244.00 73.20 C246.28 73.20 248.62 73.42 250.90 73.60 C253.18 73.78 255.77 73.93 257.70 74.30 C259.63 74.67 261.08 75.75 262.50 75.80 C263.92 75.85 265.03 74.75 266.20 74.60 C267.37 74.45 268.10 74.52 269.50 74.90 C270.90 75.28 272.93 75.87 274.60 76.90 C276.27 77.93 278.35 79.70 279.50 81.10 C280.65 82.50 281.22 83.60 281.50 85.30 C281.78 87.00 281.48 89.47 281.20 91.30 C280.92 93.13 280.20 94.80 279.80 96.30 C279.40 97.80 278.82 98.97 278.80 100.30 C278.78 101.63 279.15 102.95 279.70 104.30 C280.25 105.65 281.25 106.98 282.10 108.40 C282.95 109.82 283.95 111.77 284.80 112.80 C285.65 113.83 286.38 114.45 287.20 114.60 C288.02 114.75 288.75 113.90 289.70 113.70 C290.65 113.50 291.57 113.25 292.90 113.40 C294.23 113.55 296.38 113.87 297.70 114.60 C299.02 115.33 300.13 116.63 300.80 117.80 C301.47 118.97 301.80 120.18 301.70 121.60 C301.60 123.02 301.00 124.97 300.20 126.30 C299.40 127.63 298.15 128.92 296.90 129.60 C295.65 130.28 294.13 130.40 292.70 130.40 C291.27 130.40 289.63 130.25 288.30 129.60 C286.97 128.95 285.95 127.43 284.70 126.50 C283.45 125.57 282.37 124.37 280.80 124.00 C279.23 123.63 277.37 124.45 275.30 124.30 C273.23 124.15 270.45 123.77 268.40 123.10 C266.35 122.43 264.82 120.90 263.00 120.30 C261.18 119.70 259.33 119.28 257.50 119.50 C255.67 119.72 253.83 121.02 252.00 121.60 C250.17 122.18 248.08 123.10 246.50 123.00 C244.92 122.90 243.52 122.03 242.50 121.00 C241.48 119.97 240.72 118.20 240.40 116.80 C240.08 115.40 240.20 113.85 240.60 112.60 C241.00 111.35 241.78 110.22 242.80 109.30 C243.82 108.38 245.93 108.10 246.70 107.10 C247.47 106.10 247.60 104.55 247.40 103.30 C247.20 102.05 246.30 101.00 245.50 99.60 C244.70 98.20 243.98 96.35 242.60 94.90 C241.22 93.45 239.20 92.20 237.20 90.90 C235.20 89.60 232.27 88.40 230.60 87.10 C228.93 85.80 227.78 84.73 227.20 83.10 C226.62 81.47 226.85 78.60 227.10 77.30Z" fill="none" stroke="#e4471c" stroke-width="1.25"/>
<path d="M310.20 40.80 C311.63 40.40 314.82 39.38 317.10 39.50 C319.38 39.62 321.85 40.60 323.90 41.50 C325.95 42.40 327.57 44.22 329.40 44.90 C331.23 45.58 333.65 44.90 334.90 45.60 C336.15 46.30 336.67 47.73 336.90 49.10 C337.13 50.47 336.60 52.32 336.30 53.80 C336.00 55.28 335.00 56.50 335.10 58.00 C335.20 59.50 336.70 60.98 336.90 62.80 C337.10 64.62 337.10 67.20 336.30 68.90 C335.50 70.60 333.70 71.67 332.10 73.00 C330.50 74.33 328.52 75.98 326.70 76.90 C324.88 77.82 323.03 77.80 321.20 78.50 C319.37 79.20 317.30 80.20 315.70 81.10 C314.10 82.00 313.02 83.10 311.60 83.90 C310.18 84.70 308.77 85.47 307.20 85.90 C305.63 86.33 303.78 86.85 302.20 86.50 C300.62 86.15 298.83 85.03 297.70 83.80 C296.57 82.57 295.93 80.67 295.40 79.10 C294.87 77.53 295.17 76.50 294.50 74.40 C293.83 72.30 292.18 69.02 291.40 66.50 C290.62 63.98 289.77 61.52 289.80 59.30 C289.83 57.08 290.70 54.98 291.60 53.20 C292.50 51.42 293.92 49.72 295.20 48.60 C296.48 47.48 297.72 47.13 299.30 46.50 C300.88 45.87 303.17 45.57 304.70 44.80 C306.23 44.03 307.58 42.57 308.50 41.90 C309.42 41.23 308.77 41.20 310.20 40.80Z" fill="none" stroke="#e4471c" stroke-width="1.25"/>
<circle cx="266.2" cy="153.8" r="8.3" fill="none" stroke="#e4471c" stroke-width="1.25"/>
<path d="M236.40 73.50 C238.30 73.20 240.20 73.08 242.10 73.00 C244.00 72.92 245.90 72.80 247.80 73.00 C249.70 73.20 251.72 73.82 253.50 74.20 C255.28 74.58 257.08 75.33 258.50 75.30 C259.92 75.27 260.75 74.62 262.00 74.00 C263.25 73.38 264.50 72.20 266.00 71.60 C267.50 71.00 269.17 70.52 271.00 70.40 C272.83 70.28 275.00 70.48 277.00 70.90 C279.00 71.32 281.00 72.12 283.00 72.90 C285.00 73.68 287.17 74.65 289.00 75.60 C290.83 76.55 292.33 77.57 294.00 78.60 C295.67 79.63 297.50 80.63 299.00 81.80 C300.50 82.97 301.97 84.15 303.00 85.60 C304.03 87.05 304.95 88.80 305.20 90.50 C305.45 92.20 305.12 94.28 304.50 95.80 C303.88 97.32 302.50 98.32 301.50 99.60 C300.50 100.88 298.67 102.18 298.50 103.50 C298.33 104.82 299.83 106.17 300.50 107.50 C301.17 108.83 302.20 109.78 302.50 111.50 C302.80 113.22 302.55 115.80 302.30 117.80 C302.05 119.80 301.60 121.88 301.00 123.50 C300.40 125.12 299.85 126.53 298.70 127.50 C297.55 128.47 295.82 129.10 294.10 129.30 C292.38 129.50 289.92 129.08 288.40 128.70 C286.88 128.32 285.90 127.63 285.00 127.00 C284.10 126.37 284.37 125.42 283.00 124.90 C281.63 124.38 278.88 124.25 276.80 123.90 C274.72 123.55 272.25 123.23 270.50 122.80 C268.75 122.37 267.87 121.63 266.30 121.30 C264.73 120.97 262.82 121.15 261.10 120.80 C259.38 120.45 257.30 120.20 256.00 119.20 C254.70 118.20 253.85 116.75 253.30 114.80 C252.75 112.85 252.55 109.93 252.70 107.50 C252.85 105.07 253.95 102.12 254.20 100.20 C254.45 98.28 254.50 97.18 254.20 96.00 C253.90 94.82 253.47 93.85 252.40 93.10 C251.33 92.35 249.52 91.87 247.80 91.50 C246.08 91.13 244.18 91.18 242.10 90.90 C240.02 90.62 237.38 90.37 235.30 89.80 C233.22 89.23 231.03 88.67 229.60 87.50 C228.17 86.33 227.10 84.33 226.70 82.80 C226.30 81.27 226.53 79.63 227.20 78.30 C227.87 76.97 229.17 75.60 230.70 74.80 C232.23 74.00 234.50 73.80 236.40 73.50Z" fill="none" stroke="#1b70d2" stroke-width="1.25"/>
<path d="M254.50 100.00 C254.00 96.90 254.00 93.00 254.00 90.00 C254.00 87.00 253.83 84.50 254.50 82.00 C255.17 79.50 256.42 77.00 258.00 75.00 C259.58 73.00 261.67 71.33 264.00 70.00 C266.33 68.67 269.33 67.67 272.00 67.00 C274.67 66.33 277.50 66.08 280.00 66.00 C282.50 65.92 284.83 66.08 287.00 66.50 C289.17 66.92 291.17 67.67 293.00 68.50 C294.83 69.33 296.60 71.42 298.00 71.50 C299.40 71.58 300.73 70.58 301.40 69.00 C302.07 67.42 301.57 64.33 302.00 62.00 C302.43 59.67 303.53 57.33 304.00 55.00 C304.47 52.67 304.22 49.92 304.80 48.00 C305.38 46.08 306.30 44.62 307.50 43.50 C308.70 42.38 310.35 41.80 312.00 41.30 C313.65 40.80 315.55 40.47 317.40 40.50 C319.25 40.53 321.20 40.95 323.10 41.50 C325.00 42.05 327.07 43.13 328.80 43.80 C330.53 44.47 332.17 44.52 333.50 45.50 C334.83 46.48 335.88 48.05 336.80 49.70 C337.72 51.35 338.72 53.50 339.00 55.40 C339.28 57.30 339.07 59.20 338.50 61.10 C337.93 63.00 336.85 65.28 335.60 66.80 C334.35 68.32 332.72 69.33 331.00 70.20 C329.28 71.07 327.30 71.28 325.30 72.00 C323.30 72.72 320.88 73.58 319.00 74.50 C317.12 75.42 315.08 75.92 314.00 77.50 C312.92 79.08 312.92 81.58 312.50 84.00 C312.08 86.42 311.83 89.58 311.50 92.00 C311.17 94.42 311.00 96.75 310.50 98.50 C310.00 100.25 309.17 101.17 308.50 102.50 C307.83 103.83 307.18 105.08 306.50 106.50 C305.82 107.92 305.13 109.30 304.40 111.00 C303.67 112.70 303.25 115.08 302.10 116.70 C300.95 118.32 299.28 119.65 297.50 120.70 C295.72 121.75 293.47 122.77 291.40 123.00 C289.33 123.23 287.20 122.58 285.10 122.10 C283.00 121.62 280.88 120.78 278.80 120.10 C276.72 119.42 274.68 118.53 272.60 118.00 C270.52 117.47 268.38 117.60 266.30 116.90 C264.22 116.20 261.65 115.18 260.10 113.80 C258.55 112.42 257.93 110.90 257.00 108.60 C256.07 106.30 255.00 103.10 254.50 100.00Z" fill="none" stroke="#70ad2e" stroke-width="1.25"/>
<path d="M306.40 38.60 C307.75 37.80 310.07 37.23 311.90 37.20 C313.73 37.17 315.88 37.63 317.40 38.40 C318.92 39.17 320.18 40.53 321.00 41.80 C321.82 43.07 322.02 44.88 322.30 46.00 C322.58 47.12 321.88 47.92 322.70 48.50 C323.52 49.08 325.70 48.75 327.20 49.50 C328.70 50.25 330.57 51.58 331.70 53.00 C332.83 54.42 333.65 56.33 334.00 58.00 C334.35 59.67 334.18 61.42 333.80 63.00 C333.42 64.58 332.17 66.17 331.70 67.50 C331.23 68.83 330.98 69.52 331.00 71.00 C331.02 72.48 332.02 74.37 331.80 76.40 C331.58 78.43 330.88 81.30 329.70 83.20 C328.52 85.10 326.53 86.72 324.70 87.80 C322.87 88.88 320.70 89.20 318.70 89.70 C316.70 90.20 314.12 90.00 312.70 90.80 C311.28 91.60 310.90 93.05 310.20 94.50 C309.50 95.95 308.75 97.92 308.50 99.50 C308.25 101.08 308.37 102.48 308.70 104.00 C309.03 105.52 310.15 106.88 310.50 108.60 C310.85 110.32 311.32 112.58 310.80 114.30 C310.28 116.02 308.98 117.90 307.40 118.90 C305.82 119.90 303.27 120.65 301.30 120.30 C299.33 119.95 297.30 118.13 295.60 116.80 C293.90 115.47 293.18 113.43 291.10 112.30 C289.02 111.17 285.95 110.77 283.10 110.00 C280.25 109.23 276.28 108.87 274.00 107.70 C271.72 106.53 270.37 104.42 269.40 103.00 C268.43 101.58 268.40 100.73 268.20 99.20 C268.00 97.67 268.13 95.60 268.20 93.80 C268.27 92.00 268.87 89.97 268.60 88.40 C268.33 86.83 267.40 86.05 266.60 84.40 C265.80 82.75 264.23 80.68 263.80 78.50 C263.37 76.32 263.47 73.33 264.00 71.30 C264.53 69.27 265.88 67.35 267.00 66.30 C268.12 65.25 269.28 65.30 270.70 65.00 C272.12 64.70 273.55 64.58 275.50 64.50 C277.45 64.42 280.33 64.17 282.40 64.50 C284.47 64.83 286.30 65.83 287.90 66.50 C289.50 67.17 290.85 68.42 292.00 68.50 C293.15 68.58 294.12 68.08 294.80 67.00 C295.48 65.92 295.65 63.62 296.10 62.00 C296.55 60.38 296.60 58.67 297.50 57.30 C298.40 55.93 300.50 54.82 301.50 53.80 C302.50 52.78 303.23 52.27 303.50 51.20 C303.77 50.13 303.05 48.93 303.10 47.40 C303.15 45.87 303.25 43.47 303.80 42.00 C304.35 40.53 305.05 39.40 306.40 38.60Z" fill="none" stroke="#7a2b95" stroke-width="1.25"/>
<path d="M257.00 83.00 C258.08 81.08 259.33 79.37 260.50 77.50 C261.67 75.63 262.75 73.30 264.00 71.80 C265.25 70.30 266.53 69.28 268.00 68.50 C269.47 67.72 270.97 67.10 272.80 67.10 C274.63 67.10 277.22 67.63 279.00 68.50 C280.78 69.37 282.33 70.82 283.50 72.30 C284.67 73.78 285.42 75.62 286.00 77.40 C286.58 79.18 286.75 81.23 287.00 83.00 C287.25 84.77 287.50 86.17 287.50 88.00 C287.50 89.83 287.33 92.08 287.00 94.00 C286.67 95.92 286.42 97.92 285.50 99.50 C284.58 101.08 283.00 102.50 281.50 103.50 C280.00 104.50 278.17 104.83 276.50 105.50 C274.83 106.17 273.20 107.08 271.50 107.50 C269.80 107.92 268.05 108.42 266.30 108.00 C264.55 107.58 262.55 106.42 261.00 105.00 C259.45 103.58 258.08 101.33 257.00 99.50 C255.92 97.67 255.00 95.75 254.50 94.00 C254.00 92.25 253.58 90.83 254.00 89.00 C254.42 87.17 255.92 84.92 257.00 83.00Z" fill="none" stroke="#f1ab1f" stroke-width="1.25"/>
<path d="M263.50 76.50 C263.42 75.42 263.17 73.75 263.70 72.50 C264.23 71.25 265.32 69.95 266.70 69.00 C268.08 68.05 270.25 67.10 272.00 66.80 C273.75 66.50 275.53 66.60 277.20 67.20 C278.87 67.80 280.42 69.50 282.00 70.40 C283.58 71.30 284.92 71.95 286.70 72.60 C288.48 73.25 290.73 73.57 292.70 74.30 C294.67 75.03 296.58 75.92 298.50 77.00 C300.42 78.08 302.53 79.42 304.20 80.80 C305.87 82.18 307.50 83.77 308.50 85.30 C309.50 86.83 310.17 88.38 310.20 90.00 C310.23 91.62 309.62 93.55 308.70 95.00 C307.78 96.45 306.37 97.83 304.70 98.70 C303.03 99.57 300.70 100.10 298.70 100.20 C296.70 100.30 294.62 99.87 292.70 99.30 C290.78 98.73 288.70 97.55 287.20 96.80 C285.70 96.05 284.62 94.68 283.70 94.80 C282.78 94.92 282.42 96.58 281.70 97.50 C280.98 98.42 280.40 99.62 279.40 100.30 C278.40 100.98 276.98 101.72 275.70 101.60 C274.42 101.48 272.63 100.82 271.70 99.60 C270.77 98.38 270.20 95.97 270.10 94.30 C270.00 92.63 270.42 90.78 271.10 89.60 C271.78 88.42 273.10 87.77 274.20 87.20 C275.30 86.63 276.95 86.53 277.70 86.20 C278.45 85.87 279.03 85.57 278.70 85.20 C278.37 84.83 277.03 84.40 275.70 84.00 C274.37 83.60 272.28 83.30 270.70 82.80 C269.12 82.30 267.28 81.63 266.20 81.00 C265.12 80.37 264.65 79.75 264.20 79.00 C263.75 78.25 263.58 77.58 263.50 76.50Z" fill="none" stroke="#000" stroke-width="1.25"/>
<ellipse cx="322.60" cy="60.40" rx="12.4" ry="10.0" transform="rotate(-48 322.60 60.40)" fill="none" stroke="#000" stroke-width="1.25"/>
<rect x="312.0" y="111.6" width="57.0" height="43.900000000000006" fill="#fff" stroke="#a0a0a0" stroke-width="0.7"/>
<circle cx="323.4" cy="116.5" r="1.7" fill="#e2431c"/>
<text x="334.29999999999995" y="118.4" font-size="5.4" text-anchor="start" fill="#111" stroke="#111" stroke-width="0.04">Standard</text>
<circle cx="323.4" cy="123.4" r="1.7" fill="#1a6fd6"/>
<text x="334.29999999999995" y="125.30000000000001" font-size="5.4" text-anchor="start" fill="#111" stroke="#111" stroke-width="0.04">Sine</text>
<circle cx="323.4" cy="130.3" r="1.7" fill="#6aab2b"/>
<text x="334.29999999999995" y="132.20000000000002" font-size="5.4" text-anchor="start" fill="#111" stroke="#111" stroke-width="0.04">Double Sine</text>
<circle cx="323.4" cy="137.2" r="1.7" fill="#7b2a96"/>
<text x="334.29999999999995" y="139.1" font-size="5.4" text-anchor="start" fill="#111" stroke="#111" stroke-width="0.04">Nested Pulse</text>
<circle cx="323.4" cy="144.1" r="1.7" fill="#f0a81e"/>
<text x="334.29999999999995" y="146.0" font-size="5.4" text-anchor="start" fill="#111" stroke="#111" stroke-width="0.04">Poisson</text>
<circle cx="323.4" cy="151.0" r="1.7" fill="#000"/>
<text x="334.29999999999995" y="152.9" font-size="5.4" text-anchor="start" fill="#111" stroke="#111" stroke-width="0.04">Behavior</text>
<path d="M32.5 248.7V387.2H180.4" fill="none" stroke="#a0a0a0" stroke-width="0.8"/>
<path d="M32.5 381.00h1.6" stroke="#a0a0a0" stroke-width="0.7"/>
<text x="30.0" y="383.6" font-size="6.2" text-anchor="end" fill="#1a1a1a" stroke="#1a1a1a" stroke-width="0.08">-1</text>
<path d="M32.5 368.44h1.6" stroke="#a0a0a0" stroke-width="0.7"/>
<text x="30.0" y="371.04" font-size="6.2" text-anchor="end" fill="#1a1a1a" stroke="#1a1a1a" stroke-width="0.08">-0.8</text>
<path d="M32.5 355.88h1.6" stroke="#a0a0a0" stroke-width="0.7"/>
<text x="30.0" y="358.48" font-size="6.2" text-anchor="end" fill="#1a1a1a" stroke="#1a1a1a" stroke-width="0.08">-0.6</text>
<path d="M32.5 343.32h1.6" stroke="#a0a0a0" stroke-width="0.7"/>
<text x="30.0" y="345.92" font-size="6.2" text-anchor="end" fill="#1a1a1a" stroke="#1a1a1a" stroke-width="0.08">-0.4</text>
<path d="M32.5 330.76h1.6" stroke="#a0a0a0" stroke-width="0.7"/>
<text x="30.0" y="333.36" font-size="6.2" text-anchor="end" fill="#1a1a1a" stroke="#1a1a1a" stroke-width="0.08">-0.2</text>
<path d="M32.5 318.20h1.6" stroke="#a0a0a0" stroke-width="0.7"/>
<text x="30.0" y="320.8" font-size="6.2" text-anchor="end" fill="#1a1a1a" stroke="#1a1a1a" stroke-width="0.08">0</text>
<path d="M32.5 305.64h1.6" stroke="#a0a0a0" stroke-width="0.7"/>
<text x="30.0" y="308.24" font-size="6.2" text-anchor="end" fill="#1a1a1a" stroke="#1a1a1a" stroke-width="0.08">0.2</text>
<path d="M32.5 293.08h1.6" stroke="#a0a0a0" stroke-width="0.7"/>
<text x="30.0" y="295.68" font-size="6.2" text-anchor="end" fill="#1a1a1a" stroke="#1a1a1a" stroke-width="0.08">0.4</text>
<path d="M32.5 280.52h1.6" stroke="#a0a0a0" stroke-width="0.7"/>
<text x="30.0" y="283.12" font-size="6.2" text-anchor="end" fill="#1a1a1a" stroke="#1a1a1a" stroke-width="0.08">0.6</text>
<path d="M32.5 267.96h1.6" stroke="#a0a0a0" stroke-width="0.7"/>
<text x="30.0" y="270.56" font-size="6.2" text-anchor="end" fill="#1a1a1a" stroke="#1a1a1a" stroke-width="0.08">0.8</text>
<path d="M32.5 255.40h1.6" stroke="#a0a0a0" stroke-width="0.7"/>
<text x="30.0" y="258.0" font-size="6.2" text-anchor="end" fill="#1a1a1a" stroke="#1a1a1a" stroke-width="0.08">1</text>
<path d="M38.60 387.2v-1.6" stroke="#a0a0a0" stroke-width="0.7"/>
<text x="38.599999999999994" y="395.8" font-size="6.2" text-anchor="middle" fill="#1a1a1a" stroke="#1a1a1a" stroke-width="0.08">-1</text>
<path d="M72.20 387.2v-1.6" stroke="#a0a0a0" stroke-width="0.7"/>
<text x="72.19999999999999" y="395.8" font-size="6.2" text-anchor="middle" fill="#1a1a1a" stroke="#1a1a1a" stroke-width="0.08">-0.5</text>
<path d="M105.80 387.2v-1.6" stroke="#a0a0a0" stroke-width="0.7"/>
<text x="105.8" y="395.8" font-size="6.2" text-anchor="middle" fill="#1a1a1a" stroke="#1a1a1a" stroke-width="0.08">0</text>
<path d="M139.40 387.2v-1.6" stroke="#a0a0a0" stroke-width="0.7"/>
<text x="139.4" y="395.8" font-size="6.2" text-anchor="middle" fill="#1a1a1a" stroke="#1a1a1a" stroke-width="0.08">0.5</text>
<path d="M173.00 387.2v-1.6" stroke="#a0a0a0" stroke-width="0.7"/>
<text x="173.0" y="395.8" font-size="6.2" text-anchor="middle" fill="#1a1a1a" stroke="#1a1a1a" stroke-width="0.08">1</text>
<text x="79.3" y="406.9" font-size="9.9" text-anchor="start" fill="#000" stroke="#000" stroke-width="0.22" textLength="52.6" lengthAdjust="spacingAndGlyphs">Dimension 1</text>
<text x="15.4" y="344.7" font-size="9.9" text-anchor="start" fill="#000" stroke="#000" stroke-width="0.22" transform="rotate(-90 15.4 344.7)" textLength="52.9" lengthAdjust="spacingAndGlyphs">Dimension 2</text>
<text x="55.4" y="246.0" font-size="9.5" text-anchor="start" font-weight="bold" fill="#000" stroke="#000" stroke-width="0.22" textLength="100.7" lengthAdjust="spacingAndGlyphs">Standard vs. Behavior</text>
<path d="M32.90 304.00 C33.15 302.70 33.65 302.53 34.50 302.00 C35.35 301.47 36.58 301.08 38.00 300.80 C39.42 300.52 41.03 300.45 43.00 300.30 C44.97 300.15 47.52 299.90 49.80 299.90 C52.08 299.90 54.42 300.12 56.70 300.30 C58.98 300.48 61.57 300.63 63.50 301.00 C65.43 301.37 66.88 302.45 68.30 302.50 C69.72 302.55 70.83 301.45 72.00 301.30 C73.17 301.15 73.90 301.22 75.30 301.60 C76.70 301.98 78.73 302.57 80.40 303.60 C82.07 304.63 84.15 306.40 85.30 307.80 C86.45 309.20 87.02 310.30 87.30 312.00 C87.58 313.70 87.28 316.17 87.00 318.00 C86.72 319.83 86.00 321.50 85.60 323.00 C85.20 324.50 84.62 325.67 84.60 327.00 C84.58 328.33 84.95 329.65 85.50 331.00 C86.05 332.35 87.05 333.68 87.90 335.10 C88.75 336.52 89.75 338.47 90.60 339.50 C91.45 340.53 92.18 341.15 93.00 341.30 C93.82 341.45 94.55 340.60 95.50 340.40 C96.45 340.20 97.37 339.95 98.70 340.10 C100.03 340.25 102.18 340.57 103.50 341.30 C104.82 342.03 105.93 343.33 106.60 344.50 C107.27 345.67 107.60 346.88 107.50 348.30 C107.40 349.72 106.80 351.67 106.00 353.00 C105.20 354.33 103.95 355.62 102.70 356.30 C101.45 356.98 99.93 357.10 98.50 357.10 C97.07 357.10 95.43 356.95 94.10 356.30 C92.77 355.65 91.75 354.13 90.50 353.20 C89.25 352.27 88.17 351.07 86.60 350.70 C85.03 350.33 83.17 351.15 81.10 351.00 C79.03 350.85 76.25 350.47 74.20 349.80 C72.15 349.13 70.62 347.60 68.80 347.00 C66.98 346.40 65.13 345.98 63.30 346.20 C61.47 346.42 59.63 347.72 57.80 348.30 C55.97 348.88 53.88 349.80 52.30 349.70 C50.72 349.60 49.32 348.73 48.30 347.70 C47.28 346.67 46.52 344.90 46.20 343.50 C45.88 342.10 46.00 340.55 46.40 339.30 C46.80 338.05 47.58 336.92 48.60 336.00 C49.62 335.08 51.73 334.80 52.50 333.80 C53.27 332.80 53.40 331.25 53.20 330.00 C53.00 328.75 52.10 327.70 51.30 326.30 C50.50 324.90 49.78 323.05 48.40 321.60 C47.02 320.15 45.00 318.90 43.00 317.60 C41.00 316.30 38.07 315.10 36.40 313.80 C34.73 312.50 33.58 311.43 33.00 309.80 C32.42 308.17 32.65 305.30 32.90 304.00Z" fill="#f6c0a7" stroke="#a8380f" stroke-width="1.25"/>
<path d="M116.00 267.50 C117.43 267.10 120.62 266.08 122.90 266.20 C125.18 266.32 127.65 267.30 129.70 268.20 C131.75 269.10 133.37 270.92 135.20 271.60 C137.03 272.28 139.45 271.60 140.70 272.30 C141.95 273.00 142.47 274.43 142.70 275.80 C142.93 277.17 142.40 279.02 142.10 280.50 C141.80 281.98 140.80 283.20 140.90 284.70 C141.00 286.20 142.50 287.68 142.70 289.50 C142.90 291.32 142.90 293.90 142.10 295.60 C141.30 297.30 139.50 298.37 137.90 299.70 C136.30 301.03 134.32 302.68 132.50 303.60 C130.68 304.52 128.83 304.50 127.00 305.20 C125.17 305.90 123.10 306.90 121.50 307.80 C119.90 308.70 118.82 309.80 117.40 310.60 C115.98 311.40 114.57 312.17 113.00 312.60 C111.43 313.03 109.58 313.55 108.00 313.20 C106.42 312.85 104.63 311.73 103.50 310.50 C102.37 309.27 101.73 307.37 101.20 305.80 C100.67 304.23 100.97 303.20 100.30 301.10 C99.63 299.00 97.98 295.72 97.20 293.20 C96.42 290.68 95.57 288.22 95.60 286.00 C95.63 283.78 96.50 281.68 97.40 279.90 C98.30 278.12 99.72 276.42 101.00 275.30 C102.28 274.18 103.52 273.83 105.10 273.20 C106.68 272.57 108.97 272.27 110.50 271.50 C112.03 270.73 113.38 269.27 114.30 268.60 C115.22 267.93 114.57 267.90 116.00 267.50Z" fill="#f6c0a7" stroke="#a8380f" stroke-width="1.25"/>
<circle cx="72.0" cy="380.5" r="8.3" fill="#f6c0a7" stroke="#a8380f" stroke-width="1.25"/>
<path d="M119.50 285.80 C120.25 284.83 121.27 283.98 122.30 283.40 C123.33 282.82 124.68 282.37 125.70 282.30 C126.72 282.23 127.60 282.65 128.40 283.00 C129.20 283.35 130.03 283.83 130.50 284.40 C130.97 284.97 131.43 285.60 131.20 286.40 C130.97 287.20 129.78 288.17 129.10 289.20 C128.42 290.23 127.78 291.58 127.10 292.60 C126.42 293.62 125.80 294.95 125.00 295.30 C124.20 295.65 123.33 295.15 122.30 294.70 C121.27 294.25 119.55 293.52 118.80 292.60 C118.05 291.68 117.68 290.33 117.80 289.20 C117.92 288.07 118.75 286.77 119.50 285.80Z" fill="#e58f6a" stroke="#a8380f" stroke-width="0.9"/>
<path d="M43.80 308.90 C44.35 308.62 45.98 308.40 47.10 308.30 C48.22 308.20 49.47 308.48 50.50 308.30 C51.53 308.12 52.47 307.42 53.30 307.20 C54.13 306.98 54.77 306.72 55.50 307.00 C56.23 307.28 56.87 308.30 57.70 308.90 C58.53 309.50 59.48 310.23 60.50 310.60 C61.52 310.97 63.15 310.73 63.80 311.10 C64.45 311.47 64.67 312.15 64.40 312.80 C64.13 313.45 63.22 314.72 62.20 315.00 C61.18 315.28 59.52 314.68 58.30 314.50 C57.08 314.32 55.93 314.18 54.90 313.90 C53.87 313.62 53.02 313.17 52.10 312.80 C51.18 312.43 50.42 312.07 49.40 311.70 C48.38 311.33 46.93 310.88 46.00 310.60 C45.07 310.32 44.17 310.28 43.80 310.00 C43.43 309.72 43.25 309.18 43.80 308.90Z" fill="#e4471c" fill-opacity="1.0"/>
<path d="M38.80 307.50 L41.40 309.00" fill="none" stroke="#e4471c" stroke-width="1.60" stroke-linecap="round" stroke-linejoin="round"/>
<path d="M72.40 313.90 L73.00 317.70 L73.00 321.60 L72.40 325.40 L73.60 329.20 L74.90 333.10 L77.50 336.90 L80.00 340.80 L82.00 344.00" fill="none" stroke="#e4471c" stroke-width="1.30" stroke-dasharray="1.3 1.1"/>
<path d="M68.50 331.80 L67.20 338.20" fill="none" stroke="#e4471c" stroke-width="1.20" stroke-dasharray="1.3 1.1"/>
<path d="M74.20 332.30 L78.00 337.20 L81.80 342.60" fill="none" stroke="#e4471c" stroke-width="1.20" stroke-dasharray="1.3 1.1"/>
<path d="M64.70 326.20 L67.00 327.20 L69.50 329.60" fill="none" stroke="#e4471c" stroke-width="1.50" stroke-linecap="round" stroke-linejoin="round"/>
<path d="M97.80 346.50 L99.60 350.10" fill="none" stroke="#e4471c" stroke-width="1.40" stroke-linecap="round" stroke-linejoin="round"/>
<circle cx="71.50" cy="309.20" r="0.90" fill="#e4471c"/>
<circle cx="73.50" cy="310.20" r="0.90" fill="#e4471c"/>
<circle cx="75.80" cy="312.20" r="0.90" fill="#e4471c"/>
<circle cx="76.50" cy="315.50" r="0.90" fill="#e4471c"/>
<circle cx="78.50" cy="317.20" r="0.90" fill="#e4471c"/>
<circle cx="54.30" cy="341.50" r="0.90" fill="#e4471c"/>
<circle cx="97.50" cy="347.40" r="0.90" fill="#e4471c"/>
<circle cx="67.40" cy="337.80" r="0.90" fill="#e4471c"/>
<circle cx="68.80" cy="335.80" r="0.90" fill="#e4471c"/>
<circle cx="46.00" cy="307.90" r="0.90" fill="#e4471c"/>
<circle cx="64.50" cy="325.80" r="0.90" fill="#e4471c"/>
<circle cx="55.00" cy="341.80" r="0.90" fill="#e4471c"/>
<circle cx="80.60" cy="343.90" r="0.90" fill="#e4471c"/>
<circle cx="98.90" cy="349.70" r="0.90" fill="#e4471c"/>
<circle cx="78.80" cy="339.90" r="0.90" fill="#e4471c"/>
<circle cx="67.10" cy="337.30" r="0.90" fill="#e4471c"/>
<circle cx="72.20" cy="380.20" r="0.90" fill="#e4471c"/>
<circle cx="123.70" cy="273.10" r="0.90" fill="#e4471c"/>
<circle cx="135.70" cy="278.30" r="0.90" fill="#e4471c"/>
<circle cx="113.40" cy="301.10" r="0.90" fill="#e4471c"/>
<circle cx="114.00" cy="300.50" r="0.90" fill="#e4471c"/>
<circle cx="111.90" cy="303.20" r="0.90" fill="#e4471c"/>
<circle cx="110.20" cy="306.70" r="0.90" fill="#e4471c"/>
<circle cx="104.60" cy="287.50" r="0.90" fill="#e4471c"/>
<path d="M58.00 321.70 L60.60 318.60" fill="none" stroke="#e4471c" stroke-width="1.60" stroke-linecap="round" stroke-linejoin="round"/>
<path d="M102.80 290.20 L103.50 288.70" fill="none" stroke="#e4471c" stroke-width="1.40" stroke-linecap="round" stroke-linejoin="round"/>
<path d="M106.00 280.70 L109.20 279.10" fill="none" stroke="#e4471c" stroke-width="1.40" stroke-linecap="round" stroke-linejoin="round"/>
<path d="M107.20 296.50 L108.50 294.00 L110.60 293.00" fill="none" stroke="#e4471c" stroke-width="1.50" stroke-linecap="round" stroke-linejoin="round"/>
<path d="M134.50 294.90 L136.30 292.50" fill="none" stroke="#e4471c" stroke-width="1.50" stroke-linecap="round" stroke-linejoin="round"/>
<path d="M130.90 300.90 L133.80 298.90" fill="none" stroke="#e4471c" stroke-width="1.50" stroke-linecap="round" stroke-linejoin="round"/>
<path d="M120.50 274.20 L124.00 272.90" fill="none" stroke="#e4471c" stroke-width="1.40" stroke-linecap="round" stroke-linejoin="round"/>
<path d="M69.30 303.20 C69.22 302.12 68.97 300.45 69.50 299.20 C70.03 297.95 71.12 296.65 72.50 295.70 C73.88 294.75 76.05 293.80 77.80 293.50 C79.55 293.20 81.33 293.30 83.00 293.90 C84.67 294.50 86.22 296.20 87.80 297.10 C89.38 298.00 90.72 298.65 92.50 299.30 C94.28 299.95 96.53 300.27 98.50 301.00 C100.47 301.73 102.38 302.62 104.30 303.70 C106.22 304.78 108.33 306.12 110.00 307.50 C111.67 308.88 113.30 310.47 114.30 312.00 C115.30 313.53 115.97 315.08 116.00 316.70 C116.03 318.32 115.42 320.25 114.50 321.70 C113.58 323.15 112.17 324.53 110.50 325.40 C108.83 326.27 106.50 326.80 104.50 326.90 C102.50 327.00 100.42 326.57 98.50 326.00 C96.58 325.43 94.50 324.25 93.00 323.50 C91.50 322.75 90.42 321.38 89.50 321.50 C88.58 321.62 88.22 323.28 87.50 324.20 C86.78 325.12 86.20 326.32 85.20 327.00 C84.20 327.68 82.78 328.42 81.50 328.30 C80.22 328.18 78.43 327.52 77.50 326.30 C76.57 325.08 76.00 322.67 75.90 321.00 C75.80 319.33 76.22 317.48 76.90 316.30 C77.58 315.12 78.90 314.47 80.00 313.90 C81.10 313.33 82.75 313.23 83.50 312.90 C84.25 312.57 84.83 312.27 84.50 311.90 C84.17 311.53 82.83 311.10 81.50 310.70 C80.17 310.30 78.08 310.00 76.50 309.50 C74.92 309.00 73.08 308.33 72.00 307.70 C70.92 307.07 70.45 306.45 70.00 305.70 C69.55 304.95 69.38 304.28 69.30 303.20Z" fill="#000" fill-opacity="0.35" stroke="#000" stroke-width="1.1"/>
<path d="M87.50 304.30 L92.30 305.50 L96.00 308.20 L99.00 310.70 L101.50 313.20 L104.50 315.70 L107.50 317.70" fill="none" stroke="#000000" stroke-width="1.58" stroke-linecap="round" stroke-linejoin="round"/>
<ellipse cx="104.60" cy="316.30" rx="4.05" ry="2.47" transform="rotate(36 104.60 316.30)" fill="#000000"/>
<circle cx="86.80" cy="305.30" r="0.83" fill="#000000"/>
<circle cx="89.50" cy="305.30" r="0.83" fill="#000000"/>
<circle cx="74.70" cy="303.70" r="0.83" fill="#000000"/>
<circle cx="77.80" cy="299.50" r="0.83" fill="#000000"/>
<circle cx="80.90" cy="300.00" r="0.83" fill="#000000"/>
<circle cx="82.30" cy="302.00" r="0.83" fill="#000000"/>
<circle cx="82.00" cy="319.20" r="0.83" fill="#000000"/>
<circle cx="84.50" cy="320.30" r="0.83" fill="#000000"/>
<circle cx="82.30" cy="322.50" r="0.83" fill="#000000"/>
<circle cx="97.00" cy="310.70" r="0.83" fill="#000000"/>
<circle cx="98.00" cy="312.70" r="0.83" fill="#000000"/>
<ellipse cx="128.40" cy="287.10" rx="12.4" ry="10.0" transform="rotate(-48 128.40 287.10)" fill="#000" fill-opacity="0.35" stroke="#000" stroke-width="1.1"/>
<rect x="127.5" y="366.6" width="47.80000000000001" height="16.099999999999966" fill="#fff" stroke="#a0a0a0" stroke-width="0.7"/>
<circle cx="139.3" cy="371.4" r="1.7" fill="#e2431c"/>
<text x="150.0" y="373.29999999999995" font-size="5.4" text-anchor="start" fill="#111" stroke="#111" stroke-width="0.04">Standard</text>
<circle cx="139.3" cy="378.59999999999997" r="1.7" fill="#000"/>
<text x="150.0" y="380.49999999999994" font-size="5.4" text-anchor="start" fill="#111" stroke="#111" stroke-width="0.04">Behavior</text>
<path d="M226.7 248.7V387.2H374.6" fill="none" stroke="#a0a0a0" stroke-width="0.8"/>
<path d="M226.7 381.00h1.6" stroke="#a0a0a0" stroke-width="0.7"/>
<text x="224.2" y="383.6" font-size="6.2" text-anchor="end" fill="#1a1a1a" stroke="#1a1a1a" stroke-width="0.08">-1</text>
<path d="M226.7 368.44h1.6" stroke="#a0a0a0" stroke-width="0.7"/>
<text x="224.2" y="371.04" font-size="6.2" text-anchor="end" fill="#1a1a1a" stroke="#1a1a1a" stroke-width="0.08">-0.8</text>
<path d="M226.7 355.88h1.6" stroke="#a0a0a0" stroke-width="0.7"/>
<text x="224.2" y="358.48" font-size="6.2" text-anchor="end" fill="#1a1a1a" stroke="#1a1a1a" stroke-width="0.08">-0.6</text>
<path d="M226.7 343.32h1.6" stroke="#a0a0a0" stroke-width="0.7"/>
<text x="224.2" y="345.92" font-size="6.2" text-anchor="end" fill="#1a1a1a" stroke="#1a1a1a" stroke-width="0.08">-0.4</text>
<path d="M226.7 330.76h1.6" stroke="#a0a0a0" stroke-width="0.7"/>
<text x="224.2" y="333.36" font-size="6.2" text-anchor="end" fill="#1a1a1a" stroke="#1a1a1a" stroke-width="0.08">-0.2</text>
<path d="M226.7 318.20h1.6" stroke="#a0a0a0" stroke-width="0.7"/>
<text x="224.2" y="320.8" font-size="6.2" text-anchor="end" fill="#1a1a1a" stroke="#1a1a1a" stroke-width="0.08">0</text>
<path d="M226.7 305.64h1.6" stroke="#a0a0a0" stroke-width="0.7"/>
<text x="224.2" y="308.24" font-size="6.2" text-anchor="end" fill="#1a1a1a" stroke="#1a1a1a" stroke-width="0.08">0.2</text>
<path d="M226.7 293.08h1.6" stroke="#a0a0a0" stroke-width="0.7"/>
<text x="224.2" y="295.68" font-size="6.2" text-anchor="end" fill="#1a1a1a" stroke="#1a1a1a" stroke-width="0.08">0.4</text>
<path d="M226.7 280.52h1.6" stroke="#a0a0a0" stroke-width="0.7"/>
<text x="224.2" y="283.12" font-size="6.2" text-anchor="end" fill="#1a1a1a" stroke="#1a1a1a" stroke-width="0.08">0.6</text>
<path d="M226.7 267.96h1.6" stroke="#a0a0a0" stroke-width="0.7"/>
<text x="224.2" y="270.56" font-size="6.2" text-anchor="end" fill="#1a1a1a" stroke="#1a1a1a" stroke-width="0.08">0.8</text>
<path d="M226.7 255.40h1.6" stroke="#a0a0a0" stroke-width="0.7"/>
<text x="224.2" y="258.0" font-size="6.2" text-anchor="end" fill="#1a1a1a" stroke="#1a1a1a" stroke-width="0.08">1</text>
<path d="M232.80 387.2v-1.6" stroke="#a0a0a0" stroke-width="0.7"/>
<text x="232.8" y="395.8" font-size="6.2" text-anchor="middle" fill="#1a1a1a" stroke="#1a1a1a" stroke-width="0.08">-1</text>
<path d="M266.40 387.2v-1.6" stroke="#a0a0a0" stroke-width="0.7"/>
<text x="266.4" y="395.8" font-size="6.2" text-anchor="middle" fill="#1a1a1a" stroke="#1a1a1a" stroke-width="0.08">-0.5</text>
<path d="M300.00 387.2v-1.6" stroke="#a0a0a0" stroke-width="0.7"/>
<text x="300.0" y="395.8" font-size="6.2" text-anchor="middle" fill="#1a1a1a" stroke="#1a1a1a" stroke-width="0.08">0</text>
<path d="M333.60 387.2v-1.6" stroke="#a0a0a0" stroke-width="0.7"/>
<text x="333.6" y="395.8" font-size="6.2" text-anchor="middle" fill="#1a1a1a" stroke="#1a1a1a" stroke-width="0.08">0.5</text>
<path d="M367.20 387.2v-1.6" stroke="#a0a0a0" stroke-width="0.7"/>
<text x="367.2" y="395.8" font-size="6.2" text-anchor="middle" fill="#1a1a1a" stroke="#1a1a1a" stroke-width="0.08">1</text>
<text x="273.5" y="406.9" font-size="9.9" text-anchor="start" fill="#000" stroke="#000" stroke-width="0.22" textLength="52.6" lengthAdjust="spacingAndGlyphs">Dimension 1</text>
<text x="209.6" y="344.7" font-size="9.9" text-anchor="start" fill="#000" stroke="#000" stroke-width="0.22" transform="rotate(-90 209.6 344.7)" textLength="52.9" lengthAdjust="spacingAndGlyphs">Dimension 2</text>
<text x="240.4" y="246.0" font-size="9.5" text-anchor="start" font-weight="bold" fill="#000" stroke="#000" stroke-width="0.22" textLength="119.5" lengthAdjust="spacingAndGlyphs">Nested Pulse vs. Behavior</text>
<path d="M306.40 265.30 C307.75 264.50 310.07 263.93 311.90 263.90 C313.73 263.87 315.88 264.33 317.40 265.10 C318.92 265.87 320.18 267.23 321.00 268.50 C321.82 269.77 322.02 271.58 322.30 272.70 C322.58 273.82 321.88 274.62 322.70 275.20 C323.52 275.78 325.70 275.45 327.20 276.20 C328.70 276.95 330.57 278.28 331.70 279.70 C332.83 281.12 333.65 283.03 334.00 284.70 C334.35 286.37 334.18 288.12 333.80 289.70 C333.42 291.28 332.17 292.87 331.70 294.20 C331.23 295.53 330.98 296.22 331.00 297.70 C331.02 299.18 332.02 301.07 331.80 303.10 C331.58 305.13 330.88 308.00 329.70 309.90 C328.52 311.80 326.53 313.42 324.70 314.50 C322.87 315.58 320.70 315.90 318.70 316.40 C316.70 316.90 314.12 316.70 312.70 317.50 C311.28 318.30 310.90 319.75 310.20 321.20 C309.50 322.65 308.75 324.62 308.50 326.20 C308.25 327.78 308.37 329.18 308.70 330.70 C309.03 332.22 310.15 333.58 310.50 335.30 C310.85 337.02 311.32 339.28 310.80 341.00 C310.28 342.72 308.98 344.60 307.40 345.60 C305.82 346.60 303.27 347.35 301.30 347.00 C299.33 346.65 297.30 344.83 295.60 343.50 C293.90 342.17 293.18 340.13 291.10 339.00 C289.02 337.87 285.95 337.47 283.10 336.70 C280.25 335.93 276.28 335.57 274.00 334.40 C271.72 333.23 270.37 331.12 269.40 329.70 C268.43 328.28 268.40 327.43 268.20 325.90 C268.00 324.37 268.13 322.30 268.20 320.50 C268.27 318.70 268.87 316.67 268.60 315.10 C268.33 313.53 267.40 312.75 266.60 311.10 C265.80 309.45 264.23 307.38 263.80 305.20 C263.37 303.02 263.47 300.03 264.00 298.00 C264.53 295.97 265.88 294.05 267.00 293.00 C268.12 291.95 269.28 292.00 270.70 291.70 C272.12 291.40 273.55 291.28 275.50 291.20 C277.45 291.12 280.33 290.87 282.40 291.20 C284.47 291.53 286.30 292.53 287.90 293.20 C289.50 293.87 290.85 295.12 292.00 295.20 C293.15 295.28 294.12 294.78 294.80 293.70 C295.48 292.62 295.65 290.32 296.10 288.70 C296.55 287.08 296.60 285.37 297.50 284.00 C298.40 282.63 300.50 281.52 301.50 280.50 C302.50 279.48 303.23 278.97 303.50 277.90 C303.77 276.83 303.05 275.63 303.10 274.10 C303.15 272.57 303.25 270.17 303.80 268.70 C304.35 267.23 305.05 266.10 306.40 265.30Z" fill="#dcbfe4" stroke="#6c1f86" stroke-width="1.1"/>
<circle cx="284.42" cy="307.40" r="1.05" fill="#7a2b95"/>
<circle cx="291.19" cy="321.11" r="1.05" fill="#7a2b95"/>
<circle cx="286.67" cy="307.40" r="1.05" fill="#7a2b95"/>
<circle cx="288.33" cy="322.88" r="1.05" fill="#7a2b95"/>
<circle cx="293.73" cy="315.45" r="1.05" fill="#7a2b95"/>
<circle cx="287.73" cy="312.63" r="1.05" fill="#7a2b95"/>
<circle cx="290.70" cy="327.62" r="1.05" fill="#7a2b95"/>
<circle cx="287.94" cy="309.91" r="1.05" fill="#7a2b95"/>
<circle cx="294.61" cy="317.84" r="1.05" fill="#7a2b95"/>
<circle cx="290.53" cy="309.59" r="1.05" fill="#7a2b95"/>
<circle cx="299.66" cy="320.33" r="1.05" fill="#7a2b95"/>
<circle cx="288.09" cy="323.82" r="1.05" fill="#7a2b95"/>
<circle cx="290.15" cy="314.21" r="1.05" fill="#7a2b95"/>
<circle cx="295.71" cy="324.77" r="1.05" fill="#7a2b95"/>
<circle cx="289.65" cy="308.93" r="1.05" fill="#7a2b95"/>
<circle cx="295.30" cy="317.80" r="1.05" fill="#7a2b95"/>
<circle cx="294.90" cy="321.39" r="1.05" fill="#7a2b95"/>
<circle cx="285.90" cy="314.28" r="1.05" fill="#7a2b95"/>
<circle cx="300.40" cy="320.28" r="1.05" fill="#7a2b95"/>
<circle cx="292.30" cy="323.91" r="1.05" fill="#7a2b95"/>
<circle cx="292.12" cy="323.63" r="1.05" fill="#7a2b95"/>
<circle cx="286.32" cy="309.36" r="1.05" fill="#7a2b95"/>
<circle cx="290.17" cy="321.82" r="1.05" fill="#7a2b95"/>
<circle cx="293.07" cy="323.62" r="1.05" fill="#7a2b95"/>
<circle cx="289.15" cy="313.64" r="1.05" fill="#7a2b95"/>
<circle cx="295.11" cy="319.97" r="1.05" fill="#7a2b95"/>
<circle cx="284.88" cy="307.39" r="1.05" fill="#7a2b95"/>
<circle cx="290.88" cy="311.48" r="1.05" fill="#7a2b95"/>
<circle cx="287.88" cy="309.34" r="1.05" fill="#7a2b95"/>
<circle cx="287.47" cy="315.62" r="1.05" fill="#7a2b95"/>
<circle cx="296.57" cy="317.29" r="1.05" fill="#7a2b95"/>
<circle cx="293.53" cy="321.91" r="1.05" fill="#7a2b95"/>
<circle cx="292.42" cy="321.91" r="1.05" fill="#7a2b95"/>
<circle cx="296.48" cy="318.61" r="1.05" fill="#7a2b95"/>
<circle cx="286.31" cy="314.90" r="1.05" fill="#7a2b95"/>
<circle cx="286.70" cy="313.84" r="1.05" fill="#7a2b95"/>
<circle cx="289.67" cy="314.91" r="1.05" fill="#7a2b95"/>
<circle cx="296.86" cy="317.70" r="1.05" fill="#7a2b95"/>
<circle cx="288.52" cy="323.39" r="1.05" fill="#7a2b95"/>
<circle cx="297.28" cy="324.55" r="1.05" fill="#7a2b95"/>
<circle cx="287.80" cy="324.23" r="1.05" fill="#7a2b95"/>
<circle cx="290.68" cy="314.33" r="1.05" fill="#7a2b95"/>
<circle cx="287.73" cy="309.85" r="1.05" fill="#7a2b95"/>
<circle cx="290.35" cy="321.45" r="1.05" fill="#7a2b95"/>
<circle cx="290.75" cy="323.21" r="1.05" fill="#7a2b95"/>
<circle cx="285.37" cy="310.68" r="1.05" fill="#7a2b95"/>
<circle cx="295.32" cy="316.21" r="1.05" fill="#7a2b95"/>
<circle cx="293.10" cy="327.15" r="1.05" fill="#7a2b95"/>
<circle cx="289.14" cy="309.06" r="1.05" fill="#7a2b95"/>
<circle cx="289.49" cy="316.07" r="1.05" fill="#7a2b95"/>
<circle cx="290.96" cy="322.88" r="1.05" fill="#7a2b95"/>
<circle cx="289.55" cy="326.60" r="1.05" fill="#7a2b95"/>
<circle cx="294.51" cy="314.38" r="1.05" fill="#7a2b95"/>
<circle cx="294.97" cy="325.02" r="1.05" fill="#7a2b95"/>
<circle cx="287.54" cy="313.66" r="1.05" fill="#7a2b95"/>
<circle cx="293.86" cy="327.29" r="1.05" fill="#7a2b95"/>
<circle cx="296.19" cy="317.16" r="1.05" fill="#7a2b95"/>
<circle cx="291.10" cy="320.95" r="1.05" fill="#7a2b95"/>
<circle cx="291.51" cy="324.46" r="1.05" fill="#7a2b95"/>
<circle cx="288.51" cy="321.64" r="1.05" fill="#7a2b95"/>
<circle cx="285.30" cy="310.66" r="1.05" fill="#7a2b95"/>
<circle cx="286.70" cy="305.84" r="1.05" fill="#7a2b95"/>
<circle cx="291.48" cy="317.62" r="1.05" fill="#7a2b95"/>
<circle cx="292.03" cy="316.22" r="1.05" fill="#7a2b95"/>
<circle cx="292.71" cy="321.16" r="1.05" fill="#7a2b95"/>
<circle cx="300.23" cy="324.55" r="1.05" fill="#7a2b95"/>
<circle cx="287.20" cy="306.85" r="1.05" fill="#7a2b95"/>
<circle cx="294.33" cy="326.53" r="1.05" fill="#7a2b95"/>
<circle cx="289.94" cy="314.04" r="1.05" fill="#7a2b95"/>
<circle cx="291.64" cy="327.37" r="1.05" fill="#7a2b95"/>
<circle cx="296.38" cy="324.83" r="1.05" fill="#7a2b95"/>
<circle cx="292.23" cy="314.34" r="1.05" fill="#7a2b95"/>
<circle cx="298.74" cy="322.35" r="1.05" fill="#7a2b95"/>
<circle cx="300.41" cy="322.42" r="1.05" fill="#7a2b95"/>
<circle cx="294.10" cy="323.53" r="1.05" fill="#7a2b95"/>
<circle cx="294.62" cy="325.61" r="1.05" fill="#7a2b95"/>
<circle cx="290.98" cy="310.19" r="1.05" fill="#7a2b95"/>
<circle cx="291.70" cy="312.22" r="1.05" fill="#7a2b95"/>
<circle cx="289.05" cy="315.27" r="1.05" fill="#7a2b95"/>
<circle cx="287.52" cy="310.13" r="1.05" fill="#7a2b95"/>
<circle cx="288.93" cy="323.41" r="1.05" fill="#7a2b95"/>
<circle cx="293.85" cy="316.36" r="1.05" fill="#7a2b95"/>
<circle cx="290.47" cy="321.29" r="1.05" fill="#7a2b95"/>
<circle cx="299.27" cy="317.88" r="1.05" fill="#7a2b95"/>
<circle cx="296.79" cy="319.35" r="1.05" fill="#7a2b95"/>
<circle cx="294.02" cy="318.91" r="1.05" fill="#7a2b95"/>
<circle cx="293.90" cy="323.58" r="1.05" fill="#7a2b95"/>
<circle cx="294.78" cy="317.72" r="1.05" fill="#7a2b95"/>
<circle cx="293.71" cy="324.32" r="1.05" fill="#7a2b95"/>
<circle cx="291.13" cy="326.24" r="1.05" fill="#7a2b95"/>
<circle cx="293.10" cy="320.62" r="1.05" fill="#7a2b95"/>
<circle cx="287.54" cy="307.97" r="1.05" fill="#7a2b95"/>
<circle cx="296.80" cy="322.41" r="1.05" fill="#7a2b95"/>
<circle cx="299.47" cy="323.58" r="1.05" fill="#7a2b95"/>
<circle cx="287.20" cy="307.05" r="1.05" fill="#7a2b95"/>
<circle cx="298.64" cy="325.05" r="1.05" fill="#7a2b95"/>
<circle cx="290.39" cy="309.02" r="1.05" fill="#7a2b95"/>
<circle cx="289.50" cy="324.41" r="1.05" fill="#7a2b95"/>
<circle cx="284.85" cy="306.48" r="1.05" fill="#7a2b95"/>
<circle cx="299.54" cy="321.62" r="1.05" fill="#7a2b95"/>
<circle cx="288.64" cy="325.58" r="1.05" fill="#7a2b95"/>
<circle cx="294.99" cy="326.86" r="1.05" fill="#7a2b95"/>
<circle cx="290.59" cy="314.61" r="1.05" fill="#7a2b95"/>
<circle cx="296.98" cy="325.88" r="1.05" fill="#7a2b95"/>
<circle cx="287.15" cy="311.02" r="1.05" fill="#7a2b95"/>
<circle cx="300.64" cy="318.33" r="1.05" fill="#7a2b95"/>
<circle cx="300.47" cy="320.54" r="1.05" fill="#7a2b95"/>
<circle cx="292.93" cy="312.96" r="1.05" fill="#7a2b95"/>
<circle cx="287.06" cy="315.93" r="1.05" fill="#7a2b95"/>
<circle cx="290.71" cy="310.29" r="1.05" fill="#7a2b95"/>
<circle cx="295.71" cy="320.58" r="1.05" fill="#7a2b95"/>
<circle cx="292.49" cy="321.89" r="1.05" fill="#7a2b95"/>
<circle cx="290.88" cy="315.10" r="1.05" fill="#7a2b95"/>
<circle cx="294.29" cy="328.25" r="1.05" fill="#7a2b95"/>
<circle cx="290.19" cy="324.02" r="1.05" fill="#7a2b95"/>
<circle cx="294.66" cy="321.04" r="1.05" fill="#7a2b95"/>
<circle cx="293.98" cy="323.12" r="1.05" fill="#7a2b95"/>
<circle cx="294.93" cy="314.10" r="1.05" fill="#7a2b95"/>
<circle cx="296.39" cy="327.67" r="1.05" fill="#7a2b95"/>
<circle cx="296.57" cy="319.70" r="1.05" fill="#7a2b95"/>
<circle cx="291.30" cy="315.86" r="1.05" fill="#7a2b95"/>
<circle cx="294.10" cy="315.40" r="1.05" fill="#7a2b95"/>
<circle cx="296.26" cy="323.25" r="1.05" fill="#7a2b95"/>
<circle cx="290.25" cy="327.50" r="1.05" fill="#7a2b95"/>
<circle cx="296.14" cy="316.38" r="1.05" fill="#7a2b95"/>
<circle cx="289.62" cy="315.25" r="1.05" fill="#7a2b95"/>
<circle cx="288.71" cy="321.72" r="1.05" fill="#7a2b95"/>
<circle cx="285.75" cy="306.48" r="1.05" fill="#7a2b95"/>
<circle cx="286.59" cy="313.74" r="1.05" fill="#7a2b95"/>
<circle cx="285.07" cy="308.66" r="1.05" fill="#7a2b95"/>
<circle cx="293.81" cy="325.91" r="1.05" fill="#7a2b95"/>
<circle cx="288.19" cy="316.00" r="1.05" fill="#7a2b95"/>
<circle cx="293.50" cy="324.50" r="1.05" fill="#7a2b95"/>
<circle cx="298.72" cy="321.42" r="1.05" fill="#7a2b95"/>
<circle cx="300.55" cy="318.41" r="1.05" fill="#7a2b95"/>
<circle cx="294.93" cy="325.65" r="1.05" fill="#7a2b95"/>
<circle cx="288.71" cy="312.94" r="1.05" fill="#7a2b95"/>
<circle cx="298.34" cy="320.57" r="1.05" fill="#7a2b95"/>
<circle cx="294.95" cy="314.18" r="1.05" fill="#7a2b95"/>
<circle cx="290.46" cy="313.93" r="1.05" fill="#7a2b95"/>
<circle cx="300.39" cy="324.26" r="1.05" fill="#7a2b95"/>
<circle cx="288.63" cy="316.67" r="1.05" fill="#7a2b95"/>
<circle cx="290.54" cy="318.78" r="1.05" fill="#7a2b95"/>
<circle cx="289.33" cy="325.54" r="1.05" fill="#7a2b95"/>
<circle cx="295.39" cy="314.87" r="1.05" fill="#7a2b95"/>
<circle cx="289.86" cy="321.59" r="1.05" fill="#7a2b95"/>
<circle cx="288.72" cy="308.10" r="1.05" fill="#7a2b95"/>
<circle cx="298.37" cy="325.98" r="1.05" fill="#7a2b95"/>
<circle cx="298.57" cy="318.11" r="1.05" fill="#7a2b95"/>
<circle cx="296.97" cy="325.41" r="1.05" fill="#7a2b95"/>
<circle cx="290.53" cy="322.30" r="1.05" fill="#7a2b95"/>
<circle cx="290.18" cy="323.03" r="1.05" fill="#7a2b95"/>
<circle cx="291.95" cy="318.87" r="1.05" fill="#7a2b95"/>
<circle cx="295.39" cy="324.42" r="1.05" fill="#7a2b95"/>
<circle cx="292.04" cy="318.20" r="1.05" fill="#7a2b95"/>
<circle cx="289.67" cy="326.79" r="1.05" fill="#7a2b95"/>
<circle cx="290.82" cy="327.53" r="1.05" fill="#7a2b95"/>
<circle cx="289.68" cy="314.46" r="1.05" fill="#7a2b95"/>
<circle cx="296.75" cy="316.06" r="1.05" fill="#7a2b95"/>
<circle cx="295.10" cy="322.51" r="1.05" fill="#7a2b95"/>
<circle cx="298.95" cy="322.54" r="1.05" fill="#7a2b95"/>
<circle cx="288.24" cy="306.72" r="1.05" fill="#7a2b95"/>
<circle cx="287.64" cy="306.85" r="1.05" fill="#7a2b95"/>
<circle cx="288.72" cy="309.18" r="1.05" fill="#7a2b95"/>
<circle cx="290.03" cy="322.18" r="1.05" fill="#7a2b95"/>
<circle cx="293.29" cy="322.02" r="1.05" fill="#7a2b95"/>
<circle cx="287.73" cy="311.54" r="1.05" fill="#7a2b95"/>
<circle cx="295.61" cy="323.27" r="1.05" fill="#7a2b95"/>
<circle cx="292.02" cy="322.26" r="1.05" fill="#7a2b95"/>
<circle cx="294.15" cy="325.15" r="1.05" fill="#7a2b95"/>
<circle cx="283.22" cy="317.58" r="1.00" fill="#7a2b95"/>
<circle cx="286.84" cy="319.38" r="1.00" fill="#7a2b95"/>
<circle cx="283.81" cy="308.25" r="1.00" fill="#7a2b95"/>
<circle cx="299.62" cy="315.54" r="1.00" fill="#7a2b95"/>
<circle cx="294.10" cy="327.33" r="1.00" fill="#7a2b95"/>
<circle cx="291.04" cy="323.51" r="1.00" fill="#7a2b95"/>
<circle cx="297.48" cy="318.99" r="1.00" fill="#7a2b95"/>
<circle cx="300.42" cy="315.43" r="1.00" fill="#7a2b95"/>
<circle cx="296.40" cy="327.65" r="1.00" fill="#7a2b95"/>
<circle cx="296.27" cy="328.93" r="1.00" fill="#7a2b95"/>
<circle cx="287.52" cy="325.31" r="1.00" fill="#7a2b95"/>
<circle cx="288.88" cy="329.36" r="1.00" fill="#7a2b95"/>
<circle cx="280.43" cy="307.73" r="1.00" fill="#7a2b95"/>
<circle cx="290.60" cy="312.81" r="1.00" fill="#7a2b95"/>
<circle cx="286.31" cy="318.81" r="1.00" fill="#7a2b95"/>
<circle cx="292.71" cy="328.42" r="1.00" fill="#7a2b95"/>
<circle cx="295.39" cy="329.16" r="1.00" fill="#7a2b95"/>
<circle cx="301.49" cy="318.33" r="1.00" fill="#7a2b95"/>
<circle cx="299.49" cy="318.46" r="1.00" fill="#7a2b95"/>
<circle cx="284.51" cy="303.11" r="1.00" fill="#7a2b95"/>
<circle cx="287.95" cy="305.74" r="1.00" fill="#7a2b95"/>
<circle cx="284.75" cy="324.34" r="1.00" fill="#7a2b95"/>
<circle cx="290.55" cy="331.26" r="1.00" fill="#7a2b95"/>
<circle cx="285.18" cy="303.52" r="1.00" fill="#7a2b95"/>
<circle cx="282.11" cy="313.48" r="1.00" fill="#7a2b95"/>
<circle cx="289.32" cy="316.85" r="1.00" fill="#7a2b95"/>
<circle cx="294.34" cy="319.13" r="1.00" fill="#7a2b95"/>
<circle cx="292.02" cy="319.87" r="1.00" fill="#7a2b95"/>
<circle cx="302.47" cy="316.46" r="1.00" fill="#7a2b95"/>
<circle cx="288.51" cy="322.88" r="1.00" fill="#7a2b95"/>
<circle cx="283.21" cy="310.26" r="1.00" fill="#7a2b95"/>
<circle cx="288.08" cy="318.66" r="1.00" fill="#7a2b95"/>
<circle cx="293.89" cy="315.23" r="1.00" fill="#7a2b95"/>
<circle cx="295.31" cy="311.81" r="1.00" fill="#7a2b95"/>
<circle cx="296.07" cy="323.41" r="1.00" fill="#7a2b95"/>
<circle cx="277.31" cy="303.02" r="1.00" fill="#7a2b95"/>
<circle cx="295.22" cy="330.20" r="1.00" fill="#7a2b95"/>
<circle cx="283.58" cy="314.93" r="1.00" fill="#7a2b95"/>
<circle cx="292.94" cy="310.83" r="1.00" fill="#7a2b95"/>
<circle cx="286.67" cy="310.61" r="1.00" fill="#7a2b95"/>
<circle cx="286.81" cy="319.13" r="1.00" fill="#7a2b95"/>
<circle cx="284.93" cy="312.55" r="1.00" fill="#7a2b95"/>
<circle cx="292.30" cy="323.33" r="1.00" fill="#7a2b95"/>
<circle cx="285.19" cy="307.90" r="1.00" fill="#7a2b95"/>
<circle cx="281.83" cy="314.30" r="1.00" fill="#7a2b95"/>
<circle cx="285.52" cy="311.25" r="1.00" fill="#7a2b95"/>
<circle cx="299.54" cy="314.40" r="1.00" fill="#7a2b95"/>
<circle cx="285.93" cy="320.77" r="1.00" fill="#7a2b95"/>
<circle cx="282.87" cy="304.84" r="1.00" fill="#7a2b95"/>
<circle cx="298.81" cy="326.44" r="1.00" fill="#7a2b95"/>
<circle cx="281.73" cy="309.59" r="1.00" fill="#7a2b95"/>
<circle cx="298.82" cy="320.52" r="1.00" fill="#7a2b95"/>
<circle cx="280.25" cy="309.99" r="1.00" fill="#7a2b95"/>
<circle cx="286.19" cy="313.75" r="1.00" fill="#7a2b95"/>
<circle cx="288.20" cy="313.53" r="1.00" fill="#7a2b95"/>
<circle cx="288.60" cy="329.80" r="1.00" fill="#7a2b95"/>
<circle cx="297.13" cy="326.38" r="1.00" fill="#7a2b95"/>
<circle cx="294.87" cy="316.82" r="1.00" fill="#7a2b95"/>
<circle cx="284.62" cy="311.47" r="1.00" fill="#7a2b95"/>
<circle cx="282.93" cy="303.25" r="1.00" fill="#7a2b95"/>
<circle cx="292.83" cy="309.84" r="1.00" fill="#7a2b95"/>
<circle cx="301.46" cy="322.08" r="1.00" fill="#7a2b95"/>
<circle cx="301.35" cy="318.57" r="1.00" fill="#7a2b95"/>
<circle cx="281.41" cy="310.23" r="1.00" fill="#7a2b95"/>
<circle cx="294.86" cy="317.00" r="1.00" fill="#7a2b95"/>
<circle cx="288.04" cy="329.47" r="1.00" fill="#7a2b95"/>
<circle cx="293.47" cy="311.47" r="1.00" fill="#7a2b95"/>
<circle cx="283.62" cy="327.14" r="1.00" fill="#7a2b95"/>
<circle cx="289.78" cy="324.75" r="1.00" fill="#7a2b95"/>
<circle cx="286.34" cy="307.14" r="1.00" fill="#7a2b95"/>
<circle cx="291.35" cy="325.79" r="1.00" fill="#7a2b95"/>
<circle cx="281.39" cy="325.03" r="1.00" fill="#7a2b95"/>
<circle cx="293.92" cy="327.16" r="1.00" fill="#7a2b95"/>
<circle cx="278.07" cy="309.37" r="1.00" fill="#7a2b95"/>
<circle cx="284.06" cy="317.07" r="1.00" fill="#7a2b95"/>
<circle cx="288.29" cy="315.43" r="1.00" fill="#7a2b95"/>
<circle cx="278.20" cy="305.02" r="1.00" fill="#7a2b95"/>
<circle cx="280.11" cy="303.26" r="1.00" fill="#7a2b95"/>
<circle cx="279.06" cy="316.31" r="1.00" fill="#7a2b95"/>
<circle cx="285.36" cy="310.67" r="1.00" fill="#7a2b95"/>
<circle cx="286.33" cy="320.67" r="1.00" fill="#7a2b95"/>
<circle cx="292.77" cy="312.06" r="1.00" fill="#7a2b95"/>
<circle cx="281.94" cy="311.10" r="1.00" fill="#7a2b95"/>
<circle cx="280.09" cy="317.92" r="1.00" fill="#7a2b95"/>
<circle cx="296.32" cy="312.65" r="1.00" fill="#7a2b95"/>
<circle cx="278.89" cy="306.57" r="1.00" fill="#7a2b95"/>
<circle cx="286.93" cy="319.39" r="1.00" fill="#7a2b95"/>
<circle cx="298.65" cy="319.95" r="1.00" fill="#7a2b95"/>
<circle cx="288.53" cy="312.41" r="1.00" fill="#7a2b95"/>
<circle cx="290.29" cy="322.36" r="1.00" fill="#7a2b95"/>
<circle cx="288.22" cy="322.09" r="1.00" fill="#7a2b95"/>
<circle cx="289.33" cy="308.58" r="1.00" fill="#7a2b95"/>
<circle cx="291.38" cy="322.12" r="1.00" fill="#7a2b95"/>
<circle cx="278.66" cy="313.99" r="1.00" fill="#7a2b95"/>
<circle cx="288.37" cy="327.68" r="1.00" fill="#7a2b95"/>
<circle cx="301.30" cy="325.01" r="1.00" fill="#7a2b95"/>
<circle cx="283.88" cy="315.17" r="1.00" fill="#7a2b95"/>
<circle cx="294.85" cy="327.91" r="1.00" fill="#7a2b95"/>
<circle cx="298.41" cy="321.29" r="1.00" fill="#7a2b95"/>
<circle cx="296.80" cy="318.17" r="1.00" fill="#7a2b95"/>
<circle cx="279.53" cy="318.89" r="1.00" fill="#7a2b95"/>
<circle cx="276.83" cy="305.52" r="1.00" fill="#7a2b95"/>
<circle cx="279.22" cy="304.19" r="1.00" fill="#7a2b95"/>
<circle cx="295.15" cy="326.37" r="1.00" fill="#7a2b95"/>
<circle cx="302.80" cy="318.63" r="1.00" fill="#7a2b95"/>
<circle cx="297.73" cy="316.59" r="1.00" fill="#7a2b95"/>
<circle cx="297.22" cy="329.33" r="1.00" fill="#7a2b95"/>
<circle cx="278.38" cy="310.96" r="1.00" fill="#7a2b95"/>
<circle cx="292.15" cy="326.12" r="1.00" fill="#7a2b95"/>
<circle cx="283.33" cy="306.61" r="1.00" fill="#7a2b95"/>
<circle cx="283.55" cy="319.74" r="1.00" fill="#7a2b95"/>
<circle cx="297.35" cy="313.05" r="1.00" fill="#7a2b95"/>
<circle cx="286.77" cy="313.14" r="1.00" fill="#7a2b95"/>
<circle cx="286.30" cy="313.79" r="1.00" fill="#7a2b95"/>
<circle cx="278.98" cy="316.26" r="1.00" fill="#7a2b95"/>
<circle cx="295.63" cy="323.96" r="1.00" fill="#7a2b95"/>
<circle cx="295.16" cy="316.76" r="1.00" fill="#7a2b95"/>
<circle cx="289.95" cy="320.55" r="1.00" fill="#7a2b95"/>
<circle cx="279.33" cy="323.72" r="1.00" fill="#7a2b95"/>
<circle cx="301.82" cy="316.77" r="1.00" fill="#7a2b95"/>
<circle cx="288.84" cy="322.84" r="1.00" fill="#7a2b95"/>
<circle cx="281.80" cy="309.25" r="1.00" fill="#7a2b95"/>
<circle cx="282.16" cy="318.83" r="1.00" fill="#7a2b95"/>
<circle cx="285.33" cy="308.19" r="1.00" fill="#7a2b95"/>
<circle cx="295.64" cy="329.90" r="1.00" fill="#7a2b95"/>
<circle cx="284.81" cy="322.43" r="1.00" fill="#7a2b95"/>
<circle cx="288.02" cy="326.89" r="1.00" fill="#7a2b95"/>
<circle cx="282.66" cy="301.90" r="1.00" fill="#7a2b95"/>
<circle cx="289.84" cy="312.72" r="1.00" fill="#7a2b95"/>
<circle cx="281.42" cy="312.05" r="1.00" fill="#7a2b95"/>
<circle cx="285.52" cy="324.50" r="1.00" fill="#7a2b95"/>
<circle cx="289.84" cy="319.23" r="1.00" fill="#7a2b95"/>
<circle cx="289.52" cy="326.32" r="1.00" fill="#7a2b95"/>
<circle cx="299.21" cy="317.97" r="1.00" fill="#7a2b95"/>
<circle cx="289.89" cy="322.89" r="1.00" fill="#7a2b95"/>
<circle cx="289.51" cy="308.11" r="1.00" fill="#7a2b95"/>
<circle cx="283.13" cy="322.80" r="1.00" fill="#7a2b95"/>
<circle cx="295.20" cy="330.06" r="1.00" fill="#7a2b95"/>
<circle cx="281.90" cy="308.98" r="1.00" fill="#7a2b95"/>
<circle cx="281.83" cy="322.41" r="1.00" fill="#7a2b95"/>
<circle cx="283.69" cy="327.24" r="1.00" fill="#7a2b95"/>
<circle cx="285.29" cy="313.94" r="1.00" fill="#7a2b95"/>
<circle cx="284.69" cy="311.94" r="1.00" fill="#7a2b95"/>
<circle cx="292.60" cy="321.53" r="1.00" fill="#7a2b95"/>
<circle cx="276.89" cy="311.28" r="1.00" fill="#7a2b95"/>
<circle cx="288.65" cy="315.83" r="1.00" fill="#7a2b95"/>
<circle cx="282.46" cy="318.81" r="1.00" fill="#7a2b95"/>
<circle cx="284.23" cy="321.23" r="1.00" fill="#7a2b95"/>
<circle cx="297.86" cy="324.00" r="1.00" fill="#7a2b95"/>
<circle cx="284.80" cy="321.54" r="1.00" fill="#7a2b95"/>
<circle cx="294.62" cy="325.46" r="1.00" fill="#7a2b95"/>
<circle cx="283.98" cy="323.90" r="1.00" fill="#7a2b95"/>
<circle cx="303.04" cy="321.45" r="1.00" fill="#7a2b95"/>
<circle cx="290.23" cy="311.80" r="1.00" fill="#7a2b95"/>
<circle cx="296.38" cy="321.62" r="1.00" fill="#7a2b95"/>
<circle cx="294.39" cy="320.19" r="1.00" fill="#7a2b95"/>
<circle cx="285.78" cy="322.89" r="1.00" fill="#7a2b95"/>
<circle cx="293.07" cy="317.90" r="1.00" fill="#7a2b95"/>
<circle cx="294.44" cy="314.98" r="1.00" fill="#7a2b95"/>
<circle cx="285.26" cy="306.51" r="1.00" fill="#7a2b95"/>
<circle cx="297.37" cy="317.55" r="1.00" fill="#7a2b95"/>
<circle cx="283.98" cy="312.74" r="1.00" fill="#7a2b95"/>
<circle cx="290.53" cy="308.64" r="1.00" fill="#7a2b95"/>
<circle cx="285.82" cy="313.34" r="1.00" fill="#7a2b95"/>
<circle cx="291.54" cy="324.43" r="1.00" fill="#7a2b95"/>
<circle cx="286.37" cy="326.69" r="1.00" fill="#7a2b95"/>
<circle cx="279.77" cy="309.34" r="1.00" fill="#7a2b95"/>
<circle cx="279.43" cy="304.59" r="1.00" fill="#7a2b95"/>
<circle cx="298.04" cy="323.09" r="1.00" fill="#7a2b95"/>
<circle cx="281.76" cy="306.89" r="1.00" fill="#7a2b95"/>
<circle cx="288.12" cy="323.57" r="1.00" fill="#7a2b95"/>
<circle cx="299.05" cy="323.74" r="1.00" fill="#7a2b95"/>
<circle cx="287.62" cy="307.03" r="1.00" fill="#7a2b95"/>
<circle cx="291.16" cy="318.31" r="1.00" fill="#7a2b95"/>
<circle cx="282.24" cy="308.73" r="1.00" fill="#7a2b95"/>
<circle cx="298.71" cy="328.03" r="1.00" fill="#7a2b95"/>
<circle cx="291.84" cy="318.75" r="1.00" fill="#7a2b95"/>
<circle cx="294.06" cy="330.61" r="1.00" fill="#7a2b95"/>
<circle cx="300.26" cy="315.77" r="1.00" fill="#7a2b95"/>
<circle cx="293.18" cy="323.08" r="1.00" fill="#7a2b95"/>
<circle cx="294.84" cy="316.01" r="1.00" fill="#7a2b95"/>
<circle cx="291.05" cy="315.06" r="1.00" fill="#7a2b95"/>
<circle cx="282.00" cy="317.14" r="1.00" fill="#7a2b95"/>
<circle cx="277.72" cy="316.26" r="1.00" fill="#7a2b95"/>
<circle cx="294.40" cy="314.57" r="1.00" fill="#7a2b95"/>
<circle cx="292.21" cy="330.07" r="1.00" fill="#7a2b95"/>
<circle cx="298.41" cy="319.96" r="1.00" fill="#7a2b95"/>
<circle cx="278.09" cy="312.03" r="1.00" fill="#7a2b95"/>
<circle cx="283.10" cy="303.54" r="1.00" fill="#7a2b95"/>
<circle cx="291.47" cy="329.19" r="1.00" fill="#7a2b95"/>
<circle cx="285.55" cy="327.40" r="1.00" fill="#7a2b95"/>
<circle cx="300.22" cy="319.29" r="1.00" fill="#7a2b95"/>
<circle cx="302.10" cy="322.75" r="1.00" fill="#7a2b95"/>
<circle cx="300.30" cy="314.35" r="1.00" fill="#7a2b95"/>
<circle cx="297.44" cy="315.80" r="1.00" fill="#7a2b95"/>
<circle cx="279.69" cy="302.49" r="1.00" fill="#7a2b95"/>
<circle cx="278.84" cy="307.23" r="1.00" fill="#7a2b95"/>
<circle cx="281.11" cy="316.16" r="1.00" fill="#7a2b95"/>
<circle cx="295.86" cy="317.38" r="1.00" fill="#7a2b95"/>
<circle cx="288.27" cy="320.74" r="1.00" fill="#7a2b95"/>
<circle cx="285.05" cy="315.18" r="1.00" fill="#7a2b95"/>
<circle cx="297.44" cy="313.28" r="1.00" fill="#7a2b95"/>
<circle cx="286.86" cy="317.13" r="1.00" fill="#7a2b95"/>
<circle cx="276.77" cy="307.49" r="1.00" fill="#7a2b95"/>
<circle cx="289.30" cy="307.08" r="1.00" fill="#7a2b95"/>
<circle cx="282.43" cy="306.34" r="1.00" fill="#7a2b95"/>
<circle cx="287.76" cy="306.27" r="1.00" fill="#7a2b95"/>
<circle cx="277.45" cy="304.51" r="1.00" fill="#7a2b95"/>
<circle cx="281.31" cy="315.96" r="1.00" fill="#7a2b95"/>
<circle cx="278.34" cy="301.88" r="1.00" fill="#7a2b95"/>
<circle cx="288.98" cy="313.47" r="1.00" fill="#7a2b95"/>
<circle cx="287.75" cy="313.14" r="1.00" fill="#7a2b95"/>
<circle cx="282.70" cy="304.04" r="1.00" fill="#7a2b95"/>
<circle cx="289.70" cy="306.16" r="1.00" fill="#7a2b95"/>
<circle cx="293.76" cy="311.63" r="1.00" fill="#7a2b95"/>
<circle cx="280.10" cy="302.76" r="1.00" fill="#7a2b95"/>
<circle cx="298.29" cy="315.21" r="1.00" fill="#7a2b95"/>
<circle cx="283.55" cy="309.20" r="1.00" fill="#7a2b95"/>
<circle cx="299.02" cy="320.14" r="1.00" fill="#7a2b95"/>
<circle cx="286.15" cy="304.02" r="1.00" fill="#7a2b95"/>
<circle cx="295.40" cy="330.37" r="1.00" fill="#7a2b95"/>
<circle cx="277.53" cy="303.93" r="1.00" fill="#7a2b95"/>
<circle cx="281.37" cy="302.30" r="1.00" fill="#7a2b95"/>
<circle cx="285.05" cy="319.47" r="1.00" fill="#7a2b95"/>
<circle cx="284.74" cy="326.78" r="1.00" fill="#7a2b95"/>
<circle cx="279.84" cy="312.93" r="1.00" fill="#7a2b95"/>
<circle cx="285.86" cy="321.67" r="1.00" fill="#7a2b95"/>
<circle cx="296.97" cy="323.29" r="1.00" fill="#7a2b95"/>
<circle cx="299.60" cy="317.86" r="1.00" fill="#7a2b95"/>
<circle cx="288.06" cy="308.11" r="1.00" fill="#7a2b95"/>
<circle cx="275.58" cy="302.16" r="0.90" fill="#7a2b95"/>
<circle cx="282.20" cy="299.21" r="0.90" fill="#7a2b95"/>
<circle cx="271.94" cy="303.86" r="0.90" fill="#7a2b95"/>
<circle cx="275.41" cy="299.69" r="0.90" fill="#7a2b95"/>
<circle cx="273.72" cy="299.32" r="0.90" fill="#7a2b95"/>
<circle cx="268.72" cy="303.10" r="0.90" fill="#7a2b95"/>
<circle cx="283.97" cy="303.81" r="0.90" fill="#7a2b95"/>
<circle cx="278.53" cy="299.42" r="0.90" fill="#7a2b95"/>
<circle cx="274.30" cy="297.00" r="0.90" fill="#7a2b95"/>
<circle cx="280.50" cy="298.91" r="0.90" fill="#7a2b95"/>
<circle cx="272.35" cy="307.43" r="0.90" fill="#7a2b95"/>
<circle cx="278.18" cy="304.71" r="0.90" fill="#7a2b95"/>
<circle cx="278.39" cy="297.43" r="0.90" fill="#7a2b95"/>
<circle cx="280.17" cy="298.43" r="0.90" fill="#7a2b95"/>
<circle cx="273.76" cy="296.83" r="0.90" fill="#7a2b95"/>
<circle cx="266.43" cy="299.79" r="0.90" fill="#7a2b95"/>
<circle cx="274.08" cy="296.55" r="0.90" fill="#7a2b95"/>
<circle cx="272.47" cy="296.00" r="0.90" fill="#7a2b95"/>
<circle cx="269.77" cy="302.97" r="0.90" fill="#7a2b95"/>
<circle cx="275.44" cy="300.48" r="0.90" fill="#7a2b95"/>
<circle cx="273.56" cy="296.89" r="0.90" fill="#7a2b95"/>
<circle cx="273.46" cy="296.48" r="0.90" fill="#7a2b95"/>
<circle cx="279.61" cy="303.32" r="0.90" fill="#7a2b95"/>
<circle cx="278.40" cy="300.29" r="0.90" fill="#7a2b95"/>
<circle cx="269.48" cy="299.87" r="0.90" fill="#7a2b95"/>
<circle cx="281.24" cy="306.93" r="0.90" fill="#7a2b95"/>
<circle cx="283.09" cy="301.02" r="0.90" fill="#7a2b95"/>
<circle cx="274.65" cy="306.09" r="0.90" fill="#7a2b95"/>
<circle cx="280.12" cy="305.29" r="0.90" fill="#7a2b95"/>
<circle cx="268.94" cy="302.80" r="0.90" fill="#7a2b95"/>
<circle cx="280.70" cy="298.18" r="0.90" fill="#7a2b95"/>
<circle cx="269.55" cy="305.72" r="0.90" fill="#7a2b95"/>
<circle cx="277.13" cy="300.32" r="0.90" fill="#7a2b95"/>
<circle cx="275.40" cy="298.42" r="0.90" fill="#7a2b95"/>
<circle cx="270.41" cy="296.53" r="0.90" fill="#7a2b95"/>
<circle cx="273.64" cy="297.03" r="0.90" fill="#7a2b95"/>
<circle cx="277.62" cy="296.33" r="0.90" fill="#7a2b95"/>
<circle cx="277.77" cy="297.14" r="0.90" fill="#7a2b95"/>
<circle cx="273.00" cy="296.80" r="0.90" fill="#7a2b95"/>
<circle cx="275.65" cy="296.14" r="0.90" fill="#7a2b95"/>
<circle cx="271.08" cy="298.12" r="0.90" fill="#7a2b95"/>
<circle cx="274.99" cy="306.83" r="0.90" fill="#7a2b95"/>
<circle cx="277.35" cy="304.98" r="0.90" fill="#7a2b95"/>
<circle cx="280.43" cy="301.84" r="0.90" fill="#7a2b95"/>
<circle cx="268.02" cy="301.65" r="0.90" fill="#7a2b95"/>
<circle cx="272.33" cy="306.83" r="0.90" fill="#7a2b95"/>
<circle cx="269.39" cy="296.84" r="0.90" fill="#7a2b95"/>
<circle cx="278.66" cy="302.78" r="0.90" fill="#7a2b95"/>
<circle cx="266.31" cy="299.50" r="0.90" fill="#7a2b95"/>
<circle cx="274.53" cy="305.48" r="0.90" fill="#7a2b95"/>
<circle cx="281.56" cy="306.12" r="0.90" fill="#7a2b95"/>
<circle cx="276.45" cy="306.92" r="0.90" fill="#7a2b95"/>
<circle cx="275.08" cy="298.81" r="0.90" fill="#7a2b95"/>
<circle cx="268.14" cy="305.60" r="0.90" fill="#7a2b95"/>
<circle cx="278.86" cy="302.91" r="0.90" fill="#7a2b95"/>
<circle cx="277.78" cy="325.47" r="0.90" fill="#7a2b95"/>
<circle cx="276.47" cy="320.80" r="0.90" fill="#7a2b95"/>
<circle cx="273.67" cy="320.37" r="0.90" fill="#7a2b95"/>
<circle cx="278.42" cy="324.00" r="0.90" fill="#7a2b95"/>
<circle cx="276.31" cy="321.78" r="0.90" fill="#7a2b95"/>
<circle cx="274.12" cy="317.25" r="0.90" fill="#7a2b95"/>
<circle cx="273.15" cy="321.25" r="0.90" fill="#7a2b95"/>
<circle cx="278.95" cy="322.10" r="0.90" fill="#7a2b95"/>
<circle cx="276.31" cy="320.26" r="0.90" fill="#7a2b95"/>
<circle cx="275.69" cy="319.82" r="0.90" fill="#7a2b95"/>
<circle cx="280.48" cy="318.06" r="0.90" fill="#7a2b95"/>
<circle cx="274.28" cy="323.48" r="0.90" fill="#7a2b95"/>
<circle cx="279.10" cy="321.65" r="0.90" fill="#7a2b95"/>
<circle cx="272.36" cy="317.69" r="0.90" fill="#7a2b95"/>
<circle cx="273.42" cy="319.08" r="0.90" fill="#7a2b95"/>
<circle cx="282.36" cy="319.13" r="0.90" fill="#7a2b95"/>
<circle cx="278.99" cy="325.46" r="0.90" fill="#7a2b95"/>
<circle cx="276.32" cy="319.49" r="0.90" fill="#7a2b95"/>
<circle cx="280.77" cy="318.81" r="0.90" fill="#7a2b95"/>
<circle cx="277.89" cy="319.05" r="0.90" fill="#7a2b95"/>
<circle cx="282.08" cy="320.92" r="0.90" fill="#7a2b95"/>
<circle cx="279.91" cy="316.10" r="0.90" fill="#7a2b95"/>
<circle cx="280.23" cy="317.37" r="0.90" fill="#7a2b95"/>
<circle cx="278.57" cy="318.82" r="0.90" fill="#7a2b95"/>
<circle cx="280.06" cy="316.29" r="0.90" fill="#7a2b95"/>
<circle cx="277.11" cy="322.58" r="0.90" fill="#7a2b95"/>
<circle cx="279.05" cy="324.75" r="0.90" fill="#7a2b95"/>
<circle cx="277.07" cy="315.49" r="0.90" fill="#7a2b95"/>
<circle cx="275.29" cy="319.20" r="0.90" fill="#7a2b95"/>
<circle cx="275.01" cy="323.26" r="0.90" fill="#7a2b95"/>
<circle cx="274.23" cy="324.46" r="0.90" fill="#7a2b95"/>
<circle cx="272.65" cy="319.54" r="0.90" fill="#7a2b95"/>
<circle cx="281.59" cy="320.53" r="0.90" fill="#7a2b95"/>
<circle cx="280.37" cy="315.61" r="0.90" fill="#7a2b95"/>
<circle cx="275.58" cy="321.93" r="0.90" fill="#7a2b95"/>
<circle cx="285.43" cy="324.28" r="0.90" fill="#7a2b95"/>
<circle cx="282.04" cy="311.96" r="0.90" fill="#7a2b95"/>
<circle cx="281.87" cy="322.91" r="0.90" fill="#7a2b95"/>
<circle cx="280.80" cy="323.14" r="0.90" fill="#7a2b95"/>
<circle cx="279.70" cy="323.84" r="0.90" fill="#7a2b95"/>
<circle cx="284.73" cy="315.31" r="0.90" fill="#7a2b95"/>
<circle cx="282.62" cy="321.21" r="0.90" fill="#7a2b95"/>
<circle cx="278.82" cy="318.38" r="0.90" fill="#7a2b95"/>
<circle cx="285.56" cy="312.04" r="0.90" fill="#7a2b95"/>
<circle cx="285.54" cy="321.29" r="0.90" fill="#7a2b95"/>
<circle cx="285.99" cy="313.58" r="0.90" fill="#7a2b95"/>
<circle cx="285.55" cy="315.99" r="0.90" fill="#7a2b95"/>
<circle cx="277.73" cy="310.54" r="0.90" fill="#7a2b95"/>
<circle cx="283.68" cy="312.61" r="0.90" fill="#7a2b95"/>
<circle cx="287.17" cy="319.15" r="0.90" fill="#7a2b95"/>
<circle cx="278.91" cy="320.62" r="0.90" fill="#7a2b95"/>
<circle cx="286.70" cy="317.52" r="0.90" fill="#7a2b95"/>
<circle cx="283.79" cy="321.55" r="0.90" fill="#7a2b95"/>
<circle cx="284.30" cy="295.50" r="1.10" fill="#7a2b95"/>
<circle cx="286.00" cy="297.20" r="1.10" fill="#7a2b95"/>
<circle cx="302.70" cy="301.00" r="1.10" fill="#7a2b95"/>
<circle cx="302.10" cy="305.50" r="1.10" fill="#7a2b95"/>
<circle cx="300.20" cy="307.20" r="1.10" fill="#7a2b95"/>
<circle cx="298.20" cy="310.00" r="1.10" fill="#7a2b95"/>
<circle cx="309.40" cy="297.70" r="1.10" fill="#7a2b95"/>
<circle cx="309.40" cy="301.70" r="1.10" fill="#7a2b95"/>
<circle cx="312.60" cy="293.00" r="1.10" fill="#7a2b95"/>
<circle cx="302.30" cy="301.20" r="1.10" fill="#7a2b95"/>
<circle cx="301.80" cy="340.20" r="1.10" fill="#7a2b95"/>
<circle cx="271.70" cy="316.90" r="1.10" fill="#7a2b95"/>
<circle cx="305.70" cy="290.70" r="1.10" fill="#7a2b95"/>
<path d="M304.00 289.20 L305.70 290.90 L308.00 292.50" fill="none" stroke="#7a2b95" stroke-width="1.80" stroke-linecap="round" stroke-linejoin="round"/>
<path d="M304.20 292.50 L307.20 289.50" fill="none" stroke="#7a2b95" stroke-width="1.80" stroke-linecap="round" stroke-linejoin="round"/>
<path d="M311.00 272.50 L313.70 274.10 L316.80 274.30" fill="none" stroke="#7a2b95" stroke-width="1.50" stroke-linecap="round" stroke-linejoin="round"/>
<circle cx="318.94" cy="293.32" r="0.90" fill="#7a2b95"/>
<circle cx="320.13" cy="290.48" r="0.90" fill="#7a2b95"/>
<circle cx="317.70" cy="294.16" r="0.90" fill="#7a2b95"/>
<circle cx="320.28" cy="293.01" r="0.90" fill="#7a2b95"/>
<circle cx="319.46" cy="293.34" r="0.90" fill="#7a2b95"/>
<circle cx="316.90" cy="292.12" r="0.90" fill="#7a2b95"/>
<circle cx="316.46" cy="293.48" r="0.90" fill="#7a2b95"/>
<circle cx="318.09" cy="291.93" r="0.90" fill="#7a2b95"/>
<circle cx="319.16" cy="290.20" r="0.90" fill="#7a2b95"/>
<circle cx="316.70" cy="292.03" r="0.90" fill="#7a2b95"/>
<circle cx="316.84" cy="291.42" r="0.90" fill="#7a2b95"/>
<circle cx="319.85" cy="290.60" r="0.90" fill="#7a2b95"/>
<circle cx="317.06" cy="294.19" r="0.90" fill="#7a2b95"/>
<circle cx="318.48" cy="292.00" r="0.90" fill="#7a2b95"/>
<circle cx="319.70" cy="292.32" r="0.90" fill="#7a2b95"/>
<circle cx="318.21" cy="291.70" r="0.90" fill="#7a2b95"/>
<path d="M308.70 296.70 L311.20 298.20 L313.70 299.20 L315.20 299.70" fill="none" stroke="#7a2b95" stroke-width="1.50" stroke-linecap="round" stroke-linejoin="round"/>
<circle cx="311.64" cy="304.36" r="0.85" fill="#7a2b95"/>
<circle cx="314.71" cy="303.71" r="0.85" fill="#7a2b95"/>
<circle cx="312.00" cy="304.55" r="0.85" fill="#7a2b95"/>
<circle cx="309.90" cy="304.03" r="0.85" fill="#7a2b95"/>
<circle cx="312.79" cy="305.97" r="0.85" fill="#7a2b95"/>
<circle cx="309.31" cy="302.59" r="0.85" fill="#7a2b95"/>
<circle cx="309.29" cy="306.09" r="0.85" fill="#7a2b95"/>
<circle cx="312.95" cy="304.75" r="0.85" fill="#7a2b95"/>
<circle cx="312.13" cy="300.91" r="0.85" fill="#7a2b95"/>
<circle cx="309.94" cy="302.17" r="0.85" fill="#7a2b95"/>
<circle cx="311.56" cy="306.31" r="0.85" fill="#7a2b95"/>
<circle cx="312.07" cy="304.92" r="0.85" fill="#7a2b95"/>
<circle cx="311.95" cy="305.07" r="0.85" fill="#7a2b95"/>
<circle cx="311.67" cy="302.42" r="0.85" fill="#7a2b95"/>
<circle cx="314.16" cy="305.38" r="0.85" fill="#7a2b95"/>
<circle cx="310.75" cy="302.08" r="0.85" fill="#7a2b95"/>
<circle cx="310.58" cy="300.98" r="0.85" fill="#7a2b95"/>
<circle cx="313.68" cy="303.26" r="0.85" fill="#7a2b95"/>
<circle cx="314.20" cy="303.17" r="0.85" fill="#7a2b95"/>
<circle cx="314.62" cy="303.74" r="0.85" fill="#7a2b95"/>
<circle cx="315.07" cy="303.24" r="0.85" fill="#7a2b95"/>
<circle cx="309.17" cy="304.84" r="0.85" fill="#7a2b95"/>
<path d="M315.70 301.20 L317.70 303.70 L319.20 306.70 L321.20 309.20 L322.70 309.90" fill="none" stroke="#7a2b95" stroke-width="1.50" stroke-linecap="round" stroke-linejoin="round"/>
<path d="M320.10 299.50 L322.70 297.90 L326.70 297.30" fill="none" stroke="#7a2b95" stroke-width="1.50" stroke-linecap="round" stroke-linejoin="round"/>
<path d="M300.20 306.20 L303.50 306.00" fill="none" stroke="#7a2b95" stroke-width="1.40" stroke-linecap="round" stroke-linejoin="round"/>
<path d="M277.00 325.70 L278.70 327.70 L277.70 330.70" fill="none" stroke="#7a2b95" stroke-width="1.50" stroke-linecap="round" stroke-linejoin="round"/>
<path d="M308.60 303.70 L310.20 306.70 L313.20 307.20" fill="none" stroke="#7a2b95" stroke-width="1.50" stroke-linecap="round" stroke-linejoin="round"/>
<path d="M315.80 303.70 L318.20 302.70 L321.70 304.70 L322.20 308.70" fill="none" stroke="#7a2b95" stroke-width="1.60" stroke-linecap="round" stroke-linejoin="round"/>
<circle cx="310.56" cy="302.74" r="0.90" fill="#7a2b95"/>
<circle cx="308.76" cy="307.84" r="0.90" fill="#7a2b95"/>
<circle cx="310.29" cy="303.54" r="0.90" fill="#7a2b95"/>
<circle cx="317.26" cy="304.76" r="0.90" fill="#7a2b95"/>
<circle cx="318.09" cy="300.46" r="0.90" fill="#7a2b95"/>
<circle cx="305.82" cy="298.83" r="0.90" fill="#7a2b95"/>
<circle cx="315.71" cy="307.73" r="0.90" fill="#7a2b95"/>
<circle cx="309.11" cy="304.55" r="0.90" fill="#7a2b95"/>
<circle cx="313.28" cy="307.27" r="0.90" fill="#7a2b95"/>
<circle cx="309.45" cy="306.86" r="0.90" fill="#7a2b95"/>
<circle cx="314.84" cy="308.10" r="0.90" fill="#7a2b95"/>
<circle cx="315.54" cy="309.21" r="0.90" fill="#7a2b95"/>
<circle cx="318.23" cy="297.50" r="0.90" fill="#7a2b95"/>
<circle cx="305.56" cy="301.65" r="0.90" fill="#7a2b95"/>
<circle cx="314.33" cy="297.91" r="0.90" fill="#7a2b95"/>
<circle cx="309.13" cy="300.43" r="0.90" fill="#7a2b95"/>
<circle cx="315.11" cy="296.58" r="0.90" fill="#7a2b95"/>
<circle cx="321.99" cy="305.13" r="0.90" fill="#7a2b95"/>
<circle cx="317.06" cy="303.08" r="0.90" fill="#7a2b95"/>
<circle cx="305.80" cy="301.43" r="0.90" fill="#7a2b95"/>
<circle cx="307.12" cy="304.06" r="0.90" fill="#7a2b95"/>
<circle cx="317.96" cy="303.67" r="0.90" fill="#7a2b95"/>
<circle cx="324.08" cy="298.30" r="0.90" fill="#7a2b95"/>
<circle cx="321.23" cy="304.08" r="0.90" fill="#7a2b95"/>
<circle cx="306.38" cy="302.14" r="0.90" fill="#7a2b95"/>
<circle cx="316.98" cy="304.23" r="0.90" fill="#7a2b95"/>
<circle cx="324.71" cy="299.41" r="0.90" fill="#7a2b95"/>
<circle cx="315.79" cy="297.05" r="0.90" fill="#7a2b95"/>
<circle cx="319.27" cy="301.46" r="0.90" fill="#7a2b95"/>
<circle cx="320.10" cy="306.31" r="0.90" fill="#7a2b95"/>
<circle cx="317.46" cy="302.71" r="0.90" fill="#7a2b95"/>
<circle cx="326.31" cy="299.23" r="0.90" fill="#7a2b95"/>
<circle cx="320.68" cy="305.40" r="0.90" fill="#7a2b95"/>
<circle cx="321.22" cy="302.35" r="0.90" fill="#7a2b95"/>
<circle cx="311.34" cy="307.22" r="0.90" fill="#7a2b95"/>
<circle cx="314.06" cy="308.41" r="0.90" fill="#7a2b95"/>
<circle cx="313.69" cy="299.82" r="0.90" fill="#7a2b95"/>
<circle cx="317.76" cy="305.15" r="0.90" fill="#7a2b95"/>
<circle cx="307.28" cy="290.33" r="0.95" fill="#7a2b95"/>
<circle cx="303.48" cy="289.30" r="0.95" fill="#7a2b95"/>
<circle cx="306.62" cy="286.96" r="0.95" fill="#7a2b95"/>
<circle cx="302.69" cy="287.98" r="0.95" fill="#7a2b95"/>
<circle cx="303.81" cy="288.76" r="0.95" fill="#7a2b95"/>
<circle cx="307.65" cy="289.82" r="0.95" fill="#7a2b95"/>
<circle cx="306.23" cy="291.73" r="0.95" fill="#7a2b95"/>
<circle cx="308.37" cy="290.78" r="0.95" fill="#7a2b95"/>
<circle cx="303.20" cy="290.60" r="0.95" fill="#7a2b95"/>
<circle cx="305.91" cy="288.05" r="0.95" fill="#7a2b95"/>
<circle cx="302.85" cy="288.08" r="0.95" fill="#7a2b95"/>
<circle cx="307.08" cy="292.79" r="0.95" fill="#7a2b95"/>
<circle cx="306.80" cy="289.90" r="0.95" fill="#7a2b95"/>
<circle cx="306.78" cy="290.67" r="0.95" fill="#7a2b95"/>
<circle cx="324.98" cy="279.26" r="0.9" fill="#7a2b95"/>
<circle cx="323.09" cy="296.20" r="0.9" fill="#7a2b95"/>
<circle cx="315.86" cy="293.88" r="0.9" fill="#7a2b95"/>
<circle cx="325.22" cy="287.52" r="0.9" fill="#7a2b95"/>
<circle cx="318.66" cy="295.38" r="0.9" fill="#7a2b95"/>
<circle cx="327.83" cy="291.79" r="0.9" fill="#7a2b95"/>
<circle cx="327.71" cy="291.46" r="0.9" fill="#7a2b95"/>
<circle cx="314.68" cy="290.56" r="0.9" fill="#7a2b95"/>
<circle cx="318.78" cy="282.53" r="0.9" fill="#7a2b95"/>
<circle cx="318.52" cy="293.43" r="0.9" fill="#7a2b95"/>
<circle cx="324.60" cy="290.98" r="0.9" fill="#7a2b95"/>
<circle cx="331.83" cy="287.30" r="0.9" fill="#7a2b95"/>
<circle cx="315.30" cy="294.05" r="0.9" fill="#7a2b95"/>
<circle cx="317.38" cy="281.13" r="0.9" fill="#7a2b95"/>
<circle cx="325.80" cy="291.82" r="0.9" fill="#7a2b95"/>
<circle cx="317.84" cy="281.08" r="0.9" fill="#7a2b95"/>
<circle cx="318.94" cy="282.77" r="0.9" fill="#7a2b95"/>
<circle cx="325.68" cy="290.80" r="0.9" fill="#7a2b95"/>
<circle cx="325.34" cy="280.60" r="0.9" fill="#7a2b95"/>
<circle cx="332.12" cy="282.15" r="0.9" fill="#7a2b95"/>
<circle cx="314.81" cy="294.90" r="0.9" fill="#7a2b95"/>
<circle cx="317.35" cy="279.85" r="0.9" fill="#7a2b95"/>
<circle cx="326.17" cy="290.93" r="0.9" fill="#7a2b95"/>
<circle cx="320.42" cy="288.80" r="0.9" fill="#7a2b95"/>
<circle cx="322.68" cy="295.13" r="0.9" fill="#7a2b95"/>
<circle cx="318.20" cy="292.03" r="0.9" fill="#7a2b95"/>
<circle cx="327.62" cy="284.54" r="0.9" fill="#7a2b95"/>
<circle cx="318.98" cy="284.19" r="0.9" fill="#7a2b95"/>
<circle cx="321.57" cy="282.11" r="0.9" fill="#7a2b95"/>
<circle cx="318.20" cy="290.60" r="0.9" fill="#7a2b95"/>
<circle cx="318.81" cy="294.06" r="0.9" fill="#7a2b95"/>
<circle cx="329.03" cy="280.27" r="0.9" fill="#7a2b95"/>
<circle cx="329.71" cy="287.54" r="0.9" fill="#7a2b95"/>
<circle cx="320.09" cy="288.70" r="0.9" fill="#7a2b95"/>
<circle cx="325.31" cy="289.93" r="0.9" fill="#7a2b95"/>
<circle cx="322.51" cy="278.06" r="0.9" fill="#7a2b95"/>
<circle cx="326.98" cy="280.09" r="0.9" fill="#7a2b95"/>
<circle cx="323.88" cy="296.56" r="0.9" fill="#7a2b95"/>
<circle cx="325.94" cy="290.84" r="0.9" fill="#7a2b95"/>
<circle cx="327.63" cy="282.24" r="0.9" fill="#7a2b95"/>
<circle cx="321.19" cy="285.69" r="0.9" fill="#7a2b95"/>
<circle cx="326.91" cy="278.68" r="0.9" fill="#7a2b95"/>
<circle cx="327.61" cy="283.38" r="0.9" fill="#7a2b95"/>
<circle cx="323.20" cy="280.73" r="0.9" fill="#7a2b95"/>
<circle cx="314.62" cy="291.76" r="0.9" fill="#7a2b95"/>
<path d="M263.50 303.20 C263.42 302.12 263.17 300.45 263.70 299.20 C264.23 297.95 265.32 296.65 266.70 295.70 C268.08 294.75 270.25 293.80 272.00 293.50 C273.75 293.20 275.53 293.30 277.20 293.90 C278.87 294.50 280.42 296.20 282.00 297.10 C283.58 298.00 284.92 298.65 286.70 299.30 C288.48 299.95 290.73 300.27 292.70 301.00 C294.67 301.73 296.58 302.62 298.50 303.70 C300.42 304.78 302.53 306.12 304.20 307.50 C305.87 308.88 307.50 310.47 308.50 312.00 C309.50 313.53 310.17 315.08 310.20 316.70 C310.23 318.32 309.62 320.25 308.70 321.70 C307.78 323.15 306.37 324.53 304.70 325.40 C303.03 326.27 300.70 326.80 298.70 326.90 C296.70 327.00 294.62 326.57 292.70 326.00 C290.78 325.43 288.70 324.25 287.20 323.50 C285.70 322.75 284.62 321.38 283.70 321.50 C282.78 321.62 282.42 323.28 281.70 324.20 C280.98 325.12 280.40 326.32 279.40 327.00 C278.40 327.68 276.98 328.42 275.70 328.30 C274.42 328.18 272.63 327.52 271.70 326.30 C270.77 325.08 270.20 322.67 270.10 321.00 C270.00 319.33 270.42 317.48 271.10 316.30 C271.78 315.12 273.10 314.47 274.20 313.90 C275.30 313.33 276.95 313.23 277.70 312.90 C278.45 312.57 279.03 312.27 278.70 311.90 C278.37 311.53 277.03 311.10 275.70 310.70 C274.37 310.30 272.28 310.00 270.70 309.50 C269.12 309.00 267.28 308.33 266.20 307.70 C265.12 307.07 264.65 306.45 264.20 305.70 C263.75 304.95 263.58 304.28 263.50 303.20Z" fill="#000" fill-opacity="0.35" stroke="#000" stroke-width="1.1"/>
<ellipse cx="322.60" cy="287.10" rx="12.4" ry="10.0" transform="rotate(-48 322.60 287.10)" fill="#000" fill-opacity="0.35" stroke="#000" stroke-width="1.1"/>
<path d="M281.70 304.30 L286.50 305.50 L290.20 308.20 L293.20 310.70 L295.70 313.20 L298.70 315.70 L301.70 317.70" fill="none" stroke="#000000" stroke-width="1.58" stroke-linecap="round" stroke-linejoin="round"/>
<ellipse cx="298.80" cy="316.30" rx="4.05" ry="2.47" transform="rotate(36 298.80 316.30)" fill="#000000"/>
<circle cx="281.00" cy="305.30" r="0.83" fill="#000000"/>
<circle cx="283.70" cy="305.30" r="0.83" fill="#000000"/>
<circle cx="268.90" cy="303.70" r="0.83" fill="#000000"/>
<circle cx="272.00" cy="299.50" r="0.83" fill="#000000"/>
<circle cx="275.10" cy="300.00" r="0.83" fill="#000000"/>
<circle cx="276.50" cy="302.00" r="0.83" fill="#000000"/>
<circle cx="276.20" cy="319.20" r="0.83" fill="#000000"/>
<circle cx="278.70" cy="320.30" r="0.83" fill="#000000"/>
<circle cx="276.50" cy="322.50" r="0.83" fill="#000000"/>
<circle cx="291.20" cy="310.70" r="0.83" fill="#000000"/>
<circle cx="292.20" cy="312.70" r="0.83" fill="#000000"/>
<path d="M318.70 290.00 L322.00 286.90 L325.30 283.80" fill="none" stroke="#000000" stroke-width="1.50" stroke-linecap="round" stroke-linejoin="round"/>
<rect x="311.8" y="366.6" width="57.69999999999999" height="16.099999999999966" fill="#fff" stroke="#a0a0a0" stroke-width="0.7"/>
<circle cx="323.6" cy="371.4" r="1.7" fill="#7b2a96"/>
<text x="334.0" y="373.29999999999995" font-size="5.4" text-anchor="start" fill="#111" stroke="#111" stroke-width="0.04">Nested Pulse</text>
<circle cx="323.6" cy="378.59999999999997" r="1.7" fill="#000"/>
<text x="334.0" y="380.49999999999994" font-size="5.4" text-anchor="start" fill="#111" stroke="#111" stroke-width="0.04">Behavior</text>
<path d="M421.2 21.7V159.7H568.2" fill="none" stroke="#a0a0a0" stroke-width="0.9"/>
<path d="M421.2 159.70h1.8" stroke="#a0a0a0" stroke-width="0.7"/>
<text x="417.8" y="163.29999999999998" font-size="10.2" text-anchor="end" fill="#111" stroke="#111" stroke-width="0.22">0</text>
<path d="M421.2 132.30h1.8" stroke="#a0a0a0" stroke-width="0.7"/>
<text x="417.8" y="135.89999999999998" font-size="10.2" text-anchor="end" fill="#111" stroke="#111" stroke-width="0.22">0.2</text>
<path d="M421.2 104.90h1.8" stroke="#a0a0a0" stroke-width="0.7"/>
<text x="417.8" y="108.49999999999997" font-size="10.2" text-anchor="end" fill="#111" stroke="#111" stroke-width="0.22">0.4</text>
<path d="M421.2 77.50h1.8" stroke="#a0a0a0" stroke-width="0.7"/>
<text x="417.8" y="81.09999999999997" font-size="10.2" text-anchor="end" fill="#111" stroke="#111" stroke-width="0.22">0.6</text>
<path d="M421.2 50.10h1.8" stroke="#a0a0a0" stroke-width="0.7"/>
<text x="417.8" y="53.69999999999998" font-size="10.2" text-anchor="end" fill="#111" stroke="#111" stroke-width="0.22">0.8</text>
<path d="M421.2 22.70h1.8" stroke="#a0a0a0" stroke-width="0.7"/>
<text x="417.8" y="26.29999999999999" font-size="10.2" text-anchor="end" fill="#111" stroke="#111" stroke-width="0.22">1</text>
<path d="M444.40 159.7v-1.8" stroke="#a0a0a0" stroke-width="0.7"/>
<text x="450.7" y="172.0" font-size="9.4" text-anchor="end" fill="#111" stroke="#111" stroke-width="0.22" transform="rotate(-45 450.7 172.0)">Behavior</text>
<path d="M467.60 159.7v-1.8" stroke="#a0a0a0" stroke-width="0.7"/>
<text x="473.9" y="172.0" font-size="9.4" text-anchor="end" fill="#111" stroke="#111" stroke-width="0.22" transform="rotate(-45 473.9 172.0)">Sine (2D)</text>
<path d="M490.80 159.7v-1.8" stroke="#a0a0a0" stroke-width="0.7"/>
<text x="497.09999999999997" y="172.0" font-size="9.4" text-anchor="end" fill="#111" stroke="#111" stroke-width="0.22" transform="rotate(-45 497.09999999999997 172.0)">Standard (3D)</text>
<path d="M514.00 159.7v-1.8" stroke="#a0a0a0" stroke-width="0.7"/>
<text x="520.3" y="172.0" font-size="9.4" text-anchor="end" fill="#111" stroke="#111" stroke-width="0.22" transform="rotate(-45 520.3 172.0)">Poisson (3D)</text>
<path d="M537.20 159.7v-1.8" stroke="#a0a0a0" stroke-width="0.7"/>
<text x="543.5" y="172.0" font-size="9.4" text-anchor="end" fill="#111" stroke="#111" stroke-width="0.22" transform="rotate(-45 543.5 172.0)">Double Sine (4D)</text>
<path d="M560.40 159.7v-1.8" stroke="#a0a0a0" stroke-width="0.7"/>
<text x="566.6999999999999" y="172.0" font-size="9.4" text-anchor="end" fill="#111" stroke="#111" stroke-width="0.22" transform="rotate(-45 566.6999999999999 172.0)">Nested Pulse (5D)</text>
<text x="453.2" y="18.8" font-size="10.6" text-anchor="start" font-weight="bold" fill="#000" stroke="#000" stroke-width="0.22" textLength="82.7" lengthAdjust="spacingAndGlyphs">Normalized area</text>
<text x="399.6" y="128.8" font-size="10.4" text-anchor="start" fill="#111" stroke="#111" stroke-width="0.22" transform="rotate(-90 399.6 128.8)" textLength="75.8" lengthAdjust="spacingAndGlyphs">Fraction of total</text>
<polygon points="437.80,30.00 438.48,31.77 440.37,31.87 438.89,33.06 439.39,34.88 437.80,33.85 436.21,34.88 436.71,33.06 435.23,31.87 437.12,31.77" fill="#111"/>
<polygon points="443.70,30.00 444.38,31.77 446.27,31.87 444.79,33.06 445.29,34.88 443.70,33.85 442.11,34.88 442.61,33.06 441.13,31.87 443.02,31.77" fill="#111"/>
<polygon points="449.60,30.00 450.28,31.77 452.17,31.87 450.69,33.06 451.19,34.88 449.60,33.85 448.01,34.88 448.51,33.06 447.03,31.87 448.92,31.77" fill="#111"/>
<path d="M447.90 93.00 L448.40 100.00 L449.60 106.00 L450.70 113.00 L450.20 119.00 L448.80 126.00 L439.20 126.00 L437.80 119.00 L437.30 113.00 L438.40 106.00 L439.60 100.00 L440.10 93.00Z" fill="#bababa" stroke="#8a8a8a" stroke-width="0.6" stroke-linejoin="round"/>
<path d="M444.0 94V125" stroke="#666" stroke-width="0.65"/>
<circle cx="440.6" cy="93.3" r="1.2" fill="#8a8a8a"/>
<circle cx="438" cy="113.9" r="1.2" fill="#8a8a8a"/>
<circle cx="440.6" cy="126.4" r="1.2" fill="#8a8a8a"/>
<circle cx="444.0" cy="113.7" r="2.1" fill="#fff" stroke="#888" stroke-width="0.5"/>
<path d="M474.20 52.50 L473.80 58.00 L473.50 70.00 L473.70 82.00 L474.20 93.00 L460.60 93.00 L461.10 82.00 L461.30 70.00 L461.00 58.00 L460.60 52.50Z" fill="#b3d6f3" stroke="#6aaae3" stroke-width="0.6" stroke-linejoin="round"/>
<path d="M467.4 53V92" stroke="#666" stroke-width="0.65"/>
<circle cx="461.6" cy="53" r="1.2" fill="#6aaae3"/>
<circle cx="461.4" cy="60" r="1.2" fill="#6aaae3"/>
<circle cx="462" cy="78" r="1.2" fill="#6aaae3"/>
<circle cx="462" cy="93" r="1.2" fill="#6aaae3"/>
<circle cx="467.4" cy="69.8" r="2.1" fill="#fff" stroke="#888" stroke-width="0.5"/>
<path d="M493.20 45.80 L493.90 47.00 L492.20 48.80 L491.30 50.00 L491.30 57.50 L493.70 58.50 L497.20 60.50 L497.90 62.50 L494.70 64.70 L486.70 64.70 L483.50 62.50 L484.20 60.50 L487.70 58.50 L490.10 57.50 L490.10 50.00 L489.20 48.80 L487.50 47.00 L488.20 45.80Z" fill="#f7c8b0" stroke="#eb9a72" stroke-width="0.6" stroke-linejoin="round"/>
<path d="M490.7 46V64" stroke="#666" stroke-width="0.65"/>
<circle cx="493" cy="45.8" r="1.2" fill="#eb9a72"/>
<circle cx="487.5" cy="61" r="1.2" fill="#eb9a72"/>
<circle cx="495" cy="63" r="1.2" fill="#eb9a72"/>
<circle cx="490.7" cy="61.8" r="2.1" fill="#fff" stroke="#888" stroke-width="0.5"/>
<path d="M520.20 82.30 L521.40 88.00 L521.80 96.00 L521.60 105.00 L520.80 115.00 L519.60 125.00 L518.20 137.00 L510.20 137.00 L508.80 125.00 L507.60 115.00 L506.80 105.00 L506.60 96.00 L507.00 88.00 L508.20 82.30Z" fill="#fde7b2" stroke="#f1c870" stroke-width="0.6" stroke-linejoin="round"/>
<path d="M514.2 83V136" stroke="#666" stroke-width="0.65"/>
<circle cx="508.5" cy="93" r="1.2" fill="#f1c870"/>
<circle cx="509" cy="101" r="1.2" fill="#f1c870"/>
<circle cx="514" cy="82.5" r="1.2" fill="#f1c870"/>
<circle cx="514" cy="137" r="1.2" fill="#f1c870"/>
<circle cx="514.2" cy="105.1" r="2.1" fill="#fff" stroke="#888" stroke-width="0.5"/>
<path d="M542.90 53.00 L544.10 56.00 L544.50 62.00 L544.10 68.00 L542.20 73.00 L541.10 77.70 L534.30 77.70 L533.20 73.00 L531.30 68.00 L530.90 62.00 L531.30 56.00 L532.50 53.00Z" fill="#cde9b8" stroke="#92ca6c" stroke-width="0.6" stroke-linejoin="round"/>
<path d="M537.7 54V77" stroke="#666" stroke-width="0.65"/>
<circle cx="534.5" cy="58" r="1.2" fill="#92ca6c"/>
<circle cx="537" cy="53.3" r="1.2" fill="#92ca6c"/>
<circle cx="541" cy="65" r="1.2" fill="#92ca6c"/>
<circle cx="538" cy="77.5" r="1.2" fill="#92ca6c"/>
<circle cx="537.7" cy="62.8" r="2.1" fill="#fff" stroke="#888" stroke-width="0.5"/>
<path d="M565.20 72.00 L567.20 75.00 L568.30 80.00 L567.40 86.00 L565.60 92.00 L564.60 98.20 L557.80 98.20 L556.80 92.00 L555.00 86.00 L554.10 80.00 L555.20 75.00 L557.20 72.00Z" fill="#e0c0ea" stroke="#b07ccb" stroke-width="0.6" stroke-linejoin="round"/>
<path d="M561.2 73V97" stroke="#666" stroke-width="0.65"/>
<circle cx="558" cy="73" r="1.2" fill="#b07ccb"/>
<circle cx="564" cy="80" r="1.2" fill="#b07ccb"/>
<circle cx="558" cy="98" r="1.2" fill="#b07ccb"/>
<circle cx="561.2" cy="81.6" r="2.1" fill="#fff" stroke="#888" stroke-width="0.5"/>
<path d="M421.2 248.4V387.8H568.2" fill="none" stroke="#a0a0a0" stroke-width="0.9"/>
<path d="M421.2 387.80h1.8" stroke="#a0a0a0" stroke-width="0.7"/>
<text x="417.8" y="391.40000000000003" font-size="10.2" text-anchor="end" fill="#111" stroke="#111" stroke-width="0.22">0</text>
<path d="M421.2 360.06h1.8" stroke="#a0a0a0" stroke-width="0.7"/>
<text x="417.8" y="363.66" font-size="10.2" text-anchor="end" fill="#111" stroke="#111" stroke-width="0.22">0.2</text>
<path d="M421.2 332.32h1.8" stroke="#a0a0a0" stroke-width="0.7"/>
<text x="417.8" y="335.92" font-size="10.2" text-anchor="end" fill="#111" stroke="#111" stroke-width="0.22">0.4</text>
<path d="M421.2 304.58h1.8" stroke="#a0a0a0" stroke-width="0.7"/>
<text x="417.8" y="308.18000000000006" font-size="10.2" text-anchor="end" fill="#111" stroke="#111" stroke-width="0.22">0.6</text>
<path d="M421.2 276.84h1.8" stroke="#a0a0a0" stroke-width="0.7"/>
<text x="417.8" y="280.44000000000005" font-size="10.2" text-anchor="end" fill="#111" stroke="#111" stroke-width="0.22">0.8</text>
<path d="M421.2 249.10h1.8" stroke="#a0a0a0" stroke-width="0.7"/>
<text x="417.8" y="252.70000000000002" font-size="10.2" text-anchor="end" fill="#111" stroke="#111" stroke-width="0.22">1</text>
<path d="M445.75 387.8v-1.8" stroke="#a0a0a0" stroke-width="0.7"/>
<text x="451.25" y="398.7" font-size="9.4" text-anchor="end" fill="#111" stroke="#111" stroke-width="0.22" transform="rotate(-45 451.25 398.7)">Standard</text>
<path d="M470.30 387.8v-1.8" stroke="#a0a0a0" stroke-width="0.7"/>
<text x="475.8" y="398.7" font-size="9.4" text-anchor="end" fill="#111" stroke="#111" stroke-width="0.22" transform="rotate(-45 475.8 398.7)">Sine</text>
<path d="M494.85 387.8v-1.8" stroke="#a0a0a0" stroke-width="0.7"/>
<text x="500.35" y="398.7" font-size="9.4" text-anchor="end" fill="#111" stroke="#111" stroke-width="0.22" transform="rotate(-45 500.35 398.7)">Double Sine</text>
<path d="M519.40 387.8v-1.8" stroke="#a0a0a0" stroke-width="0.7"/>
<text x="524.9" y="398.7" font-size="9.4" text-anchor="end" fill="#111" stroke="#111" stroke-width="0.22" transform="rotate(-45 524.9 398.7)">Nested Pulse</text>
<path d="M543.95 387.8v-1.8" stroke="#a0a0a0" stroke-width="0.7"/>
<text x="549.45" y="398.7" font-size="9.4" text-anchor="end" fill="#111" stroke="#111" stroke-width="0.22" transform="rotate(-45 549.45 398.7)">Poisson</text>
<path d="M568.50 387.8v-1.8" stroke="#a0a0a0" stroke-width="0.7"/>
<text x="574.0" y="398.7" font-size="9.4" text-anchor="end" fill="#111" stroke="#111" stroke-width="0.22" transform="rotate(-45 574.0 398.7)">Standard</text>
<text x="423.5" y="246.1" font-size="9.5" text-anchor="start" font-weight="bold" fill="#000" stroke="#000" stroke-width="0.22" textLength="141.2" lengthAdjust="spacingAndGlyphs">Pairwise similarity vs. Behavior</text>
<text x="401.5" y="342.3" font-size="10.9" text-anchor="start" fill="#111" stroke="#111" stroke-width="0.22" transform="rotate(-90 401.5 342.3)" textLength="48.3" lengthAdjust="spacingAndGlyphs">DICE Score</text>
<polygon points="439.10,257.00 439.78,258.77 441.67,258.87 440.19,260.06 440.69,261.88 439.10,260.85 437.51,261.88 438.01,260.06 436.53,258.87 438.42,258.77" fill="#111"/>
<polygon points="445.00,257.00 445.68,258.77 447.57,258.87 446.09,260.06 446.59,261.88 445.00,260.85 443.41,261.88 443.91,260.06 442.43,258.87 444.32,258.77" fill="#111"/>
<polygon points="450.90,257.00 451.58,258.77 453.47,258.87 451.99,260.06 452.49,261.88 450.90,260.85 449.31,261.88 449.81,260.06 448.33,258.87 450.22,258.77" fill="#111"/>
<path d="M452.40 314.30 L451.80 330.00 L451.20 345.00 L450.60 357.90 L439.40 357.90 L438.80 345.00 L438.20 330.00 L437.60 314.30Z" fill="#f7c8b0" stroke="#eb9a72" stroke-width="0.6" stroke-linejoin="round"/>
<path d="M445.0 315V357" stroke="#666" stroke-width="0.65"/>
<circle cx="440.5" cy="317.7" r="1.2" fill="#eb9a72"/>
<circle cx="447.5" cy="314.5" r="1.2" fill="#eb9a72"/>
<circle cx="445.5" cy="341.5" r="1.2" fill="#eb9a72"/>
<circle cx="450" cy="358" r="1.2" fill="#eb9a72"/>
<circle cx="445.0" cy="329.6" r="2.1" fill="#fff" stroke="#888" stroke-width="0.5"/>
<path d="M477.10 304.80 L477.20 306.00 L475.40 310.00 L472.90 314.00 L470.00 317.70 L470.00 327.60 L472.80 331.50 L471.90 334.00 L470.20 336.10 L468.60 336.10 L466.90 334.00 L466.00 331.50 L468.80 327.60 L468.80 317.70 L465.90 314.00 L463.40 310.00 L461.60 306.00 L461.70 304.80Z" fill="#b3d6f3" stroke="#6aaae3" stroke-width="0.6" stroke-linejoin="round"/>
<path d="M469.4 305V336" stroke="#666" stroke-width="0.65"/>
<circle cx="463" cy="305" r="1.2" fill="#6aaae3"/>
<circle cx="470" cy="327" r="1.2" fill="#6aaae3"/>
<circle cx="468" cy="336" r="1.2" fill="#6aaae3"/>
<circle cx="469.4" cy="309.7" r="2.1" fill="#fff" stroke="#888" stroke-width="0.5"/>
<path d="M497.00 280.00 L498.10 282.50 L496.50 285.00 L495.10 287.00 L495.10 298.80 L499.50 302.00 L502.10 307.70 L501.30 312.00 L499.50 316.70 L489.50 316.70 L487.70 312.00 L486.90 307.70 L489.50 302.00 L493.90 298.80 L493.90 287.00 L492.50 285.00 L490.90 282.50 L492.00 280.00Z" fill="#cde9b8" stroke="#92ca6c" stroke-width="0.6" stroke-linejoin="round"/>
<path d="M494.5 281V316" stroke="#666" stroke-width="0.65"/>
<circle cx="492" cy="280.5" r="1.2" fill="#92ca6c"/>
<circle cx="497" cy="281" r="1.2" fill="#92ca6c"/>
<circle cx="489" cy="308" r="1.2" fill="#92ca6c"/>
<circle cx="500" cy="316" r="1.2" fill="#92ca6c"/>
<circle cx="494.5" cy="307.7" r="2.1" fill="#fff" stroke="#888" stroke-width="0.5"/>
<path d="M526.10 308.00 L525.90 310.00 L522.90 312.00 L520.10 313.10 L519.50 322.40 L522.40 324.00 L519.90 326.50 L517.90 326.50 L515.40 324.00 L518.30 322.40 L517.70 313.10 L514.90 312.00 L511.90 310.00 L511.70 308.00Z" fill="#e0c0ea" stroke="#b07ccb" stroke-width="0.6" stroke-linejoin="round"/>
<path d="M518.9 308V326" stroke="#666" stroke-width="0.65"/>
<circle cx="514" cy="308.5" r="1.2" fill="#b07ccb"/>
<circle cx="522" cy="308" r="1.2" fill="#b07ccb"/>
<circle cx="519" cy="326" r="1.2" fill="#b07ccb"/>
<circle cx="518.9" cy="310.6" r="2.1" fill="#fff" stroke="#888" stroke-width="0.5"/>
<path d="M550.20 298.70 L549.80 302.00 L549.00 307.00 L547.20 313.60 L546.40 320.00 L545.60 329.60 L540.80 329.60 L540.00 320.00 L539.20 313.60 L537.40 307.00 L536.60 302.00 L536.20 298.70Z" fill="#fde7b2" stroke="#f1c870" stroke-width="0.6" stroke-linejoin="round"/>
<path d="M543.2 299V329" stroke="#666" stroke-width="0.65"/>
<circle cx="546.5" cy="302" r="1.2" fill="#f1c870"/>
<circle cx="547" cy="309" r="1.2" fill="#f1c870"/>
<circle cx="543.5" cy="298.7" r="1.2" fill="#f1c870"/>
<circle cx="544" cy="329" r="1.2" fill="#f1c870"/>
<circle cx="543.2" cy="306.2" r="2.1" fill="#fff" stroke="#888" stroke-width="0.5"/>
</svg>
</body></html>
